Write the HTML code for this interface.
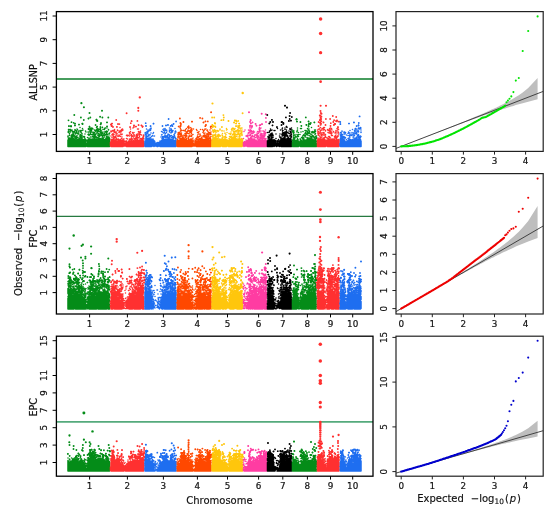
<!DOCTYPE html>
<html lang="en"><head><meta charset="utf-8"><title>Manhattan and QQ plots</title>
<style>html,body{margin:0;padding:0;background:#fff}body{width:550px;height:513px;overflow:hidden}</style></head>
<body>
<svg width="550" height="513" viewBox="0 0 550 513" style="display:block">
<rect width="550" height="513" fill="#fff"/>
<g transform="scale(.5)" stroke-width="3.1" stroke-linecap="round" fill="none">
<path d="M136 293v-13M136 274v-2M136 264h0M137 293v-17M137 265h0M137 262h0M137 259h0M138 293v-14M138 264v-1M138 260v-1M138 252h0M139 293v-17M139 271v-1M139 267h0M140 293v-13M140 276h0M140 259h0M141 293v-16M141 264h0M141 261v-2M142 293v-13M142 272h0M142 253v-1M143 293v-19M143 270h0M143 261h0M144 293v-15M144 275v-1M144 261v-1M145 293v-13M145 276h0M145 273v-1M145 269v-1M145 264v-1M146 293v-12M146 274v-2M147 293v-16M147 269h0M147 266h0M147 263h0M148 293v-12M148 272v-2M148 264h0M149 293v-13M149 276h0M149 272h0M149 263h0M150 293v-14M150 276v-4M150 266h0M150 261v-2M150 251h0M150 247h0M151 293v-11M151 277h0M151 268v-2M152 293v-11M152 278h0M152 275v-2M152 261h0M153 293v-12M153 278v-2M153 266v-3M154 293v-14M154 276v-2M154 271h0M154 266h0M154 262h0M154 258h0M155 293v-13M155 267h0M155 259h0M156 293v-14M156 275h0M156 268v-2M157 293v-15M157 268h0M157 262h0M158 293v-14M158 268h0M158 264h0M158 249h0M159 293v-16M159 272h0M160 293v-12M160 277v-2M160 261h0M160 255h0M161 293v-14M161 273h0M161 270v-1M161 263h0M162 293v-12M162 276h0M162 265v-1M162 261h0M163 293v-13M163 277v-3M163 271h0M163 266h0M164 293v-12M164 271v-1M164 267h0M164 261h0M165 293v-15M165 274h0M165 257h0M165 248v-1M166 293v-11M166 274h0M166 260h0M167 292v-11M167 273h0M168 293v-14M169 293v-13M169 275v-2M170 293v-13M170 277h0M170 268h0M171 293v-14M171 262h0M172 293v-6M172 264h0M173 290v-1M173 282h0M174 292v-2M174 286h0M174 280h0M175 293v-11M175 275h0M176 293v-13M176 269h0M176 264h0M177 293v-15M177 268h0M177 259v-2M177 237h0M178 293v-14M178 276h0M178 271v-1M178 264h0M179 293v-13M179 269h0M179 256h0M179 253h0M180 292v-14M180 269h0M180 262v-3M180 256h0M181 293v-12M181 274h0M181 267v-2M182 293v-15M182 269h0M182 264v-3M182 258v-2M183 293v-13M183 264h0M183 261v-2M184 293v-13M184 274h0M184 269h0M184 256h0M185 293v-15M185 273h0M185 257h0M186 293v-14M186 272h0M186 269h0M186 266v-2M186 258h0M187 293v-13M187 276h0M187 273h0M188 293v-13M188 269v-3M189 293v-19M189 271v-3M189 265h0M189 260h0M190 293v-14M190 276h0M190 271h0M190 264h0M190 261h0M191 293v-14M191 272h0M191 269v-1M191 262v-1M191 250h0M192 293v-14M192 274v-1M192 268h0M193 293v-13M193 276h0M193 262v-3M193 255h0M193 239h0M194 293v-14M194 276v-1M194 266v-1M194 262v-2M194 253h0M194 241h0M195 293v-14M195 275h0M195 270h0M195 266h0M195 263h0M195 260v-3M195 242h0M196 293v-13M196 262h0M196 258h0M197 293v-17M197 272v-2M197 267h0M197 263v-2M198 293v-13M198 274h0M198 270h0M198 258h0M199 293v-16M199 273v-1M199 268h0M199 259h0M200 293v-14M200 272v-1M200 264v-1M201 293v-16M201 268h0M201 265h0M201 261v-4M201 254h0M201 249h0M202 293v-15M202 262v-1M202 246h0M203 293v-15M203 271v-2M203 266v-1M203 262h0M204 293v-13M204 276h0M204 266h0M205 293v-13M205 276h0M205 273v-2M205 267v-1M205 255h0M206 293v-15M206 272h0M206 268h0M206 264h0M206 259h0M207 293v-13M207 276h0M207 271h0M208 293v-14M208 275h0M208 268h0M209 292v-11M209 272v-1M209 268v-2M209 259v-2M210 293v-14M210 269h0M210 263h0M210 256h0M211 293v-15M211 270h0M211 256h0M212 293v-14M212 276h0M212 269h0M212 265v-1M213 293v-14M213 274v-1M213 267h0M213 263v-1M214 293v-16M214 272h0M214 269h0M214 266h0M214 263h0M214 256h0M214 253h0M214 245h0M215 293v-13M215 275v-1M215 269h0M215 263h0M216 293v-11M216 276v-2M217 293v-16M217 274h0M217 260v-1M218 293v-13M218 276v-2M218 270h0M218 267h0M219 293v-17M219 267v-1" stroke="#048c18"/>
<path d="M221 292v-7M222 293v-11M222 279h0M222 272h0M222 264v-2M222 249h0M223 293v-14M223 263h0M223 252v-1M224 292v-12M224 275h0M224 269h0M224 247h0M225 293v-14M225 262v-1M226 293v-15M226 272v-1M226 268v-1M226 254h0M227 293v-10M227 280v-3M227 274v-1M227 261h0M228 293v-13M228 276h0M228 269h0M228 264v-1M229 293v-13M229 276v-2M229 265h0M229 261v-2M230 293v-13M230 276h0M230 265v-1M231 293v-12M231 273v-1M231 265v-1M232 293v-14M232 275v-1M232 268h0M233 293v-10M233 277h0M233 264h0M234 293v-10M234 279v-1M234 271h0M234 268v-1M234 254h0M235 293v-11M235 261v-1M236 293v-11M236 273h0M236 248h0M237 293v-8M237 282v-4M238 293v-12M238 272v-2M238 265h0M238 262h0M239 293v-13M240 293v-12M240 272h0M240 264v-2M240 255h0M241 293v-14M241 273h0M241 268h0M241 263h0M242 293v-13M242 269h0M242 264h0M242 261h0M243 293v-10M243 277h0M243 262h0M243 259h0M244 293v-12M244 274h0M244 269v-1M245 293v-12M245 261h0M245 258h0M246 293v-15M246 260h0M247 292v-8M248 292v-4M248 283v-1M248 278h0M249 292v-2M249 284v-2M250 292v-5M250 283h0M251 292v-6M252 292v-6M252 282h0M253 293v-11M253 277h0M253 271h0M254 293v-4M254 286v-1M254 270h0M255 293v-8M255 278h0M255 272h0M256 293v-8M256 271h0M257 292v-10M257 271h0M258 293v-8M259 293v-11M259 279v-1M259 272h0M259 268h0M259 265h0M260 293v-11M260 268v-2M260 254h0M261 293v-10M261 279h0M261 263h0M261 258h0M262 293v-11M262 277h0M262 271h0M263 293v-13M263 274h0M263 269h0M263 242h0M264 293v-10M264 278v-1M264 273v-2M265 293v-10M265 272h0M265 265h0M266 293v-10M266 280h0M266 267h0M266 256h0M267 293v-9M267 281h0M267 274h0M268 293v-10M268 277h0M268 271v-2M268 265h0M268 254h0M268 251h0M269 293v-9M269 278h0M269 272h0M270 293v-16M271 293v-10M271 280h0M272 293v-9M272 281h0M272 277v-2M272 272h0M272 253h0M273 293v-12M273 277v-2M273 271v-2M274 293v-11M274 279h0M274 276v-2M274 271h0M275 293v-10M275 279h0M275 276v-2M275 271h0M275 268h0M275 258h0M276 293v-12M277 293v-12M277 264v-1M277 258h0M277 250h0M278 293v-12M278 276v-1M278 270v-3M278 264h0M279 293v-13M279 273h0M279 270v-1M279 264h0M280 293v-12M280 266v-2M281 293v-11M281 278v-1M281 269h0M281 265h0M281 262h0M282 293v-12M282 277h0M283 293v-13M283 270h0M283 251h0M284 293v-11M284 279v-2M285 293v-13M285 277v-1M285 254v-1M286 293v-14M286 274h0M287 293v-11M287 277h0M287 274v-4M288 292v-6" stroke="#ff3030"/>
<path d="M290 293v-11M290 278h0M290 270h0M290 266h0M291 293v-10M291 278h0M291 274h0M291 269h0M291 265h0M292 293v-12M292 278h0M292 270v-2M292 252h0M293 293v-14M293 276v-3M293 270h0M293 266h0M293 258h0M294 293v-11M294 273v-1M294 266h0M294 263h0M295 293v-12M295 278v-1M295 273h0M295 266h0M295 263h0M296 293v-15M296 268h0M296 264h0M296 260h0M297 293v-12M297 277h0M297 271h0M297 262h0M298 293v-10M298 280v-2M298 274h0M298 270h0M298 262h0M299 293v-16M299 270h0M299 260h0M300 293v-16M300 270v-1M300 258h0M301 293v-14M301 275h0M301 261h0M301 252h0M302 292v-13M302 266h0M302 258v-2M303 293v-9M303 281h0M303 278h0M303 273h0M304 292v-12M305 292v-8M305 281v-2M305 271h0M306 292v-10M306 278h0M306 272h0M306 267h0M307 292v-7M307 282v-2M307 265h0M307 247h0M308 293v-11M309 292v-5M309 282h0M309 272h0M310 291v-1M310 287h0M310 284h0M311 292h0M311 288v-1M312 292v-3M313 292v-2M313 287v-1M314 293v-1M314 289v-2M315 292v-1M315 285h0M316 293v-5M317 292v-3M317 286v-1M318 292v-6M319 292v-7M320 293v-11M321 292v-7M322 293v-11M322 274h0M323 293v-7M323 283v-2M323 270h0M323 263h0M324 293v-13M324 277h0M324 269h0M325 293v-10M325 280v-2M325 275v-2M325 264h0M325 252h0M326 293v-14M326 275v-2M326 259h0M327 293v-14M327 276h0M327 266h0M327 261h0M327 258h0M328 293v-14M328 273h0M329 293v-14M329 265h0M329 262h0M330 293v-13M330 275v-4M330 268h0M330 260v-3M331 293v-13M331 275h0M331 267h0M331 261h0M332 293v-15M332 274v-2M332 261h0M332 251h0M333 293v-14M333 274v-2M333 265h0M333 260h0M334 293v-15M334 275h0M334 272h0M334 262h0M335 293v-14M335 273v-2M336 293v-15M336 275h0M336 270v-2M336 250h0M337 293v-12M337 276h0M337 269h0M338 293v-12M338 277v-3M338 269h0M339 293v-14M339 272v-2M339 264v-4M339 256h0M340 293v-15M340 274h0M340 271h0M341 293v-13M341 272h0M341 260h0M341 252h0M342 293v-15M342 266v-1M342 261h0M342 257h0M343 293v-14M343 275h0M343 271h0M343 264h0M343 259h0M344 293v-14M344 261h0M344 250h0M345 293v-12M345 278h0M345 274v-1M345 264v-1M345 252h0M346 293v-14M346 276h0M346 273h0M346 261h0M347 293v-11M347 277v-4M347 248h0M348 293v-12M348 275h0M348 272h0M348 269h0M349 292v-11M349 271h0M349 268h0M350 293v-12M350 274h0M350 267h0M350 264h0M350 257h0M351 293v-12M351 277v-1M351 263v-1M352 293v-12M352 278v-1M352 264h0" stroke="#1e6ef0"/>
<path d="M354 292v-9M354 280h0M355 293v-14M356 293v-13M356 276v-3M356 270v-1M356 266h0M357 293v-11M357 272h0M357 265h0M357 253h0M358 293v-11M358 273h0M358 269v-2M359 293v-12M359 276h0M359 269h0M359 265h0M360 293v-15M360 274h0M360 270h0M360 264h0M360 255h0M361 293v-12M361 277h0M361 273h0M361 270v-3M361 260h0M361 257h0M361 253v-2M361 246h0M362 293v-15M362 269h0M362 262h0M362 248h0M363 293v-12M363 278h0M363 270v-1M363 266h0M363 260h0M364 293v-12M364 278v-2M364 273v-2M364 261h0M365 293v-13M365 276h0M366 293v-18M367 293v-14M367 272h0M367 261h0M367 244h0M368 293v-11M368 278v-2M368 270h0M368 261h0M369 293v-15M369 271h0M370 293v-13M370 272v-1M370 267h0M370 262h0M371 293v-13M371 275h0M371 272h0M371 267h0M371 262h0M371 259h0M372 293v-12M372 278h0M372 274v-1M372 270v-2M373 293v-16M373 271h0M373 266v-2M373 257h0M374 293v-11M374 272h0M374 266v-1M375 293v-11M375 263h0M376 293v-12M376 276h0M376 267h0M376 262v-2M376 255v-1M377 293v-19M377 262h0M377 254h0M378 293v-14M378 272h0M378 267h0M378 262h0M379 293v-12M380 293v-13M380 273h0M380 270h0M380 265v-1M380 261h0M380 255h0M381 293v-12M381 278h0M381 265h0M381 260h0M382 293v-13M382 263v-2M382 256h0M383 293v-15M383 273v-2M383 267h0M383 264v-6M384 293v-8M384 282v-4M384 270h0M384 261h0M384 258h0M384 243h0M385 292v-7M386 292v-5M386 284v-2M386 276h0M386 269h0M387 292v-5M387 258h0M388 292h0M388 288h0M388 280h0M389 292v-1M389 288h0M389 284h0M390 292v-5M390 284h0M391 292v-11M392 292v-7M392 279v-2M393 293v-9M393 279h0M393 259h0M394 293v-11M394 277v-2M394 261h0M395 293v-10M395 279h0M395 274v-2M395 265h0M396 293v-11M396 275h0M396 269h0M396 265h0M397 293v-14M397 274h0M397 266h0M398 293v-11M398 277h0M398 263h0M399 293v-11M399 278h0M399 273h0M400 293v-10M400 279v-2M400 270v-2M401 293v-13M401 259h0M402 293v-16M402 272h0M403 293v-12M403 276v-1M404 292v-14M405 293v-11M405 278h0M405 259h0M406 293v-14M406 274v-2M406 265h0M407 293v-12M407 271h0M407 263v-2M407 245h0M408 293v-14M408 272h0M408 267h0M409 293v-14M409 274h0M409 270h0M409 260h0M410 293v-14M410 273h0M410 270h0M410 266h0M410 258h0M411 293v-11M411 279h0M411 275h0M411 252h0M411 243h0M412 293v-17M412 271h0M412 258h0M412 250h0M413 293v-14M413 275v-2M414 293v-12M414 275h0M414 270v-3M414 261h0M415 293v-17M415 268h0M415 260h0M416 293v-16M416 273v-1M416 268h0M416 263h0M417 293v-16M417 272h0M417 269h0M417 266v-1M418 293v-11M418 278h0M418 275h0M418 272h0M419 293v-10M419 278v-1M419 266v-1M420 293v-12M420 278v-2M420 269v-3M420 260h0M421 293v-11M421 279v-2M421 274h0M421 268h0M421 254h0M422 293v-13M422 273h0M422 269v-1M422 264h0M422 257h0M422 253h0" stroke="#ff4800"/>
<path d="M424 293v-10M424 280v-1M425 293v-15M425 274v-1M425 270h0M425 260h0M425 255h0M425 251v-1M426 293v-15M426 263v-2M426 253h0M427 293v-17M427 272v-2M427 265v-3M427 252h0M428 293v-13M428 275h0M428 260h0M429 293v-17M429 270h0M429 263v-1M429 259h0M430 293v-15M430 271v-2M430 253h0M430 247v-1M431 293v-15M431 274v-6M431 264h0M431 261h0M431 254h0M432 293v-13M432 276h0M432 270h0M432 261h0M433 293v-12M433 278v-2M433 264h0M434 293v-15M434 273h0M435 293v-13M435 277h0M435 271h0M435 261h0M436 293v-13M436 276h0M436 269h0M436 263h0M437 293v-12M437 274v-2M437 269h0M437 262h0M438 293v-11M438 278h0M438 269h0M439 293v-13M439 272v-1M440 292v-7M440 282v-4M440 271h0M440 260v-2M441 293v-10M441 272h0M442 292v-12M443 292v-9M443 279h0M444 292v-11M444 277v-1M444 270h0M444 262v-1M444 254h0M445 293v-13M445 277h0M445 274h0M445 271h0M445 267h0M446 293v-12M446 278h0M447 293v-12M447 274h0M447 240h0M448 293v-14M448 274h0M448 262h0M449 293v-14M450 293v-12M450 278v-1M450 274v-1M450 267v-1M451 293v-14M451 272h0M452 293v-12M452 275h0M452 269h0M453 293v-13M453 275h0M453 260h0M453 257h0M454 292v-9M454 279h0M454 265h0M454 259h0M455 291v-1M455 287h0M455 283v-2M456 292v-1M456 288h0M456 284v-2M457 293v-9M457 242h0M458 292v-12M458 277h0M458 267h0M459 293v-13M459 277h0M459 273h0M460 293v-10M460 279h0M460 268h0M461 293v-11M461 275v-2M461 269h0M462 293v-14M462 267h0M462 264h0M463 293v-12M463 277v-4M463 259h0M464 293v-15M464 272h0M464 261h0M464 258v-1M465 293v-15M465 269h0M465 257h0M466 293v-18M466 268h0M466 258v-2M467 293v-17M467 269v-1M467 264v-2M467 258v-1M468 293v-14M468 274v-2M468 267h0M468 245h0M469 293v-14M469 275h0M469 269h0M469 266h0M469 263h0M469 259h0M470 293v-16M470 271h0M470 263h0M470 257h0M470 241h0M471 293v-17M471 273h0M471 270v-2M472 293v-13M472 264h0M472 261h0M472 252h0M472 247h0M472 241h0M473 293v-15M473 273h0M473 243h0M474 293v-15M474 270v-1M474 262h0M475 293v-13M475 266h0M475 262v-2M476 293v-15M476 274h0M476 269h0M476 262v-3M476 255h0M476 252h0M477 293v-15M477 267h0M477 264v-2M477 256h0M478 293v-14M478 254h0M478 247h0M479 293v-14M479 276h0M479 273v-4M479 262v-1M479 256h0M479 251h0M480 293v-14M480 276h0M480 269h0M480 266h0M480 261h0M481 293v-13M481 272h0M481 267h0M481 262h0M481 258h0M482 293v-14M482 256h0M483 293v-16M483 268h0M483 265h0M483 262h0M484 293v-15M484 271v-2M484 266h0M484 263h0M484 260h0M484 256h0M485 292v-14" stroke="#ffc60c"/>
<path d="M487 292v-7M487 277h0M488 293v-6M488 284h0M488 263h0M489 291v-2M489 286v-3M490 292v-5M490 260h0M491 292v-5M492 292v-9M492 280h0M492 272h0M493 292v-3M494 292v-5M494 284v-2M494 273v-2M495 293v-12M496 293v-12M496 274h0M496 271h0M496 268h0M497 293v-16M497 266v-1M497 260h0M498 293v-9M498 261h0M499 293v-14M499 271h0M500 293v-13M500 277h0M500 268h0M500 265v-2M500 258h0M500 254h0M500 251h0M500 244h0M501 293v-13M501 275h0M501 271v-2M501 262v-2M501 240h0M502 293v-12M502 278v-2M502 263h0M502 247h0M503 293v-14M503 276h0M503 273h0M503 267h0M503 264v-3M503 256h0M504 293v-13M504 254v-2M505 293v-15M505 272v-1M505 267h0M505 245h0M506 293v-11M506 274h0M506 265v-2M507 293v-15M507 266h0M507 262h0M508 293v-11M508 273h0M509 293v-15M509 273h0M509 270h0M509 264h0M510 293v-11M510 275h0M511 293v-10M511 248h0M512 293v-13M512 275h0M512 271v-2M513 293v-11M513 251h0M514 293v-11M514 273h0M514 270h0M514 266h0M515 293v-11M515 278v-2M515 271h0M515 268h0M515 263h0M516 293v-11M516 278h0M516 275h0M516 272h0M517 293v-12M517 278h0M517 274v-2M517 267h0M517 264h0M518 293v-12M518 274h0M518 264v-1M518 258h0M519 293v-15M519 263v-5M519 255h0M519 251h0M520 293v-12M520 276h0M520 270h0M520 264v-3M520 258v-1M521 293v-12M521 277h0M521 274h0M521 271h0M521 268h0M521 250h0M522 293v-12M522 278v-1M522 272v-2M522 267h0M522 256h0M523 293v-12M523 274h0M523 269v-2M524 293v-12M524 276v-2M524 271h0M524 268h0M524 262h0M524 248h0M525 293v-19M525 268h0M526 293v-12M526 276h0M526 273v-2M527 293v-12M527 276h0M527 271h0M527 262h0M528 292v-12M528 277h0M528 274h0M528 268v-2M528 263h0M529 293v-12M529 277h0M529 273v-6M529 263h0M530 293v-13M530 277h0M530 271h0M530 264h0M531 293v-15M531 268v-1M531 260h0M532 293v-10M532 277h0M532 265h0M533 293v-12" stroke="#ff3ca2"/>
<path d="M535 293v-11M535 265h0M536 293v-13M536 276h0M536 273h0M537 293v-13M538 293v-11M538 277v-3M538 270h0M538 265h0M539 293v-10M539 278h0M539 275h0M539 272h0M539 264v-2M539 247h0M540 293v-13M540 271h0M541 293v-14M541 270v-2M541 261h0M541 258h0M541 244h0M542 293v-9M542 277v-1M542 273v-2M542 261h0M543 293v-12M543 278v-4M543 270h0M543 267h0M544 293v-15M544 271h0M544 266h0M544 260h0M544 240h0M545 293v-12M545 275h0M545 268h0M545 251h0M546 292v-11M546 275h0M546 272v-2M546 244h0M547 292v-12M548 293v-11M548 279h0M548 261h0M549 292v-5M549 284h0M549 280h0M550 292v-5M550 284v-2M550 261h0M551 281h0M552 291v-6M552 282h0M552 277h0M552 268h0M553 293v-6M554 292v-5M554 282h0M554 254h0M555 292v-3M555 284v-2M555 257h0M556 292v-6M556 282v-1M557 292v-6M557 282h0M557 279h0M558 292v-3M558 286h0M558 283h0M559 293v-11M559 272h0M560 292v-6M560 283v-2M560 275h0M560 268h0M561 292v-12M561 260h0M562 293v-19M563 293v-15M563 250h0M563 244h0M564 292v-13M564 270v-2M564 258h0M565 293v-16M565 272h0M565 267h0M565 264h0M565 261h0M565 256h0M566 293v-17M566 271v-2M566 265h0M566 261h0M567 293v-17M567 267h0M567 248v-2M568 293v-14M568 271h0M568 268v-3M569 293v-13M569 277h0M569 274v-2M569 269v-4M570 293v-14M570 273h0M570 264h0M570 259h0M570 256h0M571 293v-14M571 276h0M571 272v-4M571 264h0M572 293v-13M572 272h0M572 269v-5M573 293v-13M573 272h0M573 263h0M573 260h0M573 253h0M574 293v-16M574 272v-2M574 266v-2M574 255h0M575 293v-16M575 273v-2M575 265h0M576 293v-15M576 274h0M577 293v-18M577 266h0M578 293v-14M578 267h0M578 262h0M578 242h0M579 293v-14M579 272h0M580 293v-16M580 267h0M580 259v-2M581 293v-14M581 270h0M581 265v-2M582 293v-15M582 275v-4M582 263h0M582 259h0M582 241h0M583 293v-11M583 274v-1M583 269h0M583 266h0M583 260h0M583 256h0" stroke="#000000"/>
<path d="M585 293v-9M585 281h0M585 263h0M585 260h0M586 293v-14M586 265v-4M587 293v-12M587 278v-3M587 272v-2M587 267h0M587 263h0M588 293v-13M588 276h0M588 271h0M588 265h0M588 262h0M589 293v-12M589 278v-1M590 293v-12M590 276v-2M590 269h0M591 293v-12M591 273v-1M592 293v-12M593 293v-12M593 274h0M593 239v-1M594 293v-13M594 274h0M594 269h0M594 264v-2M594 243h0M595 293v-13M595 277h0M595 272h0M595 260h0M595 256h0M596 292v-13M596 271h0M597 293v-10M597 273h0M597 269h0M597 265h0M598 292v-8M599 292v-2M599 287h0M600 292v-6M600 282h0M600 278h0M600 269h0M601 293v-11M601 279v-1M601 257h0M601 244h0M602 293v-12M602 264h0M603 293v-12M603 275h0M603 257h0M603 252h0M604 293v-11M605 293v-11M605 278v-4M606 293v-10M606 277v-2M606 272v-1M606 263h0M607 293v-14M607 270h0M608 293v-14M608 276h0M608 270v-1M609 293v-10M609 271h0M610 293v-12M610 273h0M610 267h0M610 261h0M611 293v-13M611 274h0M611 271h0M611 267v-2M612 293v-12M612 269h0M612 262v-1M613 293v-13M613 269h0M613 262h0M613 250h0M614 293v-15M614 275h0M614 267v-1M615 293v-16M615 270h0M615 264v-1M615 257h0M616 293v-13M616 276h0M616 267v-3M616 260h0M617 293v-14M617 253h0M617 250h0M617 243h0M618 293v-13M618 277v-1M618 271h0M618 267v-1M618 261h0M618 258h0M618 247h0M619 293v-15M619 264v-2M620 293v-13M620 277v-1M620 272h0M620 267h0M620 248h0M621 293v-14M621 273h0M622 293v-12M622 278v-2M622 273h0M622 269h0M623 293v-11M623 279h0M623 276v-2M623 264h0M623 255h0M624 293v-15M624 273h0M624 270h0M624 266h0M625 293v-14M625 271h0M625 264v-1M626 293v-12M626 278h0M626 274h0M626 265h0M627 293v-13M627 272h0M627 264h0M628 293v-13M628 274h0M628 266h0M629 293v-12M629 276h0M629 265v-2M629 260h0M629 245h0M630 293v-12M630 278v-1M630 274h0M630 269h0M630 261h0M631 293v-14M631 267h0M631 263h0M631 260h0M632 293v-12M632 278h0M632 274v-2M633 293v-6M633 283h0M633 277v-2M633 272h0" stroke="#048c18"/>
<path d="M635 293v-13M635 262h0M636 293v-17M636 270h0M636 267v-2M636 259h0M637 293v-15M637 268v-2M637 263h0M637 252h0M637 244h0M638 293v-13M638 271h0M638 268h0M638 258h0M639 293v-15M639 266h0M640 293v-17M640 273h0M640 264h0M640 260h0M640 256h0M640 240h0M641 293v-15M641 266h0M641 262v-1M641 255h0M642 293v-14M642 275h0M642 270v-1M642 266h0M643 293v-15M643 271h0M643 266h0M643 260h0M644 293v-11M644 274h0M644 271v-2M644 260h0M644 257h0M645 293v-13M646 293v-16M646 268h0M646 265h0M646 257h0M647 293v-17M647 260h0M647 257v-2M647 245h0M648 293v-12M648 271h0M648 268h0M648 265h0M649 293v-11M649 278h0M649 275h0M649 268h0M649 259h0M649 255h0M650 293v-13M651 293v-7M651 283h0M651 273v-1M651 269h0M651 262v-1M651 250h0M652 291v-2M652 285h0M652 280h0M652 275h0M653 292v-8M653 281h0M654 292v-9M654 276h0M655 293v-13M655 276h0M655 259h0M656 293v-12M656 278h0M656 265h0M656 261h0M657 293v-12M657 277h0M657 273h0M657 260h0M658 293v-14M658 266h0M658 261h0M659 293v-14M659 275v-2M659 266h0M659 262v-2M659 257h0M660 293v-13M660 276h0M660 264v-5M661 293v-13M661 276h0M661 267h0M661 262h0M661 256h0M661 252h0M662 293v-14M662 264h0M663 293v-13M663 271v-1M663 267h0M663 264h0M663 258v-1M664 293v-12M664 278h0M664 266h0M664 260h0M665 293v-14M665 271h0M666 293v-12M666 278h0M667 293v-12M667 264v-1M667 244h0M668 293v-10M668 280v-2M668 250h0M669 293v-15M669 274v-1M669 248h0M670 293v-12M670 275h0M670 266h0M670 248h0M671 293v-11M671 272v-1M671 266v-1M672 293v-13M672 277v-4M672 270h0M672 263v-2M672 242h0M673 293v-12M673 278v-3M674 293v-11M674 275h0M674 266h0M674 257h0M674 241h0M675 293v-13M675 273h0M675 260h0M676 293v-14M676 273v-2M676 263h0M676 256v-2M677 293v-12M677 268h0M677 265h0M677 259h0M678 293v-14M678 243h0" stroke="#ff3030"/>
<path d="M680 292v-5M680 268h0M681 293v-17M681 272v-1M681 265h0M681 248h0M682 293v-11M682 275v-3M682 269h0M683 293v-15M683 274h0M683 269h0M683 266h0M684 293v-12M684 277h0M684 273v-3M684 263v-1M685 293v-14M685 274h0M685 269h0M686 293v-18M687 293v-14M687 273h0M688 293v-12M688 274v-1M688 268h0M688 265v-1M689 293v-13M689 276h0M689 268h0M689 264h0M690 293v-11M690 277v-2M690 268h0M691 293v-9M691 275h0M691 266v-1M692 292v-8M693 293v-6M693 279h0M693 270h0M694 293v-7M694 283v-1M695 293v-8M696 293v-12M696 277h0M696 271h0M696 267h0M697 293v-12M697 264h0M698 293v-14M698 276h0M698 266h0M698 247h0M699 293v-11M699 278h0M699 272v-1M699 266h0M700 293v-13M700 274h0M700 271v-2M700 266h0M700 261h0M701 293v-14M701 270h0M702 293v-12M703 293v-13M703 271h0M704 293v-13M704 269v-1M704 265h0M705 293v-14M705 270h0M705 259h0M706 293v-9M706 281h0M706 274h0M707 293v-12M707 276h0M707 266h0M708 293v-10M708 279h0M708 272v-5M708 245h0M709 293v-13M709 271h0M709 264h0M709 261h0M710 292v-9M710 280v-4M710 264v-2M710 258h0M711 293v-13M711 277h0M711 267h0M711 257h0M712 293v-17M712 268h0M712 260h0M712 257h0M713 293v-14M713 274h0M713 268v-4M713 260h0M713 252h0M714 293v-13M714 277h0M714 268h0M714 264h0M715 293v-15M715 274h0M715 271h0M716 292v-13M716 263v-2M716 258h0M717 293v-15M717 275h0M717 272v-3M717 264v-2M717 256h0M717 251h0M718 292v-10M718 278v-1M718 273v-1M718 256h0M719 293v-14M719 276v-3M719 258h0M720 293v-13M720 277h0M721 293v-14M721 275h0M721 272h0M721 257v-2M722 293v-11M722 273h0M722 265v-1M722 260h0M722 256h0" stroke="#1e6ef0"/>
</g>
<line x1="56.4" x2="373.0" y1="79.0" y2="79.0" stroke="#0a7d28" stroke-width="1.7"/>
<circle cx="79.0" cy="124.6" r="0.86" fill="#048c18"/>
<circle cx="89.5" cy="126.5" r="0.84" fill="#048c18"/>
<circle cx="74.9" cy="125.4" r="0.85" fill="#048c18"/>
<circle cx="95.6" cy="125.0" r="0.85" fill="#048c18"/>
<circle cx="70.9" cy="126.1" r="0.84" fill="#048c18"/>
<circle cx="75.0" cy="123.7" r="0.87" fill="#048c18"/>
<circle cx="96.9" cy="120.5" r="0.90" fill="#048c18"/>
<circle cx="71.2" cy="126.4" r="0.84" fill="#048c18"/>
<circle cx="82.6" cy="124.1" r="0.86" fill="#048c18"/>
<circle cx="97.3" cy="120.9" r="0.90" fill="#048c18"/>
<circle cx="100.7" cy="124.3" r="0.86" fill="#048c18"/>
<circle cx="82.3" cy="123.6" r="0.87" fill="#048c18"/>
<circle cx="88.5" cy="118.5" r="0.92" fill="#048c18"/>
<circle cx="68.9" cy="126.2" r="0.84" fill="#048c18"/>
<circle cx="107.0" cy="122.3" r="0.88" fill="#048c18"/>
<circle cx="107.1" cy="126.3" r="0.84" fill="#048c18"/>
<circle cx="102.3" cy="127.3" r="0.83" fill="#048c18"/>
<circle cx="96.4" cy="119.7" r="0.91" fill="#048c18"/>
<circle cx="111.6" cy="126.1" r="0.84" fill="#ff3030"/>
<circle cx="112.0" cy="123.6" r="0.87" fill="#ff3030"/>
<circle cx="134.0" cy="125.3" r="0.85" fill="#ff3030"/>
<circle cx="133.8" cy="127.0" r="0.83" fill="#ff3030"/>
<circle cx="130.1" cy="127.2" r="0.83" fill="#ff3030"/>
<circle cx="135.9" cy="126.6" r="0.84" fill="#ff3030"/>
<circle cx="141.4" cy="125.3" r="0.85" fill="#ff3030"/>
<circle cx="116.8" cy="126.9" r="0.83" fill="#ff3030"/>
<circle cx="111.7" cy="125.5" r="0.85" fill="#ff3030"/>
<circle cx="131.6" cy="121.2" r="0.90" fill="#ff3030"/>
<circle cx="111.0" cy="124.4" r="0.86" fill="#ff3030"/>
<circle cx="112.9" cy="126.9" r="0.83" fill="#ff3030"/>
<circle cx="118.0" cy="124.1" r="0.86" fill="#ff3030"/>
<circle cx="142.7" cy="126.3" r="0.84" fill="#ff3030"/>
<circle cx="142.4" cy="126.8" r="0.83" fill="#ff3030"/>
<circle cx="146.0" cy="125.9" r="0.84" fill="#1e6ef0"/>
<circle cx="150.6" cy="126.2" r="0.84" fill="#1e6ef0"/>
<circle cx="167.9" cy="124.9" r="0.86" fill="#1e6ef0"/>
<circle cx="162.5" cy="126.0" r="0.84" fill="#1e6ef0"/>
<circle cx="166.0" cy="125.4" r="0.85" fill="#1e6ef0"/>
<circle cx="172.4" cy="126.2" r="0.84" fill="#1e6ef0"/>
<circle cx="173.6" cy="123.8" r="0.87" fill="#1e6ef0"/>
<circle cx="170.7" cy="125.8" r="0.84" fill="#1e6ef0"/>
<circle cx="153.5" cy="123.7" r="0.87" fill="#1e6ef0"/>
<circle cx="171.8" cy="125.2" r="0.85" fill="#1e6ef0"/>
<circle cx="203.5" cy="122.4" r="0.88" fill="#ff4800"/>
<circle cx="205.3" cy="126.2" r="0.84" fill="#ff4800"/>
<circle cx="211.1" cy="126.3" r="0.84" fill="#ff4800"/>
<circle cx="178.7" cy="126.5" r="0.84" fill="#ff4800"/>
<circle cx="192.0" cy="121.7" r="0.89" fill="#ff4800"/>
<circle cx="205.9" cy="124.9" r="0.86" fill="#ff4800"/>
<circle cx="205.4" cy="121.3" r="0.89" fill="#ff4800"/>
<circle cx="180.9" cy="124.0" r="0.86" fill="#ff4800"/>
<circle cx="210.7" cy="127.0" r="0.83" fill="#ff4800"/>
<circle cx="183.4" cy="122.0" r="0.89" fill="#ff4800"/>
<circle cx="180.4" cy="123.1" r="0.87" fill="#ff4800"/>
<circle cx="214.8" cy="123.2" r="0.87" fill="#ffc60c"/>
<circle cx="215.2" cy="123.6" r="0.87" fill="#ffc60c"/>
<circle cx="212.3" cy="124.8" r="0.86" fill="#ffc60c"/>
<circle cx="238.9" cy="127.0" r="0.83" fill="#ffc60c"/>
<circle cx="212.7" cy="127.3" r="0.83" fill="#ffc60c"/>
<circle cx="221.8" cy="127.1" r="0.83" fill="#ffc60c"/>
<circle cx="223.4" cy="119.9" r="0.91" fill="#ffc60c"/>
<circle cx="215.1" cy="126.3" r="0.84" fill="#ffc60c"/>
<circle cx="236.2" cy="120.6" r="0.90" fill="#ffc60c"/>
<circle cx="212.5" cy="125.4" r="0.85" fill="#ffc60c"/>
<circle cx="236.7" cy="121.6" r="0.89" fill="#ffc60c"/>
<circle cx="212.9" cy="126.5" r="0.84" fill="#ffc60c"/>
<circle cx="238.2" cy="126.0" r="0.84" fill="#ffc60c"/>
<circle cx="234.8" cy="120.5" r="0.90" fill="#ffc60c"/>
<circle cx="228.5" cy="120.9" r="0.90" fill="#ffc60c"/>
<circle cx="215.5" cy="127.1" r="0.83" fill="#ffc60c"/>
<circle cx="239.2" cy="123.5" r="0.87" fill="#ffc60c"/>
<circle cx="234.2" cy="122.5" r="0.88" fill="#ffc60c"/>
<circle cx="213.7" cy="126.1" r="0.84" fill="#ffc60c"/>
<circle cx="236.2" cy="123.5" r="0.87" fill="#ffc60c"/>
<circle cx="239.6" cy="125.7" r="0.85" fill="#ffc60c"/>
<circle cx="236.1" cy="126.2" r="0.84" fill="#ffc60c"/>
<circle cx="262.0" cy="124.2" r="0.86" fill="#ff3ca2"/>
<circle cx="250.0" cy="126.9" r="0.83" fill="#ff3ca2"/>
<circle cx="256.5" cy="125.7" r="0.85" fill="#ff3ca2"/>
<circle cx="252.0" cy="125.9" r="0.84" fill="#ff3ca2"/>
<circle cx="259.6" cy="125.3" r="0.85" fill="#ff3ca2"/>
<circle cx="255.6" cy="123.8" r="0.87" fill="#ff3ca2"/>
<circle cx="250.8" cy="123.4" r="0.87" fill="#ff3ca2"/>
<circle cx="260.3" cy="125.1" r="0.85" fill="#ff3ca2"/>
<circle cx="252.5" cy="122.3" r="0.88" fill="#ff3ca2"/>
<circle cx="251.9" cy="126.8" r="0.83" fill="#ff3ca2"/>
<circle cx="250.2" cy="121.8" r="0.89" fill="#ff3ca2"/>
<circle cx="250.7" cy="120.2" r="0.91" fill="#ff3ca2"/>
<circle cx="250.2" cy="125.6" r="0.85" fill="#ff3ca2"/>
<circle cx="273.0" cy="121.9" r="0.89" fill="#000000"/>
<circle cx="281.5" cy="125.0" r="0.85" fill="#000000"/>
<circle cx="272.5" cy="125.3" r="0.85" fill="#000000"/>
<circle cx="283.3" cy="123.0" r="0.88" fill="#000000"/>
<circle cx="283.3" cy="124.0" r="0.86" fill="#000000"/>
<circle cx="281.6" cy="122.2" r="0.88" fill="#000000"/>
<circle cx="270.3" cy="121.9" r="0.89" fill="#000000"/>
<circle cx="271.9" cy="119.8" r="0.91" fill="#000000"/>
<circle cx="288.8" cy="120.9" r="0.90" fill="#000000"/>
<circle cx="269.3" cy="123.4" r="0.87" fill="#000000"/>
<circle cx="290.9" cy="120.7" r="0.90" fill="#000000"/>
<circle cx="276.9" cy="127.2" r="0.83" fill="#000000"/>
<circle cx="286.5" cy="126.7" r="0.84" fill="#000000"/>
<circle cx="308.6" cy="121.3" r="0.89" fill="#048c18"/>
<circle cx="301.3" cy="125.8" r="0.84" fill="#048c18"/>
<circle cx="308.5" cy="125.0" r="0.85" fill="#048c18"/>
<circle cx="296.5" cy="119.6" r="0.91" fill="#048c18"/>
<circle cx="306.3" cy="124.8" r="0.86" fill="#048c18"/>
<circle cx="310.1" cy="124.2" r="0.86" fill="#048c18"/>
<circle cx="300.4" cy="122.1" r="0.89" fill="#048c18"/>
<circle cx="296.6" cy="119.2" r="0.92" fill="#048c18"/>
<circle cx="314.3" cy="122.3" r="0.88" fill="#048c18"/>
<circle cx="320.2" cy="120.0" r="0.91" fill="#ff3030"/>
<circle cx="337.9" cy="127.1" r="0.83" fill="#ff3030"/>
<circle cx="318.7" cy="122.1" r="0.89" fill="#ff3030"/>
<circle cx="334.7" cy="124.0" r="0.86" fill="#ff3030"/>
<circle cx="318.5" cy="126.2" r="0.84" fill="#ff3030"/>
<circle cx="330.5" cy="125.8" r="0.84" fill="#ff3030"/>
<circle cx="333.8" cy="124.9" r="0.85" fill="#ff3030"/>
<circle cx="333.3" cy="121.9" r="0.89" fill="#ff3030"/>
<circle cx="325.5" cy="124.9" r="0.85" fill="#ff3030"/>
<circle cx="338.9" cy="121.7" r="0.89" fill="#ff3030"/>
<circle cx="337.0" cy="120.4" r="0.90" fill="#ff3030"/>
<circle cx="323.5" cy="122.4" r="0.88" fill="#ff3030"/>
<circle cx="335.2" cy="123.9" r="0.87" fill="#ff3030"/>
<circle cx="336.1" cy="121.1" r="0.90" fill="#ff3030"/>
<circle cx="358.5" cy="125.7" r="0.85" fill="#1e6ef0"/>
<circle cx="340.3" cy="124.2" r="0.86" fill="#1e6ef0"/>
<circle cx="356.7" cy="126.1" r="0.84" fill="#1e6ef0"/>
<circle cx="353.9" cy="122.4" r="0.88" fill="#1e6ef0"/>
<circle cx="349.0" cy="123.5" r="0.87" fill="#1e6ef0"/>
<circle cx="101.0" cy="123.2" r="0.87" fill="#048c18"/>
<circle cx="100.3" cy="127.2" r="0.83" fill="#048c18"/>
<circle cx="309.0" cy="123.4" r="0.87" fill="#048c18"/>
<circle cx="308.6" cy="126.7" r="0.83" fill="#048c18"/>
<circle cx="188.2" cy="127.1" r="0.83" fill="#ff4800"/>
<circle cx="188.3" cy="127.2" r="0.83" fill="#ff4800"/>
<circle cx="297.0" cy="121.6" r="0.89" fill="#048c18"/>
<circle cx="138.6" cy="125.1" r="0.85" fill="#ff3030"/>
<circle cx="97.2" cy="126.7" r="0.84" fill="#048c18"/>
<circle cx="180.6" cy="125.5" r="0.85" fill="#ff4800"/>
<circle cx="180.4" cy="126.3" r="0.84" fill="#ff4800"/>
<circle cx="320.6" cy="18.9" r="1.75" fill="#ff3030"/>
<circle cx="320.6" cy="33.5" r="1.75" fill="#ff3030"/>
<circle cx="320.6" cy="52.7" r="1.65" fill="#ff3030"/>
<circle cx="320.6" cy="81.7" r="1.33" fill="#ff3030"/>
<circle cx="320.6" cy="105.7" r="1.07" fill="#ff3030"/>
<circle cx="320.5" cy="111.0" r="1.01" fill="#ff3030"/>
<circle cx="320.8" cy="113.1" r="0.98" fill="#ff3030"/>
<circle cx="320.4" cy="115.5" r="0.96" fill="#ff3030"/>
<circle cx="320.5" cy="117.3" r="0.94" fill="#ff3030"/>
<circle cx="320.5" cy="119.0" r="0.92" fill="#ff3030"/>
<circle cx="320.8" cy="120.8" r="0.90" fill="#ff3030"/>
<circle cx="320.4" cy="122.6" r="0.88" fill="#ff3030"/>
<circle cx="320.4" cy="123.8" r="0.87" fill="#ff3030"/>
<circle cx="320.6" cy="125.0" r="0.85" fill="#ff3030"/>
<circle cx="326.0" cy="105.7" r="1.07" fill="#ff3030"/>
<circle cx="325.9" cy="119.0" r="0.92" fill="#ff3030"/>
<circle cx="321.5" cy="113.7" r="0.98" fill="#ff3030"/>
<circle cx="321.4" cy="116.7" r="0.95" fill="#ff3030"/>
<circle cx="321.2" cy="119.0" r="0.92" fill="#ff3030"/>
<circle cx="321.4" cy="121.4" r="0.89" fill="#ff3030"/>
<circle cx="321.2" cy="123.8" r="0.87" fill="#ff3030"/>
<circle cx="319.8" cy="115.5" r="0.96" fill="#ff3030"/>
<circle cx="319.8" cy="120.2" r="0.91" fill="#ff3030"/>
<circle cx="320.0" cy="122.6" r="0.88" fill="#ff3030"/>
<circle cx="81.4" cy="103.2" r="1.09" fill="#048c18"/>
<circle cx="83.9" cy="107.3" r="1.05" fill="#048c18"/>
<circle cx="83.8" cy="120.0" r="0.91" fill="#048c18"/>
<circle cx="102.0" cy="110.8" r="1.01" fill="#048c18"/>
<circle cx="89.5" cy="113.1" r="0.98" fill="#048c18"/>
<circle cx="74.3" cy="115.0" r="0.96" fill="#048c18"/>
<circle cx="80.9" cy="117.5" r="0.94" fill="#048c18"/>
<circle cx="90.3" cy="117.5" r="0.94" fill="#048c18"/>
<circle cx="100.1" cy="116.7" r="0.95" fill="#048c18"/>
<circle cx="102.4" cy="117.5" r="0.94" fill="#048c18"/>
<circle cx="68.5" cy="120.3" r="0.90" fill="#048c18"/>
<circle cx="71.5" cy="122.2" r="0.88" fill="#048c18"/>
<circle cx="73.6" cy="122.8" r="0.88" fill="#048c18"/>
<circle cx="108.3" cy="117.5" r="0.94" fill="#048c18"/>
<circle cx="139.8" cy="97.4" r="1.16" fill="#ff3030"/>
<circle cx="138.3" cy="107.9" r="1.04" fill="#ff3030"/>
<circle cx="138.3" cy="110.8" r="1.01" fill="#ff3030"/>
<circle cx="126.6" cy="113.2" r="0.98" fill="#ff3030"/>
<circle cx="116.2" cy="120.0" r="0.91" fill="#ff3030"/>
<circle cx="137.4" cy="120.9" r="0.90" fill="#ff3030"/>
<circle cx="119.4" cy="124.1" r="0.86" fill="#ff3030"/>
<circle cx="130.8" cy="123.2" r="0.87" fill="#ff3030"/>
<circle cx="145.7" cy="123.2" r="0.87" fill="#1e6ef0"/>
<circle cx="168.6" cy="119.0" r="0.92" fill="#1e6ef0"/>
<circle cx="176.1" cy="121.4" r="0.89" fill="#1e6ef0"/>
<circle cx="179.9" cy="118.5" r="0.93" fill="#ff4800"/>
<circle cx="200.1" cy="117.9" r="0.93" fill="#ff4800"/>
<circle cx="202.4" cy="118.5" r="0.93" fill="#ff4800"/>
<circle cx="211.1" cy="112.3" r="0.99" fill="#ff4800"/>
<circle cx="207.8" cy="121.4" r="0.89" fill="#ff4800"/>
<circle cx="188.7" cy="126.2" r="0.84" fill="#ff4800"/>
<circle cx="188.8" cy="128.5" r="0.81" fill="#ff4800"/>
<circle cx="212.5" cy="103.5" r="1.09" fill="#ffc60c"/>
<circle cx="242.7" cy="93.0" r="1.21" fill="#ffc60c"/>
<circle cx="242.6" cy="113.2" r="0.98" fill="#ffc60c"/>
<circle cx="212.1" cy="117.5" r="0.94" fill="#ffc60c"/>
<circle cx="214.2" cy="117.5" r="0.94" fill="#ffc60c"/>
<circle cx="223.4" cy="115.1" r="0.96" fill="#ffc60c"/>
<circle cx="223.8" cy="117.5" r="0.94" fill="#ffc60c"/>
<circle cx="221.3" cy="120.2" r="0.91" fill="#ffc60c"/>
<circle cx="238.2" cy="120.9" r="0.90" fill="#ffc60c"/>
<circle cx="249.0" cy="112.3" r="0.99" fill="#ff3ca2"/>
<circle cx="261.7" cy="113.8" r="0.98" fill="#ff3ca2"/>
<circle cx="265.8" cy="114.3" r="0.97" fill="#ff3ca2"/>
<circle cx="265.9" cy="117.9" r="0.93" fill="#ff3ca2"/>
<circle cx="266.0" cy="122.0" r="0.89" fill="#ff3ca2"/>
<circle cx="285.0" cy="105.7" r="1.07" fill="#000000"/>
<circle cx="287.0" cy="107.6" r="1.05" fill="#000000"/>
<circle cx="290.1" cy="113.0" r="0.99" fill="#000000"/>
<circle cx="289.6" cy="116.0" r="0.95" fill="#000000"/>
<circle cx="289.7" cy="119.0" r="0.92" fill="#000000"/>
<circle cx="291.8" cy="117.0" r="0.94" fill="#000000"/>
<circle cx="285.9" cy="117.4" r="0.94" fill="#000000"/>
<circle cx="282.1" cy="122.0" r="0.89" fill="#000000"/>
<circle cx="267.3" cy="115.0" r="0.96" fill="#000000"/>
<circle cx="305.8" cy="117.4" r="0.94" fill="#048c18"/>
<circle cx="310.8" cy="123.0" r="0.88" fill="#048c18"/>
<circle cx="332.8" cy="116.0" r="0.95" fill="#ff3030"/>
<circle cx="336.2" cy="117.0" r="0.94" fill="#ff3030"/>
<circle cx="330.1" cy="119.0" r="0.92" fill="#ff3030"/>
<circle cx="334.1" cy="120.2" r="0.91" fill="#ff3030"/>
<circle cx="336.9" cy="121.4" r="0.89" fill="#ff3030"/>
<circle cx="330.8" cy="123.2" r="0.87" fill="#ff3030"/>
<circle cx="359.6" cy="116.4" r="0.95" fill="#1e6ef0"/>
<circle cx="358.8" cy="123.0" r="0.88" fill="#1e6ef0"/>
<circle cx="358.5" cy="125.0" r="0.85" fill="#1e6ef0"/>
<circle cx="340.3" cy="122.0" r="0.89" fill="#1e6ef0"/>
<rect x="56.4" y="11.6" width="316.6" height="139.8" fill="none" stroke="#000" stroke-width="1.3"/>
<path d="M52.6 134.5H56.4M52.6 110.8H56.4M52.6 87.1H56.4M52.6 63.4H56.4M52.6 39.7H56.4M52.6 16.0H56.4M89.6 151.4v3.4M127.4 151.4v3.4M163.4 151.4v3.4M197.4 151.4v3.4M227.5 151.4v3.4M258.6 151.4v3.4M282.8 151.4v3.4M307.4 151.4v3.4M330.5 151.4v3.4M352.7 151.4v3.4" stroke="#000" stroke-width="1" fill="none"/>
<text transform="translate(47.4 134.5) rotate(-90)" text-anchor="middle" style="font-family:'DejaVu Sans','Liberation Sans',sans-serif;font-size:8.8px;fill:#111;stroke:#111;stroke-width:.2px">1</text>
<text transform="translate(47.4 110.8) rotate(-90)" text-anchor="middle" style="font-family:'DejaVu Sans','Liberation Sans',sans-serif;font-size:8.8px;fill:#111;stroke:#111;stroke-width:.2px">3</text>
<text transform="translate(47.4 87.1) rotate(-90)" text-anchor="middle" style="font-family:'DejaVu Sans','Liberation Sans',sans-serif;font-size:8.8px;fill:#111;stroke:#111;stroke-width:.2px">5</text>
<text transform="translate(47.4 63.4) rotate(-90)" text-anchor="middle" style="font-family:'DejaVu Sans','Liberation Sans',sans-serif;font-size:8.8px;fill:#111;stroke:#111;stroke-width:.2px">7</text>
<text transform="translate(47.4 39.7) rotate(-90)" text-anchor="middle" style="font-family:'DejaVu Sans','Liberation Sans',sans-serif;font-size:8.8px;fill:#111;stroke:#111;stroke-width:.2px">9</text>
<text transform="translate(47.4 16.0) rotate(-90)" text-anchor="middle" style="font-family:'DejaVu Sans','Liberation Sans',sans-serif;font-size:8.8px;fill:#111;stroke:#111;stroke-width:.2px">11</text>
<text x="89.6" y="164.0" text-anchor="middle" style="font-family:'DejaVu Sans','Liberation Sans',sans-serif;font-size:8.8px;fill:#111;stroke:#111;stroke-width:.2px">1</text>
<text x="127.4" y="164.0" text-anchor="middle" style="font-family:'DejaVu Sans','Liberation Sans',sans-serif;font-size:8.8px;fill:#111;stroke:#111;stroke-width:.2px">2</text>
<text x="163.4" y="164.0" text-anchor="middle" style="font-family:'DejaVu Sans','Liberation Sans',sans-serif;font-size:8.8px;fill:#111;stroke:#111;stroke-width:.2px">3</text>
<text x="197.4" y="164.0" text-anchor="middle" style="font-family:'DejaVu Sans','Liberation Sans',sans-serif;font-size:8.8px;fill:#111;stroke:#111;stroke-width:.2px">4</text>
<text x="227.5" y="164.0" text-anchor="middle" style="font-family:'DejaVu Sans','Liberation Sans',sans-serif;font-size:8.8px;fill:#111;stroke:#111;stroke-width:.2px">5</text>
<text x="258.6" y="164.0" text-anchor="middle" style="font-family:'DejaVu Sans','Liberation Sans',sans-serif;font-size:8.8px;fill:#111;stroke:#111;stroke-width:.2px">6</text>
<text x="282.8" y="164.0" text-anchor="middle" style="font-family:'DejaVu Sans','Liberation Sans',sans-serif;font-size:8.8px;fill:#111;stroke:#111;stroke-width:.2px">7</text>
<text x="307.4" y="164.0" text-anchor="middle" style="font-family:'DejaVu Sans','Liberation Sans',sans-serif;font-size:8.8px;fill:#111;stroke:#111;stroke-width:.2px">8</text>
<text x="330.5" y="164.0" text-anchor="middle" style="font-family:'DejaVu Sans','Liberation Sans',sans-serif;font-size:8.8px;fill:#111;stroke:#111;stroke-width:.2px">9</text>
<text x="352.7" y="164.0" text-anchor="middle" style="font-family:'DejaVu Sans','Liberation Sans',sans-serif;font-size:8.8px;fill:#111;stroke:#111;stroke-width:.2px">10</text>
<text transform="translate(36.7 82.35) rotate(-90)" text-anchor="middle" style="font-family:'DejaVu Sans','Liberation Sans',sans-serif;font-size:9.6px;fill:#111;stroke:#111;stroke-width:.2px">ALLSNP</text>
<polygon points="537.6,78.0 528.2,88.1 522.7,92.5 518.8,95.2 515.8,97.1 513.4,98.6 511.3,99.8 509.5,100.8 507.9,101.7 506.5,102.4 505.2,103.1 504.0,103.7 502.9,104.2 501.9,104.7 501.0,105.2 500.1,105.6 498.5,106.4 497.8,106.8 496.5,107.4 495.2,108.0 494.1,108.5 493.1,109.0 491.6,109.6 490.8,110.0 489.6,110.6 488.4,111.1 487.1,111.7 485.9,112.2 484.7,112.7 483.7,113.2 482.5,113.7 481.4,114.2 480.2,114.7 479.1,115.2 478.1,115.6 476.8,116.2 475.6,116.6 474.6,117.1 473.4,117.6 472.3,118.1 471.1,118.5 470.0,119.0 468.8,119.5 467.7,120.0 466.5,120.5 465.4,120.9 464.2,121.4 463.1,121.9 462.0,122.3 460.8,122.8 459.7,123.3 458.5,123.7 457.3,124.2 456.2,124.7 455.1,125.1 453.9,125.6 452.8,126.0 451.6,126.5 450.5,127.0 449.3,127.4 448.2,127.9 447.0,128.3 445.9,128.8 444.8,129.2 443.6,129.7 442.5,130.2 441.3,130.6 440.2,131.1 439.0,131.5 437.9,132.0 436.7,132.4 435.6,132.9 434.4,133.3 433.3,133.8 432.1,134.2 431.0,134.7 429.9,135.1 428.7,135.6 427.6,136.0 426.4,136.5 425.3,137.0 424.1,137.4 423.0,137.9 421.8,138.3 420.7,138.8 419.5,139.2 418.4,139.7 417.2,140.1 416.1,140.5 415.0,141.0 413.8,141.4 412.7,141.9 411.5,142.3 410.4,142.8 409.2,143.2 408.1,143.7 406.9,144.1 405.8,144.6 404.6,145.0 403.5,145.5 402.3,145.9 401.2,146.4 401.2,146.4 402.3,146.0 403.5,145.5 404.6,145.1 405.8,144.7 406.9,144.2 408.1,143.8 409.2,143.3 410.4,142.9 411.5,142.5 412.7,142.0 413.8,141.6 415.0,141.1 416.1,140.7 417.2,140.3 418.4,139.8 419.5,139.4 420.7,138.9 421.8,138.5 423.0,138.1 424.1,137.6 425.3,137.2 426.4,136.8 427.6,136.3 428.7,135.9 429.9,135.4 431.0,135.0 432.1,134.6 433.3,134.1 434.4,133.7 435.6,133.3 436.7,132.8 437.9,132.4 439.0,132.0 440.2,131.5 441.3,131.1 442.5,130.7 443.6,130.2 444.8,129.8 445.9,129.4 447.0,128.9 448.2,128.5 449.3,128.1 450.5,127.6 451.6,127.2 452.8,126.8 453.9,126.4 455.1,125.9 456.2,125.5 457.3,125.1 458.5,124.6 459.7,124.2 460.8,123.8 462.0,123.4 463.1,122.9 464.2,122.5 465.4,122.1 466.5,121.7 467.7,121.3 468.8,120.9 470.0,120.4 471.1,120.0 472.3,119.6 473.4,119.2 474.6,118.8 475.6,118.4 476.8,118.0 478.1,117.5 479.1,117.2 480.2,116.8 481.4,116.3 482.5,116.0 483.7,115.5 484.7,115.2 485.9,114.8 487.1,114.4 488.4,113.9 489.6,113.5 490.8,113.1 491.6,112.8 493.1,112.3 494.1,112.0 495.2,111.6 496.5,111.2 497.8,110.7 498.5,110.5 500.1,110.0 501.0,109.7 501.9,109.4 502.9,109.1 504.0,108.7 505.2,108.4 506.5,108.0 507.9,107.5 509.5,107.0 511.3,106.5 513.4,105.9 515.8,105.1 518.8,104.3 522.7,103.2 528.2,101.7 537.6,99.3" fill="#bebebe"/>
<line x1="396.0" y1="148.4" x2="543.2" y2="91.4" stroke="#333" stroke-width="0.9"/>
<polyline points="401.2,146.4 401.9,146.4 402.5,146.3 403.2,146.3 403.8,146.3 404.5,146.2 405.1,146.2 405.8,146.2 406.4,146.2 407.1,146.1 407.7,146.1 408.4,146.1 409.0,146.0 409.7,145.9 410.4,145.9 411.0,145.8 411.7,145.7 412.3,145.6 413.0,145.5 413.6,145.5 414.3,145.4 414.9,145.3 415.6,145.2 416.2,145.1 416.9,145.0 417.6,144.9 418.2,144.8 418.9,144.7 419.5,144.6 420.2,144.4 420.8,144.3 421.5,144.2 422.1,144.1 422.8,144.0 423.4,143.8 424.1,143.7 424.7,143.6 425.4,143.4 426.1,143.2 426.7,143.1 427.4,142.9 428.0,142.8 428.7,142.6 429.3,142.4 430.0,142.3 430.6,142.1 431.3,142.0 431.9,141.8 432.6,141.6 433.2,141.4 433.9,141.2 434.6,141.0 435.2,140.8 435.9,140.5 436.5,140.3 437.2,140.1 437.8,139.9 438.5,139.7 439.1,139.5 439.8,139.3 440.4,139.0 441.1,138.7 441.7,138.5 442.4,138.2 443.1,137.9 443.7,137.6 444.4,137.4 445.0,137.1 445.7,136.8 446.3,136.6 447.0,136.3 447.6,136.0 448.3,135.7 448.9,135.4 449.6,135.1 450.3,134.8 450.9,134.5 451.6,134.2 452.2,133.9 452.9,133.6 453.5,133.3 454.2,133.0 454.8,132.7 455.5,132.4 456.1,132.0 456.8,131.7 457.4,131.4 458.1,131.1 458.8,130.8 459.4,130.4 460.1,130.1 460.7,129.8 461.4,129.5 462.0,129.1 462.7,128.8 463.3,128.5 464.0,128.1 464.6,127.8 465.3,127.4 465.9,127.1 466.6,126.7 467.3,126.4 467.9,126.0 468.6,125.6 469.2,125.3 469.9,124.9 470.5,124.6 471.2,124.2 471.8,123.9 472.5,123.5 473.1,123.1 473.8,122.8 474.4,122.4 475.1,122.0 475.8,121.7 476.4,121.3 477.1,120.9 477.7,120.6 478.4,120.2 479.0,119.8 479.7,119.4 480.3,119.0 481.0,118.5 481.6,118.1 482.3,117.8 483.0,117.6 483.6,117.5 484.3,117.3 484.9,117.2 485.6,117.0 486.2,116.8 486.9,116.4 487.5,116.0 488.2,115.6 488.8,115.3 489.5,114.9 490.1,114.5 490.8,114.2 491.5,113.8 492.1,113.4 492.8,113.0 493.4,112.7 494.1,112.3 494.7,111.9 495.4,111.5 496.0,111.2 496.7,110.8 497.3,110.4 498.0,110.0 498.6,109.6 499.3,109.3 500.0,108.9 500.6,108.5 501.3,108.1 501.9,107.7 502.6,107.4 503.2,107.0 503.9,106.6 504.5,106.1 505.2,105.7" fill="none" stroke="#00e400" stroke-width="2.1" stroke-linecap="round" stroke-linejoin="round"/>
<circle cx="537.6" cy="16.4" r="1.05" fill="#00e400"/>
<circle cx="528.2" cy="31.0" r="1.05" fill="#00e400"/>
<circle cx="522.7" cy="51.0" r="1.05" fill="#00e400"/>
<circle cx="518.8" cy="78.0" r="1.05" fill="#00e400"/>
<circle cx="515.8" cy="80.6" r="1.05" fill="#00e400"/>
<circle cx="513.4" cy="92.1" r="1.05" fill="#00e400"/>
<circle cx="511.3" cy="96.4" r="1.05" fill="#00e400"/>
<circle cx="509.5" cy="98.8" r="1.05" fill="#00e400"/>
<circle cx="507.9" cy="100.6" r="1.05" fill="#00e400"/>
<circle cx="506.5" cy="102.3" r="1.05" fill="#00e400"/>
<rect x="396.0" y="11.6" width="147.2" height="139.8" fill="none" stroke="#222" stroke-width="1.2"/>
<path d="M392.4 146.4H396.0M392.4 122.3H396.0M392.4 98.2H396.0M392.4 74.1H396.0M392.4 50.0H396.0M392.4 25.9H396.0M401.2 151.4v3.2M432.3 151.4v3.2M463.4 151.4v3.2M494.5 151.4v3.2M525.6 151.4v3.2" stroke="#222" stroke-width="1" fill="none"/>
<text transform="translate(387 146.4) rotate(-90)" text-anchor="middle" style="font-family:'DejaVu Sans','Liberation Sans',sans-serif;font-size:8.8px;fill:#111;stroke:#111;stroke-width:.2px">0</text>
<text transform="translate(387 122.3) rotate(-90)" text-anchor="middle" style="font-family:'DejaVu Sans','Liberation Sans',sans-serif;font-size:8.8px;fill:#111;stroke:#111;stroke-width:.2px">2</text>
<text transform="translate(387 98.2) rotate(-90)" text-anchor="middle" style="font-family:'DejaVu Sans','Liberation Sans',sans-serif;font-size:8.8px;fill:#111;stroke:#111;stroke-width:.2px">4</text>
<text transform="translate(387 74.1) rotate(-90)" text-anchor="middle" style="font-family:'DejaVu Sans','Liberation Sans',sans-serif;font-size:8.8px;fill:#111;stroke:#111;stroke-width:.2px">6</text>
<text transform="translate(387 50.0) rotate(-90)" text-anchor="middle" style="font-family:'DejaVu Sans','Liberation Sans',sans-serif;font-size:8.8px;fill:#111;stroke:#111;stroke-width:.2px">8</text>
<text transform="translate(387 25.9) rotate(-90)" text-anchor="middle" style="font-family:'DejaVu Sans','Liberation Sans',sans-serif;font-size:8.8px;fill:#111;stroke:#111;stroke-width:.2px">10</text>
<text x="401.2" y="164.0" text-anchor="middle" style="font-family:'DejaVu Sans','Liberation Sans',sans-serif;font-size:8.8px;fill:#111;stroke:#111;stroke-width:.2px">0</text>
<text x="432.3" y="164.0" text-anchor="middle" style="font-family:'DejaVu Sans','Liberation Sans',sans-serif;font-size:8.8px;fill:#111;stroke:#111;stroke-width:.2px">1</text>
<text x="463.4" y="164.0" text-anchor="middle" style="font-family:'DejaVu Sans','Liberation Sans',sans-serif;font-size:8.8px;fill:#111;stroke:#111;stroke-width:.2px">2</text>
<text x="494.5" y="164.0" text-anchor="middle" style="font-family:'DejaVu Sans','Liberation Sans',sans-serif;font-size:8.8px;fill:#111;stroke:#111;stroke-width:.2px">3</text>
<text x="525.6" y="164.0" text-anchor="middle" style="font-family:'DejaVu Sans','Liberation Sans',sans-serif;font-size:8.8px;fill:#111;stroke:#111;stroke-width:.2px">4</text>
<g transform="scale(.5)" stroke-width="3.1" stroke-linecap="round" fill="none">
<path d="M136 618v-22M136 593h0M136 587v-10M136 570h0M136 567h0M137 618v-24M137 591v-5M137 583h0M137 576h0M137 573h0M137 570v-2M137 563h0M137 556h0M137 552h0M138 617v-7M138 607v-21M138 583v-5M138 573h0M138 570h0M138 567h0M138 563h0M139 618v-21M139 594h0M139 590v-2M139 585v-3M139 572v-2M139 565h0M139 560h0M139 546h0M140 618v-23M140 591v-10M140 575v-2M140 566v-1M140 562v-5M140 554h0M140 545h0M140 535h0M141 617v-27M141 587h0M141 583v-12M141 568v-3M141 556h0M142 618v-25M142 588v-1M142 584v-4M142 572h0M142 566h0M142 561v-1M143 618v-23M143 591v-1M143 587h0M143 581h0M143 577h0M143 572h0M143 565h0M143 561h0M144 618v-23M144 592h0M144 588v-3M144 582h0M144 578h0M144 569h0M144 565v-2M145 617v-13M145 601v-1M145 596v-3M145 590h0M145 587h0M145 582v-2M145 574h0M145 569h0M146 618v-27M146 587h0M146 584h0M146 581v-3M146 574v-1M146 565v-1M146 548h0M147 618v-18M147 597h0M147 594h0M147 591v-1M147 587h0M147 584h0M147 578v-1M147 573h0M147 567h0M147 564h0M147 545h0M148 618v-12M148 602v-5M148 594v-1M148 590v-4M148 583v-2M148 578h0M148 575h0M148 572h0M148 568v-1M148 559v-2M149 617v-17M149 597v-2M149 592v-3M149 582v-5M149 567h0M150 617v-20M150 594v-6M150 584v-2M150 578h0M150 565h0M150 561h0M150 551h0M151 618v-24M151 591v-7M151 581v-3M151 573v-1M151 565h0M151 560h0M151 557h0M152 618v-23M152 592v-3M152 586v-4M152 573v-1M152 565h0M152 554h0M153 618v-27M153 587v-4M153 579h0M153 574v-1M153 565v-1M154 618v-30M154 584v-1M154 578v-1M154 570v-7M154 559h0M154 556h0M155 617v-20M155 594v-10M155 578h0M155 575h0M155 568h0M155 565v-5M156 618v-10M156 605v-11M156 591v-4M156 582h0M156 576v-3M156 567h0M156 547h0M157 617v-18M157 593h0M157 590v-2M157 585v-5M157 577v-6M157 568v-2M157 561v-3M158 618v-21M158 593v-2M158 583h0M158 576v-2M158 570h0M158 559h0M159 618v-30M159 581v-3M159 573v-2M159 565h0M159 539h0M160 618v-8M160 607v-5M160 599v-6M160 590v-7M160 577v-4M160 551h0M161 618v-18M161 597v-5M161 585h0M161 582h0M161 577v-4M161 555h0M162 618v-13M162 602v-8M162 588v-6M162 578h0M162 575v-2M162 569h0M163 618v-18M163 597v-2M163 592v-3M163 584h0M163 580h0M163 577h0M163 572v-2M163 566h0M164 617v-16M164 598v-1M164 594h0M164 588v-1M164 582v-7M164 566h0M164 559v-1M165 618v-25M165 585h0M165 581h0M165 578h0M166 618v-9M166 606h0M166 603v-9M166 590h0M166 582v-1M166 577h0M166 573h0M166 563h0M167 617v-8M167 606v-4M167 599v-3M167 589v-1M167 582h0M167 576h0M167 569h0M167 562h0M167 544h0M168 618v-19M168 594h0M168 591v-1M168 582h0M168 579h0M168 576h0M168 562h0M169 618v-23M169 591v-1M169 586h0M170 617v-18M170 596h0M170 593v-3M170 586h0M170 583v-1M170 578h0M170 553h0M170 544h0M171 618v-15M171 595v-1M171 589v-1M171 580h0M171 568h0M171 552h0M172 616v-7M172 604v-5M172 592h0M172 589v-3M172 577h0M173 614h0M173 604v-1M174 618h0M174 614h0M174 598h0M175 616v-8M175 605v-2M175 597v-2M175 587h0M175 584h0M175 565h0M175 554h0M176 617v-20M176 593h0M176 589v-1M176 585h0M176 578h0M176 575h0M177 617v-14M177 600v-1M177 596v-4M177 578v-2M178 618v-16M178 598v-4M178 585v-2M178 572h0M179 618v-12M179 603v-2M179 598v-6M179 589v-2M179 584v-2M179 576h0M179 573h0M179 561h0M180 618v-18M180 594v-2M180 587h0M180 583h0M180 580v-3M180 561h0M180 554h0M181 618v-8M181 607v-9M181 595v-1M181 589h0M181 586h0M181 583v-2M181 578h0M181 574v-1M181 568h0M181 565v-2M182 618v-26M182 589v-1M182 585h0M182 581v-11M182 554h0M183 617v-25M183 588v-1M183 577v-2M183 572h0M183 569h0M183 566v-3M183 548h0M183 536h0M184 618v-9M184 604v-13M184 585h0M184 580v-3M184 565h0M185 617v-29M185 585h0M185 581v-1M185 573h0M185 570h0M185 564h0M185 550h0M186 618v-17M186 598h0M186 595v-6M186 586h0M186 583v-2M186 575h0M186 572v-5M186 561h0M186 558h0M187 618v-26M187 588h0M187 583v-6M187 572v-2M187 564v-2M188 618v-29M188 586h0M188 582v-4M188 568h0M188 563h0M188 556h0M188 553h0M189 618v-24M189 583h0M189 580v-2M189 572h0M189 562h0M190 618v-18M190 597v-5M190 589v-6M190 580v-3M190 573h0M190 566h0M191 617v-24M191 586h0M191 583v-4M191 572h0M191 562h0M192 618v-23M192 589v-5M192 578h0M192 575h0M192 571v-3M192 564h0M193 618v-32M193 582h0M193 579v-2M193 573h0M194 617v-20M194 594v-2M194 588v-2M194 579h0M194 575v-2M194 560h0M195 617v-22M195 589v-3M195 580v-3M195 573h0M195 563h0M196 618v-28M196 586v-3M196 573v-2M196 566v-1M197 618v-37M197 576v-1M197 567h0M197 562h0M197 549v-2M198 617v-15M198 599v-2M198 594v-10M198 581h0M198 577h0M198 569h0M198 563v-1M198 543h0M199 618v-27M199 588h0M199 580v-2M199 575h0M199 571h0M199 563h0M199 559h0M200 618v-17M200 598v-5M200 588v-5M200 575v-2M200 568h0M201 618v-19M201 596v-4M201 589h0M201 586v-1M201 573h0M201 561h0M201 556h0M202 618v-33M202 577v-3M202 570h0M203 618v-22M203 591h0M203 586v-2M203 576v-1M203 571v-1M203 565h0M203 543h0M204 618v-17M204 598v-8M204 585h0M204 570v-1M204 565h0M204 562v-2M205 618v-12M205 603v-16M205 578h0M205 574v-1M205 570h0M206 617v-22M206 592v-8M206 581h0M206 574h0M206 569v-2M206 562h0M206 552h0M206 548v-1M206 543h0M207 618v-18M207 597h0M207 593v-2M207 587v-6M207 573v-4M207 555h0M208 618v-21M208 594v-15M208 570h0M208 567v-1M208 557h0M209 618v-14M209 599v-21M209 574v-1M209 570v-6M209 559h0M210 618v-19M210 596v-13M210 580h0M210 574v-1M210 569h0M210 563v-4M210 553h0M211 618v-30M211 582h0M211 570v-2M212 618v-27M212 587v-2M212 574h0M212 569h0M213 618v-13M213 601v-4M213 590v-2M213 585v-2M213 576v-1M213 572h0M213 569h0M214 617v-32M214 582h0M214 559h0M215 617v-18M215 596v-5M215 587v-2M215 582h0M215 578h0M215 573v-4M215 564h0M216 618v-26M216 588h0M216 585h0M216 581v-1M216 576h0M216 573v-1M216 568h0M216 556h0M216 544h0M217 617v-26M217 588h0M217 584h0M217 578v-4M217 564v-1M217 559h0M218 618v-21M218 594v-2M218 588v-1M218 578h0M218 575h0M218 572v-1M219 618v-9M219 603v-3M219 595v-7M219 580v-2M219 574h0M219 561h0M219 554h0" stroke="#048c18"/>
<path d="M221 614v-3M221 607h0M221 604v-1M221 583h0M222 618v-17M222 598v-4M222 586v-4M222 578h0M222 573h0M222 565h0M223 618v-18M223 597v-5M223 589v-1M223 582v-1M223 577h0M223 563h0M224 618v-11M224 604v-5M224 595h0M224 591v-7M224 581h0M224 574v-1M224 570v-1M225 618v-25M225 586v-2M225 580v-1M225 576v-3M225 549h0M226 618v-23M226 592v-5M226 581h0M226 576v-2M226 560h0M227 617v-19M227 595v-2M227 588v-4M227 580v-3M227 572h0M227 568v-1M228 617v-32M228 582v-3M228 576v-2M228 570h0M228 564h0M229 618v-32M229 581v-2M229 576h0M229 563h0M230 617v-18M230 596v-6M230 587v-1M230 583v-2M230 577h0M230 573h0M230 566h0M230 563h0M231 618v-7M231 608v-18M231 587v-4M231 575v-4M231 542h0M232 617v-19M232 594v-7M232 578v-5M232 565h0M233 618v-27M233 588v-3M233 567h0M233 564h0M234 618v-16M234 599v-8M234 588h0M234 584v-1M234 578h0M234 571h0M234 567h0M234 564h0M234 561h0M235 618v-23M235 590v-6M235 581v-2M236 618v-9M236 606v-5M236 591v-1M236 587v-5M236 579h0M236 574h0M237 618v-10M237 605v-9M237 592h0M237 587v-3M237 581h0M237 542h0M238 617v-14M238 597v-9M238 580h0M238 563h0M238 542h0M239 618v-18M239 596v-2M239 591v-9M239 578h0M240 618v-16M240 597v-1M240 583v-2M240 577h0M240 571h0M241 618v-15M241 597v-9M241 582h0M241 578h0M241 569h0M242 617v-7M242 606v-1M242 602v-2M242 596v-1M242 588h0M242 583h0M242 578h0M242 572h0M242 564h0M242 553v-1M243 618v-1M243 614v-3M243 607h0M243 604v-12M243 589h0M243 582h0M243 579h0M243 576v-2M243 570h0M243 539h0M244 618v-5M244 610v-4M244 602h0M244 599v-4M244 590v-2M244 579h0M244 567h0M244 545h0M245 617h0M245 613h0M245 607v-4M245 598h0M245 594h0M245 589h0M245 577v-2M245 557h0M246 617v-10M246 602v-1M246 597h0M246 592h0M246 588h0M246 574h0M246 570h0M247 617v-9M247 605h0M247 600h0M247 597h0M248 612v-6M249 616h0M249 605h0M249 601h0M250 617h0M250 605h0M250 581h0M251 612h0M251 608h0M251 604h0M251 597h0M251 586h0M252 617h0M252 613v-3M252 605h0M252 602h0M252 596h0M252 578h0M252 574v-1M253 614v-6M254 617v-3M254 610v-2M254 605v-5M254 572h0M254 558h0M255 617v-1M255 611v-3M255 605v-3M255 594h0M255 563h0M256 616v-8M256 605v-8M256 594h0M256 567h0M257 617v-12M257 601v-3M257 594h0M257 581h0M258 618v-13M258 602h0M258 598h0M258 589v-1M258 581h0M258 568v-2M259 618v-8M259 606h0M259 603v-3M259 597v-2M259 592h0M259 587v-1M259 577h0M259 567h0M259 563h0M259 553h0M259 538h0M260 617v-7M260 606h0M260 603h0M260 600v-3M260 591v-1M260 587h0M260 578h0M260 574h0M260 566h0M260 561h0M261 618v-18M261 597v-7M261 579h0M262 617v-5M262 609v-1M262 605v-3M262 599v-3M262 591v-4M262 573h0M262 566v-2M262 555h0M263 618v-24M263 590h0M263 587h0M263 574h0M263 570h0M263 561h0M264 618v-16M264 599v-6M264 590h0M264 582h0M264 566h0M264 553h0M265 618v-28M265 587v-5M265 578v-2M265 569h0M266 617v-19M266 595h0M266 590v-4M266 583h0M266 579h0M266 569h0M267 617v-24M267 588h0M267 580h0M267 569h0M268 618v-19M268 596v-2M268 591v-3M268 585h0M268 580h0M268 574v-3M269 618v-22M269 592h0M269 588v-7M269 562h0M270 618v-19M270 596v-3M270 587h0M270 584h0M270 581h0M270 577v-2M270 568h0M270 560h0M271 618v-13M271 602v-8M271 591h0M271 588v-1M271 583h0M271 574h0M271 569h0M271 564h0M272 618v-19M272 594v-1M272 589v-1M272 584h0M272 580v-2M272 575v-3M272 567h0M272 561v-1M273 618v-21M273 594v-5M273 585h0M273 579h0M273 576v-3M273 566h0M273 549h0M274 617v-14M274 600v-13M274 584h0M274 561h0M274 558h0M275 618v-16M275 599v-5M275 591h0M275 586v-10M275 572h0M275 569v-1M275 559h0M276 617v-12M276 602v-13M276 585v-4M276 572v-2M276 567h0M276 563h0M277 618v-25M277 590v-4M277 580v-2M277 575h0M277 572v-1M277 565h0M277 554h0M277 551v-1M277 544h0M278 618v-18M278 597v-5M278 589h0M278 585v-5M278 576h0M278 568v-2M278 563h0M278 546h0M279 618v-14M279 601v-14M279 584h0M279 581v-2M279 571v-1M279 567h0M279 562v-2M280 618v-32M280 576v-1M280 570v-3M280 558h0M280 551h0M280 548h0M281 618v-21M281 592v-7M281 582h0M281 579v-1M281 574v-3M281 568v-2M281 559h0M281 555h0M281 546h0M282 617v-22M282 592h0M282 588h0M282 585v-1M282 580h0M282 547h0M283 617v-18M283 593v-1M283 584v-2M283 579v-8M284 617v-31M284 579h0M284 575v-2M284 570h0M284 563v-2M284 546h0M284 539h0M285 618v-24M285 591v-4M285 584h0M285 581v-3M285 572v-2M285 567h0M286 618v-15M286 599v-2M286 593h0M286 590v-3M286 584v-4M286 576h0M286 572h0M287 617v-21M287 593h0M287 586v-5M287 578v-3M287 571v-1M287 555h0M288 618h0M288 613h0M288 608h0M288 604h0M288 596h0M288 575h0M288 566v-1M288 561h0M288 546h0M288 540h0M289 559h0M289 555h0M289 548h0" stroke="#ff3030"/>
<path d="M290 618v-34M290 579v-2M290 574h0M290 568h0M291 618v-23M291 592v-6M291 583v-7M291 573h0M291 570h0M291 567h0M291 560v-1M291 551h0M292 618v-26M292 589v-4M292 582v-1M292 577v-2M292 564h0M292 554h0M293 617v-21M293 593h0M293 589v-1M293 583v-2M293 578v-3M293 569v-1M293 558h0M293 550h0M293 541h0M294 618v-37M294 577h0M294 571v-2M294 566v-2M294 546h0M295 618v-19M295 596v-1M295 592v-1M295 588h0M295 582h0M295 578h0M295 574v-1M295 568v-1M295 562h0M295 559h0M295 555h0M296 618v-35M296 572v-1M296 560v-1M297 617v-21M297 593h0M297 590v-3M297 584v-2M297 579v-2M297 571v-2M297 566h0M298 618v-34M298 581v-3M298 575v-2M298 570v-1M298 563v-2M298 558v-2M298 552h0M299 618v-22M299 593v-1M299 589v-4M299 582h0M299 578h0M299 569v-4M299 562v-1M299 557h0M300 618v-7M300 608v-2M300 603v-5M300 595v-12M300 577v-3M300 568h0M300 556v-2M300 550h0M301 617v-18M301 596h0M301 593h0M301 588v-4M301 581v-1M301 574h0M301 567h0M301 560h0M301 550h0M302 617v-25M302 589v-2M302 582v-2M303 618v-2M303 613v-11M303 594v-2M303 589h0M303 585h0M303 575v-4M303 563v-1M303 553h0M304 617v-5M304 609h0M304 605v-1M304 600v-1M304 596v-2M304 586h0M304 574h0M304 555h0M305 617v-3M305 611v-4M305 604v-2M305 594v-2M305 584h0M306 618v-10M306 603h0M306 598h0M306 592h0M306 588h0M306 581h0M307 614h0M307 611v-2M307 605v-3M307 599h0M308 615v-3M308 608v-3M308 589h0M308 581h0M309 615v-1M309 608h0M309 585h0M310 616h0M310 601h0M310 593h0M310 571h0M311 611h0M311 600h0M312 611h0M313 602h0M314 615h0M314 580h0M315 615v-2M315 610h0M315 605h0M315 580h0M316 613v-1M316 608v-1M316 603h0M316 596h0M316 588h0M317 616h0M317 613h0M317 604h0M317 600v-2M318 615h0M318 607h0M318 604h0M318 595h0M319 618v-3M319 610v-1M319 603h0M319 595h0M319 559h0M320 615v-1M320 602h0M320 583h0M320 561h0M321 615h0M321 612v-4M321 605v-1M321 596v-1M321 578h0M321 571h0M321 567h0M321 556h0M321 550h0M322 616v-11M322 600v-1M322 588h0M322 573v-2M323 617v-12M323 602v-3M323 595h0M323 580h0M324 618v-2M324 611v-2M324 606v-2M324 600v-7M324 583h0M325 617v-8M325 606v-2M325 601h0M325 598v-3M325 592v-4M325 580v-1M325 574h0M325 561h0M326 618v-26M326 589h0M326 586v-2M326 581h0M326 566h0M327 617v-21M327 593v-1M327 584h0M327 576h0M327 565h0M328 617v-23M328 591v-5M328 575v-2M328 570h0M328 542h0M329 618v-16M329 598v-5M329 590v-3M329 581v-2M329 574v-1M330 618v-28M330 584v-3M330 574h0M330 559v-1M331 617v-15M331 599v-14M331 580h0M331 576h0M331 573h0M332 618v-15M332 600v-8M332 588h0M332 580v-1M332 570h0M332 563v-2M332 551h0M332 540h0M333 618v-28M333 583h0M333 580h0M333 576v-1M333 572v-5M333 537h0M334 618v-14M334 600v-9M334 588h0M334 585h0M334 576h0M334 568h0M334 560h0M335 618v-19M335 595h0M335 590v-7M335 579v-5M335 570h0M335 566h0M336 618v-16M336 599v-4M336 591h0M336 587v-3M336 580h0M336 571v-5M336 563h0M336 560v-2M336 540h0M337 617v-27M337 587v-4M337 577h0M337 574v-1M337 565h0M338 618v-27M338 588v-2M338 583h0M338 573h0M338 567h0M338 557h0M339 617v-27M339 585h0M339 582h0M339 574h0M339 569h0M339 566h0M339 549h0M339 544h0M340 618v-20M340 594v-6M340 578h0M340 573v-2M340 568v-2M340 553h0M340 546h0M341 618v-22M341 592v-5M341 584h0M341 581h0M341 578v-8M341 567v-2M341 547h0M341 544h0M342 618v-23M342 592h0M342 588h0M342 585v-3M342 578v-5M342 560h0M342 552h0M343 617v-27M343 586h0M343 583h0M343 579v-5M343 567v-2M343 560h0M343 549h0M344 618v-26M344 589v-6M344 576v-1M344 570h0M344 566h0M344 562h0M345 617v-14M345 600v-4M345 593h0M345 589v-13M345 572h0M345 566h0M345 562h0M345 554h0M346 618v-29M346 584h0M346 579h0M346 574h0M346 570v-4M346 562h0M346 554h0M347 618v-32M347 581v-5M347 570h0M348 618v-23M348 592v-4M348 579v-2M348 570h0M349 618v-11M349 604v-16M349 584h0M349 581v-4M349 569v-1M349 565h0M349 557h0M349 539h0M350 617v-35M350 577v-6M350 566h0M351 618v-27M351 587h0M351 584v-3M351 577v-2M351 569h0M351 566h0M351 560h0M351 554h0M352 618v-24M352 591v-7M352 581h0M352 569h0" stroke="#1e6ef0"/>
<path d="M354 617v-1M354 613h0M354 606v-1M354 599v-1M355 618v-19M355 596v-8M355 584v-5M355 576h0M355 568h0M355 565h0M355 558h0M355 550h0M356 618v-25M356 590v-7M356 577v-4M356 569v-1M357 618v-12M357 603v-12M357 588v-6M357 579v-2M357 573v-1M358 618v-20M358 594v-2M358 588v-2M358 582h0M358 576h0M358 573h0M358 568h0M359 618v-16M359 599v-1M359 593v-6M359 583h0M359 572h0M359 560h0M360 618v-23M360 592v-2M360 587h0M360 580v-1M360 576h0M360 570h0M361 618v-25M361 590v-4M361 580h0M361 576v-2M361 544h0M362 617v-23M362 586h0M362 583v-3M362 573h0M362 569v-2M362 552h0M363 618v-16M363 599v-7M363 588v-6M363 574v-2M363 563h0M363 557v-2M364 618v-22M364 593v-1M364 584v-1M364 577h0M364 574h0M365 618v-18M365 597v-2M365 592h0M365 587v-3M365 572v-2M365 565h0M365 559h0M365 554h0M366 617v-24M366 589v-3M366 582h0M366 577h0M366 573h0M366 560h0M367 618v-19M367 596v-2M367 590v-4M367 577v-4M367 567h0M367 561h0M367 547h0M368 618v-18M368 597h0M368 594v-5M368 585v-1M368 570v-2M368 564h0M369 617v-26M369 588v-2M369 580h0M369 567v-1M369 561h0M369 558v-2M370 617v-10M370 604v-2M370 596v-6M370 583v-1M370 578v-7M370 568h0M370 556h0M370 549h0M371 618v-15M371 600v-12M371 581v-6M371 571v-2M371 565h0M371 561h0M371 544h0M372 618v-23M372 591v-5M372 581h0M372 547h0M373 618v-18M373 597h0M373 592v-5M373 578v-10M374 617v-20M374 594v-2M374 589h0M374 583v-2M374 577v-1M374 572h0M374 564h0M375 618v-6M375 609v-13M375 593v-2M375 588h0M375 584v-2M375 572h0M375 562h0M376 618v-12M376 603v-8M376 592v-2M376 586v-2M376 576v-2M376 568h0M376 552h0M376 544h0M377 617v-18M377 596v-2M377 589h0M377 584v-4M377 569h0M378 618v-27M378 588v-1M378 583v-1M378 576h0M378 573h0M378 567h0M379 617v-2M379 612v-2M379 607v-10M379 593v-1M379 587v-1M379 571h0M379 567h0M380 618v-15M380 600v-1M380 595v-2M380 590v-3M380 584h0M380 581v-1M380 572h0M381 617v-10M381 602v-1M381 598h0M381 594h0M381 588h0M381 579h0M382 618v-13M382 602v-4M382 593v-1M382 588v-2M382 575v-1M383 617v-11M383 601h0M383 596v-2M383 590h0M383 581h0M384 618v-10M384 605h0M384 599v-2M384 594h0M384 591h0M384 584v-1M385 616v-4M385 609v-1M385 604h0M385 592v-2M385 585v-1M385 579h0M385 576h0M385 572h0M385 557h0M385 538h0M386 615v-4M386 608h0M386 605v-1M386 600h0M386 595v-4M387 618h0M388 610h0M388 593h0M388 580h0M389 617v-3M389 611h0M389 606h0M389 601h0M389 589h0M390 617h0M390 610v-2M390 593h0M390 544h0M391 618h0M391 615v-1M391 609v-2M391 603h0M391 600v-2M391 593h0M391 587h0M391 578h0M391 564h0M391 560h0M392 615v-1M392 604v-5M392 594h0M392 584v-1M392 574h0M392 568h0M392 563h0M393 618v-13M393 599v-2M393 587h0M393 584h0M393 572h0M393 567h0M393 562h0M394 618v-12M394 603v-1M394 598v-1M394 593v-3M394 585v-5M394 570h0M394 566h0M394 544h0M395 617v-9M395 603v-7M395 591v-1M395 586v-6M395 574v-1M395 566v-1M395 560h0M395 552h0M395 540h0M396 617v-5M396 609h0M396 606v-4M396 597h0M396 594h0M396 591v-1M396 586v-1M396 579h0M396 575h0M396 568h0M397 618v-10M397 605h0M397 602v-16M397 581v-4M397 565h0M397 537h0M398 618v-17M398 598v-2M398 593v-2M398 588v-4M398 579v-1M398 575v-2M398 569h0M398 554h0M399 618v-13M399 602v-8M399 589h0M399 583h0M399 580v-2M400 618v-18M400 595h0M400 592v-4M400 584v-1M400 578h0M400 574v-1M400 570h0M400 562h0M400 550h0M401 618v-21M401 594v-1M401 587v-3M401 581v-1M401 577v-2M401 571v-2M401 565h0M401 562v-1M401 548h0M401 540h0M402 617v-25M402 588h0M402 584h0M402 581v-1M402 561v-2M402 556h0M403 618v-18M403 597v-10M403 570v-1M404 618v-25M404 590v-2M404 574h0M404 570h0M405 618v-21M405 593v-6M405 579v-4M405 572h0M405 558h0M405 553h0M406 617v-7M406 607v-6M406 595h0M406 591v-1M406 586h0M406 581h0M406 574h0M406 551h0M407 617v-27M407 587v-1M407 579h0M407 575v-1M407 569h0M407 566h0M407 559h0M408 618v-29M408 584h0M408 580v-1M408 576v-4M408 566v-2M409 618v-30M409 585h0M409 579h0M409 574v-3M409 565h0M409 559h0M410 618v-25M410 590h0M410 587h0M410 573h0M410 569h0M410 565h0M410 558h0M411 617v-29M411 582v-1M411 574v-3M411 568h0M411 565v-2M411 560h0M412 616v-22M412 589h0M412 585h0M412 578v-2M412 573v-2M412 563h0M412 557h0M413 618v-25M413 588h0M413 583h0M413 577v-4M414 617v-3M414 611v-18M414 587v-1M414 582v-1M414 574h0M414 571h0M414 556h0M415 618v-22M415 593h0M415 589v-1M415 577h0M415 574h0M415 570h0M415 548h0M416 618v-27M416 585h0M416 579h0M416 576v-1M416 569h0M416 560h0M417 618v-21M417 594v-7M417 581h0M417 578h0M417 573h0M417 560h0M418 618v-30M419 618v-22M419 593v-2M419 588v-6M419 579h0M419 573h0M419 570h0M419 562h0M420 617v-19M420 594v-2M420 588v-1M420 582v-3M420 572h0M420 569h0M420 559h0M420 539h0M421 617v-26M421 588v-6M421 571v-1M421 556h0M422 618v-23M422 591v-1M422 585v-5M422 574v-1M422 569v-2M422 563h0M422 545h0" stroke="#ff4800"/>
<path d="M424 618v-4M424 611v-5M424 602v-5M424 592h0M424 578h0M424 572h0M424 565h0M424 555h0M424 537h0M425 617v-25M425 587h0M425 581v-5M425 568h0M425 565h0M425 560h0M425 556v-2M425 541h0M425 537h0M426 617v-30M426 584v-6M426 570h0M426 562v-2M427 617v-23M427 591v-7M427 581v-2M427 575v-4M427 561h0M428 618v-25M428 588v-7M428 568v-1M428 564h0M428 556v-1M428 551h0M429 618v-13M429 602v-17M429 581h0M429 575h0M429 570h0M429 566v-3M429 549v-2M429 544h0M429 536h0M430 618v-18M430 597v-11M430 578v-1M430 573v-1M430 569h0M430 563v-2M430 558h0M430 554h0M430 541h0M431 618v-28M431 585h0M431 582h0M431 578h0M431 569v-3M431 561v-2M431 556h0M432 617v-13M432 600v-1M432 596v-7M432 584v-5M432 575v-2M432 567v-3M433 618v-13M433 602v-15M433 584h0M433 581v-10M433 564h0M433 560h0M434 617v-25M434 589h0M434 586h0M434 575h0M434 572v-2M434 567h0M434 564v-5M434 549h0M435 618v-33M435 582v-3M435 573v-4M436 618v-29M436 584h0M436 576v-2M436 560h0M437 618v-23M437 592v-11M437 577h0M438 617v-18M438 596v-5M438 586v-9M438 567h0M438 562h0M438 546h0M439 618v-25M439 590v-2M439 582h0M439 578v-4M439 558h0M440 617v-9M440 605v-15M440 583h0M440 557h0M440 548h0M441 618v-2M441 612v-9M441 599h0M441 594v-8M441 578h0M441 575v-2M442 617v-3M442 610h0M442 607v-2M442 600v-2M442 592v-2M442 574h0M443 617v-5M443 607v-6M443 596h0M443 587h0M443 584h0M443 566h0M444 617h0M444 614v-11M444 599v-2M444 589h0M444 581v-2M444 568h0M444 541h0M445 618v-17M445 598v-3M445 590h0M445 587h0M445 583v-5M445 572v-1M445 561h0M446 618v-8M446 605v-2M446 600v-5M446 590h0M446 587v-6M446 578h0M446 569v-1M446 563h0M447 617v-12M447 602v-5M447 594v-3M447 587v-3M447 578h0M447 568h0M447 561v-2M447 550h0M448 618v-31M448 580h0M448 575h0M448 569v-2M449 616v-10M449 603v-4M449 596h0M449 590h0M449 563v-1M450 617v-15M450 599v-1M450 595h0M450 585v-1M450 580h0M450 576h0M450 572h0M450 566h0M450 555h0M451 618v-12M451 601h0M451 598v-6M451 589v-2M451 583h0M451 571h0M451 562v-2M452 618v-10M452 604v-12M452 576h0M452 571h0M452 565h0M453 616v-7M453 605h0M453 601h0M453 592h0M453 587v-2M453 582v-1M453 569h0M453 562h0M453 549h0M454 617v-5M454 609v-6M454 599h0M454 593h0M454 557h0M455 610h0M455 604h0M455 595h0M456 614v-2M457 615h0M457 608v-2M457 600h0M457 591h0M457 579h0M458 617v-2M458 612v-6M458 602v-1M458 598h0M458 594h0M458 590h0M458 579v-1M458 556h0M459 617v-13M459 600v-5M459 589h0M459 575h0M459 570v-1M459 565h0M459 561h0M460 618v-13M460 602v-3M460 595v-2M460 590v-3M460 580v-1M460 564h0M460 559h0M460 556v-1M460 552h0M460 541h0M461 616v-2M461 611v-5M461 603v-19M461 581v-3M461 567h0M461 563h0M461 552v-1M461 543h0M462 618v-22M462 591h0M462 588h0M462 585h0M462 582v-1M462 577h0M462 572v-1M462 566h0M462 553h0M463 617v-12M463 602v-6M463 593v-1M463 589h0M463 584v-4M463 576h0M463 573h0M463 570h0M463 565h0M463 562h0M463 540h0M463 536h0M464 618v-20M464 595v-2M464 588h0M464 585h0M464 574v-3M464 556v-2M464 550h0M464 538h0M465 617v-29M465 581h0M465 573h0M465 543h0M466 618v-19M466 596v-1M466 592v-2M466 587h0M466 583h0M466 579v-1M466 575h0M466 566h0M466 562h0M466 558v-4M467 618v-16M467 599v-9M467 587v-5M467 578h0M467 571h0M467 557h0M467 549h0M468 618v-8M468 607v-5M468 598v-6M468 589h0M468 585h0M468 582h0M468 578v-1M468 573h0M468 570h0M468 564v-2M468 547h0M468 536h0M469 617v-30M469 583v-2M469 577v-2M469 572h0M469 559h0M469 551h0M470 617v-21M470 593v-1M470 589v-2M470 583v-2M470 577v-2M470 572v-3M470 566h0M470 560h0M470 551v-1M470 542h0M471 617v-34M471 575v-4M471 566h0M472 617v-20M472 594h0M472 589h0M472 581h0M472 577v-1M472 572v-2M472 561h0M473 617v-24M473 590h0M473 585v-4M473 578v-1M473 573h0M473 566h0M473 550v-2M474 618v-21M474 594h0M474 590v-5M474 580h0M474 574v-3M474 564h0M474 550h0M475 617v-29M475 585v-11M475 554v-3M476 618v-19M476 596v-2M476 591v-6M476 582v-3M476 576v-4M477 618v-28M477 585v-1M477 578h0M477 574v-1M477 569h0M478 618v-31M478 579h0M478 576h0M479 618v-16M479 599v-15M479 578h0M479 575h0M479 556h0M480 618v-16M480 599v-9M480 587h0M480 583h0M480 573h0M480 570h0M480 550h0M481 618v-34M481 577v-2M481 571h0M481 568h0M482 618v-23M482 590v-9M482 573v-2M482 568h0M482 561v-1M483 618v-28M483 584h0M483 571h0M483 553h0M483 546h0M483 543h0M484 618v-3M484 612v-21M484 587h0M484 584v-3M484 575v-3M484 568h0M484 545h0M484 542h0M484 536h0M485 617v-12M485 602v-4M485 595h0M485 576v-2M485 566v-1" stroke="#ffc60c"/>
<path d="M487 617h0M487 607v-5M487 599h0M487 589h0M487 578v-1M487 573h0M487 568h0M488 616v-5M488 593h0M488 587h0M488 576h0M489 617h0M489 610v-1M489 606v-1M489 600h0M489 594h0M489 590h0M489 587h0M489 571h0M490 609h0M490 601h0M490 594h0M490 584h0M490 581h0M491 612h0M491 609v-4M491 597h0M491 575h0M492 616v-5M492 578h0M492 554h0M493 617v-6M493 606h0M493 599h0M493 593h0M493 588v-2M494 617h0M494 614h0M494 611h0M494 608v-3M494 601h0M494 597v-1M494 577h0M494 568h0M494 544h0M495 617v-4M495 610v-4M495 598v-4M495 584h0M495 566h0M496 617v-11M496 601v-5M496 593v-3M496 586h0M496 567h0M497 618v-14M497 601v-2M497 591v-3M497 585h0M497 559h0M497 552h0M498 617v-15M498 599v-3M498 592v-3M498 585h0M498 575h0M498 572h0M498 569h0M498 558h0M498 550h0M498 543h0M498 540h0M499 617v-11M499 602v-2M499 597v-10M499 581v-2M499 573v-1M499 568h0M499 559v-1M500 618v-27M500 584v-3M500 576v-2M501 618v-26M501 587h0M501 584v-1M501 578v-2M501 570v-2M501 562h0M501 559v-3M502 617v-19M502 594v-4M502 586h0M502 583h0M502 580h0M502 577h0M502 572h0M502 563h0M502 560v-1M502 541v-1M503 617v-24M503 590h0M503 585v-4M503 577h0M503 573h0M503 564v-2M503 552h0M503 547v-2M504 618v-21M504 594v-7M504 583h0M504 552h0M505 618v-15M505 600v-14M505 582v-1M505 574v-1M505 566h0M506 617v-17M506 597v-2M506 591v-2M506 583v-2M506 576v-2M506 562h0M506 550h0M507 617v-25M507 585h0M507 582v-5M507 574v-1M507 569h0M507 559v-2M508 618h0M508 615v-17M508 593h0M508 588h0M508 585v-3M508 579v-1M508 574v-5M508 556h0M509 618v-22M509 590h0M509 587v-4M509 578v-4M509 559h0M509 554h0M510 617v-10M510 603v-7M510 593v-5M510 581v-2M510 571v-1M510 562h0M510 556h0M510 546h0M511 618v-18M511 597v-2M511 592v-13M511 576h0M511 562v-2M512 617v-32M512 582h0M512 561h0M513 618v-26M513 589v-6M513 580h0M513 577v-2M513 555h0M514 618v-10M514 605v-17M514 583h0M514 578h0M514 573v-1M514 565h0M515 617v-12M515 602v-5M515 592v-4M515 582h0M515 577h0M516 618v-24M516 589v-1M516 581h0M516 578h0M516 558h0M517 618v-25M517 589v-6M517 580v-3M517 568h0M517 562h0M518 618v-26M518 586v-1M518 580h0M518 577v-2M518 565h0M519 618v-21M519 594v-2M519 588h0M519 583v-1M519 579h0M519 572h0M519 564h0M519 547h0M520 618v-24M520 591h0M520 585v-2M520 576h0M520 573h0M520 569h0M520 565h0M521 618v-8M521 607v-9M521 595v-1M521 591v-1M521 586h0M521 581h0M521 578h0M521 569h0M521 566v-2M521 560h0M522 618v-18M522 596v-2M522 591v-4M522 580h0M522 574h0M522 555h0M523 618v-26M523 589v-2M523 584v-8M523 573v-2M523 563h0M523 560h0M524 618v-11M524 603v-9M524 590v-8M524 579h0M524 575v-1M524 570h0M524 565v-1M524 557h0M524 547h0M524 540h0M525 618v-23M525 592v-7M525 582v-2M525 574h0M525 564v-1M525 560h0M526 618v-17M526 598v-9M526 584h0M526 581v-1M526 574v-1M526 566v-1M526 555h0M527 617v-22M527 590v-3M527 584v-9M527 570h0M527 565v-5M527 549h0M528 617v-18M528 595v-3M528 588v-2M528 580v-2M528 572h0M528 566h0M528 560h0M528 555h0M529 618v-21M529 593v-6M529 579v-2M529 565h0M529 559v-1M529 551h0M529 535h0M530 618v-34M530 576v-2M530 569h0M530 566h0M530 561h0M530 540h0M530 535h0M531 617v-28M531 582v-1M531 577h0M531 568v-4M531 558h0M531 555h0M531 550v-1M531 537h0M532 618v-24M532 586v-1M532 582v-10M532 565v-3M532 557h0M532 541h0M533 618v-16M533 596v-11M533 579h0M533 571v-2M533 556v-2" stroke="#ff3ca2"/>
<path d="M535 618v-6M535 609v-3M535 602h0M535 596h0M535 592h0M535 589h0M535 586h0M535 580h0M535 576h0M535 569h0M535 564v-2M535 544h0M536 618v-20M536 594v-18M536 572h0M536 569v-1M537 618v-25M537 588v-1M537 581v-4M537 573v-1M537 569h0M537 549h0M538 618v-18M538 595v-6M538 586v-8M538 566h0M538 560h0M539 617v-25M539 589v-2M539 583h0M539 580h0M539 575v-1M539 571h0M539 567v-1M539 562h0M539 557h0M539 553h0M540 618v-33M540 581v-1M540 577v-2M540 572v-5M540 557h0M541 618v-20M541 594v-1M541 590v-9M541 569v-1M541 563h0M541 560h0M542 618v-16M542 599v-11M542 585h0M542 578h0M542 574h0M542 567h0M542 561h0M543 618v-24M543 591h0M543 587v-1M543 581h0M543 576v-1M543 570v-1M543 562h0M543 558v-2M544 618v-17M544 598v-3M544 588v-7M544 577h0M544 568h0M544 558h0M545 617v-12M545 602v-4M545 595h0M545 592v-1M545 588h0M545 582h0M545 579h0M545 567v-3M546 618v-8M546 606v-8M546 594v-1M546 590h0M546 586h0M546 581h0M546 576v-1M546 554h0M547 618v-1M547 611v-14M547 594h0M547 587h0M547 584v-3M547 570h0M548 617v-6M548 605v-1M548 593h0M548 588h0M548 571v-1M548 560h0M549 617v-5M549 608h0M549 600v-1M549 560h0M550 617v-1M550 610h0M550 606h0M550 599h0M551 599h0M552 618h0M552 612v-2M552 607h0M552 602h0M552 596h0M553 616h0M554 615v-2M554 545h0M554 538h0M555 616v-5M555 608h0M555 603h0M555 576h0M555 564h0M555 561v-1M555 555h0M555 551h0M556 611v-1M556 606h0M556 603v-2M556 577h0M556 553h0M557 614v-1M557 608v-4M557 601h0M557 596h0M557 588h0M557 568h0M558 616h0M558 611v-2M558 605h0M558 593h0M558 581h0M559 617v-1M559 608v-1M559 583h0M560 615v-3M560 609v-6M560 597v-1M560 587h0M560 581h0M560 578h0M561 616v-3M561 610v-5M561 602h0M561 598v-2M561 591h0M561 588h0M561 584h0M561 580h0M561 575h0M561 553h0M562 617v-9M562 605h0M562 602v-1M562 596h0M562 592h0M562 571v-2M562 562v-2M563 617v-19M563 595h0M563 592v-4M563 585v-2M563 580v-2M563 575v-1M563 566h0M563 560h0M564 618v-21M564 593v-5M564 579v-1M564 566h0M564 554h0M564 549h0M565 617v-17M565 596v-3M565 588v-5M565 568h0M565 563v-2M566 618v-19M566 595v-14M566 578h0M566 574h0M566 570h0M566 564v-2M566 550h0M567 617v-24M567 590h0M567 586v-2M567 579h0M567 574h0M567 571h0M568 618v-14M568 600v-1M568 596v-6M568 587v-3M568 578v-3M568 565v-1M568 559v-2M568 553h0M569 618v-35M569 575h0M569 557h0M569 554h0M570 618v-23M570 592v-6M570 582v-3M570 574h0M570 570h0M570 564v-3M571 617v-28M571 586v-3M571 579h0M571 576v-1M571 570h0M571 562h0M571 538h0M572 618v-16M572 599v-3M572 593v-8M572 582h0M572 579v-1M572 574h0M572 567v-1M572 557h0M573 618v-29M573 583v-5M573 575v-5M574 617v-28M574 585h0M574 581v-5M574 571h0M574 566h0M574 556h0M574 551h0M575 618v-19M575 590v-4M575 583v-2M575 576h0M575 568h0M575 565h0M576 618v-19M576 596v-4M576 588v-1M576 581v-2M576 575h0M577 618v-22M577 593v-3M577 587h0M577 584h0M577 581h0M577 567h0M578 618v-28M578 587v-9M578 575v-1M579 617v-25M579 589v-3M579 582v-2M579 577v-3M579 571h0M579 564h0M579 550h0M579 544h0M580 618v-15M580 600v-9M580 588h0M580 582h0M580 572h0M580 567h0M580 559h0M581 618v-20M581 595h0M581 592h0M581 589v-1M581 585h0M581 580h0M581 576v-2M581 571h0M581 565h0M581 562v-1M582 618v-18M582 596v-10M582 577h0M582 570v-2M582 546h0M583 618v-20M583 595v-1M583 580h0" stroke="#000000"/>
<path d="M585 618v-18M585 596h0M585 581h0M585 564h0M586 618v-21M586 590v-1M586 585v-4M587 618v-18M587 597v-4M587 590v-9M587 578v-2M587 568h0M587 554h0M588 618v-18M588 595v-4M588 586h0M588 583v-1M588 579h0M588 576h0M588 568h0M588 549h0M589 617v-33M589 568v-1M590 618v-37M590 576h0M591 618v-28M591 587v-8M591 572v-2M591 567h0M591 564h0M591 557h0M592 618v-25M592 590v-1M592 585h0M592 581h0M592 570h0M593 618v-22M593 593h0M593 589v-4M593 581v-4M593 573h0M593 569h0M593 558h0M594 617v-19M594 593v-6M594 584v-3M594 578h0M594 573h0M594 564h0M594 539h0M595 617v-14M595 600h0M595 596v-5M595 587h0M595 575v-2M595 554h0M596 617v-3M596 611v-15M596 580v-2M596 572v-2M597 616h0M597 613h0M597 610v-11M597 596v-1M597 588h0M597 579h0M597 575h0M597 572h0M597 569h0M597 566h0M598 618v-2M598 612h0M598 609h0M598 605h0M598 599h0M598 570h0M598 565h0M599 612h0M599 609v-3M599 602h0M599 596h0M600 617h0M600 614h0M600 611h0M600 601h0M601 617v-13M601 601h0M601 594v-1M601 590h0M601 587v-1M601 571h0M602 617v-10M602 604v-8M602 585h0M603 618v-17M603 598h0M603 594h0M603 588h0M603 584v-2M604 618v-20M604 595h0M604 588v-2M604 579h0M604 569v-1M605 618v-19M605 596v-2M605 591v-4M605 583h0M605 579h0M605 576h0M605 572h0M605 551h0M606 618v-9M606 606v-4M606 598v-1M606 594h0M606 591h0M606 588h0M606 585h0M606 582h0M606 579v-4M607 618v-15M607 600v-5M607 591v-3M607 578h0M607 550h0M607 541h0M608 618v-22M608 593h0M608 584h0M608 579h0M608 574h0M608 571h0M608 566h0M608 560v-2M608 554h0M609 618v-16M609 599v-2M609 594v-2M609 589h0M609 584h0M609 581h0M609 564h0M609 550v-1M609 543h0M610 617v-12M610 602v-5M610 594v-5M610 579h0M610 574v-1M610 560h0M611 618v-19M611 596h0M611 591v-2M611 580v-1M611 574h0M612 618v-14M612 601v-10M612 582h0M612 576h0M612 573h0M612 570h0M612 565h0M613 617v-10M613 603h0M613 600v-4M613 592v-1M613 585h0M613 576v-4M613 569v-3M613 542h0M614 618v-17M614 597v-7M614 587h0M614 581h0M614 575v-3M615 618v-11M615 604v-21M615 574h0M615 569h0M615 553h0M616 618v-18M616 597v-3M616 588h0M616 585h0M616 580h0M616 575v-2M616 566h0M616 560h0M616 555v-2M616 548h0M617 617v-22M617 591h0M617 588h0M617 584v-1M617 578h0M617 574v-1M617 570h0M617 564h0M617 559h0M618 618v-19M618 594v-3M618 587h0M618 581h0M618 578h0M618 575h0M618 571h0M618 560h0M618 550h0M619 617v-14M619 600v-4M619 593v-17M619 571v-1M619 556h0M620 617v-22M620 592v-8M620 581h0M620 576h0M620 572h0M620 550h0M621 618v-3M621 612v-6M621 603v-3M621 597v-5M621 587h0M621 576v-3M621 570h0M621 564h0M621 561h0M622 617v-20M622 594v-1M622 590v-1M622 586v-2M622 581v-2M622 570h0M622 566v-4M622 557v-2M622 542h0M623 618v-5M623 610v-9M623 598v-8M623 583v-4M623 559h0M623 554v-1M623 549h0M624 618v-33M624 582h0M624 579v-2M624 574v-2M624 562h0M624 553h0M625 618v-18M625 597v-5M625 589v-3M625 582h0M625 578h0M625 575v-1M625 571v-3M625 561v-3M625 554h0M625 536h0M626 618v-13M626 602v-3M626 596v-5M626 588v-2M626 582h0M626 575h0M626 570v-1M626 563h0M626 557h0M626 546h0M627 618v-16M627 598v-6M627 588v-14M627 565h0M628 617v-32M628 580v-2M628 573h0M628 566v-1M629 618v-27M629 587h0M629 584v-6M629 538h0M630 618v-12M630 603v-18M630 574v-1M630 570h0M630 566v-2M630 560h0M630 554h0M630 543h0M631 617v-31M631 582v-1M631 577v-3M631 569v-3M631 558h0M631 554h0M631 551h0M631 544h0M632 618v-26M632 587h0M632 582v-5M632 572v-2M632 561v-4M632 545h0M633 613h0M633 609h0M633 597h0" stroke="#048c18"/>
<path d="M633 575h0M633 570h0M633 565h0M633 557h0M634 576h0M634 573h0M635 617v-16M635 597h0M635 594v-13M635 576v-9M635 555h0M635 545h0M636 617v-19M636 593v-4M636 586h0M636 583h0M636 578h0M636 572v-1M636 566v-1M636 562v-3M636 552v-1M636 545h0M637 618v-34M637 581h0M637 578v-2M637 573v-1M637 569v-1M637 563v-1M637 558h0M637 549h0M637 540h0M638 618v-27M638 587h0M638 584h0M638 566v-8M638 550v-5M638 536h0M639 618v-22M639 593v-10M639 577h0M639 574h0M639 571h0M639 568h0M639 562h0M639 544h0M640 618v-36M640 574h0M640 571v-1M640 564h0M640 560h0M640 557v-2M640 550v-1M641 618v-25M641 587v-2M641 575v-2M641 563h0M641 557h0M641 553h0M641 550h0M641 537h0M642 617v-15M642 598v-5M642 590v-7M642 573v-3M642 566v-1M642 560h0M642 555h0M642 549h0M642 540h0M643 618v-21M643 591v-3M643 584v-2M643 576v-2M643 571h0M643 562v-1M643 548h0M643 545v-1M643 536h0M644 618v-32M644 580h0M644 575v-1M644 571h0M644 566h0M644 557h0M644 553v-2M645 617v-18M645 596v-4M645 587v-2M645 576v-6M645 565v-5M645 548h0M645 543h0M645 540h0M646 618v-18M646 597v-8M646 586v-1M646 582v-3M646 576v-5M646 565h0M646 559v-1M646 542h0M647 618v-4M647 611v-5M647 603v-22M647 576h0M647 573v-7M647 563v-4M647 541h0M648 617v-1M648 613v-4M648 606v-1M648 602v-8M648 591h0M648 585v-2M648 578h0M648 575h0M648 564h0M648 537h0M649 617v-6M649 608v-1M649 602v-1M649 598v-1M649 591h0M649 583h0M649 576h0M649 572h0M649 557h0M649 550h0M650 618v-5M650 610v-11M650 594h0M650 584v-2M650 576h0M650 564h0M651 614h0M651 609v-2M651 603h0M651 600h0M651 593h0M652 610h0M652 601h0M652 594h0M652 586h0M653 615h0M653 612v-2M653 605h0M653 599h0M653 593h0M653 582h0M653 579h0M653 565h0M653 560h0M654 618v-3M654 612v-2M654 602h0M654 598v-1M654 582h0M654 577h0M654 574h0M654 567h0M655 617v-8M655 604v-3M655 597h0M655 594h0M655 589v-2M655 584v-3M655 578h0M655 574h0M655 570h0M655 567h0M655 542h0M656 618v-21M656 593v-2M656 585h0M656 575h0M656 572h0M656 551h0M656 538h0M657 617v-21M657 592v-6M657 582h0M657 578h0M657 574h0M657 568v-1M657 564v-2M657 553v-3M657 546h0M658 618v-37M658 578h0M658 572h0M658 569v-3M658 558h0M658 553h0M658 548h0M658 542h0M659 618v-14M659 601v-8M659 590v-2M659 585v-2M659 577v-3M659 569v-2M659 564v-4M659 557h0M659 554h0M660 617v-19M660 595v-10M660 581h0M660 578h0M660 575v-2M660 565h0M660 562h0M660 559h0M660 551h0M661 617v-26M661 588v-8M661 576v-5M661 568v-1M661 564h0M661 556h0M661 546h0M662 617v-15M662 599v-5M662 591v-7M662 581v-2M662 576v-3M662 565h0M662 561h0M662 543h0M663 618v-23M663 592v-6M663 583v-4M663 573v-3M663 564v-1M663 559h0M663 554h0M663 551h0M663 538h0M664 618v-9M664 606v-8M664 595h0M664 592v-5M664 583h0M664 579h0M664 572v-6M664 559h0M664 556v-1M664 541h0M664 536h0M665 618v-13M665 601v-18M665 580v-2M665 574v-2M665 566v-1M665 552h0M665 539h0M666 618v-9M666 606v-5M666 598v-6M666 589v-7M666 576h0M666 562h0M666 559h0M666 556h0M666 544h0M667 618v-15M667 600v-3M667 592v-6M667 578v-3M667 569h0M667 564h0M667 553h0M667 537v-1M668 618v-15M668 600v-10M668 587v-2M668 578h0M668 569h0M669 617v-15M669 599v-6M669 590v-8M669 579v-2M669 573v-2M669 565h0M669 561h0M669 553h0M669 549h0M670 617v-22M670 592v-1M670 588h0M670 583v-4M670 572v-3M670 561h0M670 558v-1M670 541h0M671 618v-18M671 597v-9M671 584h0M671 581v-3M671 572h0M671 567h0M671 556h0M671 553h0M671 547h0M672 618v-30M672 575v-8M672 557h0M672 552v-2M672 544h0M673 617v-13M673 601v-6M673 592v-8M673 581v-9M673 566h0M673 562v-3M674 618v-24M674 589v-1M674 585v-3M674 577v-3M674 571h0M674 567h0M674 561h0M675 618v-22M675 593v-11M675 576h0M675 573v-6M675 562h0M675 559h0M675 556h0M676 618v-17M676 598v-19M676 575h0M676 572h0M676 568h0M676 565h0M676 543h0M677 618v-27M677 588h0M677 585v-2M677 580h0M677 575h0M677 557v-1M677 552h0M677 546h0M677 537h0M678 618v-23M678 592v-8M678 578v-4M678 570h0M678 565h0M678 561v-4M678 537h0" stroke="#ff3030"/>
<path d="M680 618h0M680 615h0M680 608v-2M680 596h0M680 587h0M680 561h0M681 618v-17M681 598v-1M681 594v-4M681 586h0M681 583h0M681 580h0M681 574h0M681 564h0M682 617v-27M682 587v-2M682 580v-9M682 568h0M682 556v-1M683 618v-15M683 599v-7M683 589h0M683 585h0M683 582h0M683 578h0M683 575v-3M684 618v-30M684 583v-1M684 572v-1M684 565h0M685 618v-18M685 597v-9M685 585h0M685 580v-1M685 569h0M685 562h0M685 543h0M686 618v-15M686 599v-16M686 579h0M686 573v-8M686 548h0M687 617v-10M687 603v-2M687 596v-9M687 584v-1M687 580h0M687 576v-3M687 570h0M687 567v-1M687 560h0M687 549h0M688 618v-27M688 587v-3M688 575h0M688 572v-7M688 553h0M688 547h0M688 540h0M689 617v-11M689 603v-2M689 598h0M689 595v-4M689 588h0M689 585h0M689 580v-1M689 572v-1M689 564h0M689 559v-1M689 553h0M690 618v-15M690 600h0M690 596h0M690 592h0M690 589h0M690 585h0M690 579v-3M691 618v-3M691 612v-5M691 604h0M691 598v-1M691 592v-2M691 585v-2M691 580h0M692 617v-2M692 606v-2M692 598h0M692 593h0M693 617h0M693 612v-2M693 605v-1M693 600h0M693 597h0M693 593h0M694 617v-9M694 602h0M694 598h0M694 590h0M695 617v-3M695 610v-5M695 601h0M695 595v-3M695 582h0M695 577h0M695 564v-1M696 618v-13M696 602h0M696 598v-2M696 593v-2M696 588h0M696 585v-6M696 566h0M696 561h0M696 548h0M697 617v-13M697 600v-2M697 595v-15M697 576h0M697 572v-1M697 563h0M697 560h0M697 549h0M698 618v-21M698 594v-2M698 589v-2M698 582v-3M698 576h0M698 572v-3M698 565h0M698 560h0M699 618v-8M699 607v-6M699 598v-2M699 591v-6M699 576v-5M699 567v-2M699 559h0M699 556h0M699 549v-1M700 618v-31M700 580v-2M700 573v-2M701 617v-22M701 588v-2M701 570h0M701 559h0M701 554h0M701 551h0M702 618v-20M702 595v-2M702 587v-2M702 582h0M702 577h0M702 574v-2M703 617v-19M703 593v-4M703 585v-2M703 580v-2M703 569v-1M704 618v-22M704 593v-6M704 583h0M704 564h0M704 552h0M705 618v-13M705 601v-10M705 587v-3M705 578v-1M705 572h0M705 564h0M706 617v-21M706 593h0M706 586v-1M706 580h0M707 617v-11M707 602v-3M707 596h0M707 591v-2M707 582h0M707 575h0M707 567h0M707 561h0M708 618v-18M708 597v-9M708 585v-4M708 576h0M708 570h0M709 618v-20M709 591v-2M709 584v-3M709 576h0M709 570h0M709 565h0M710 618v-25M710 589v-8M710 578v-2M710 553h0M711 618v-21M711 594h0M711 591v-3M711 580h0M711 575h0M712 618v-32M712 582v-2M712 575h0M712 569h0M713 618v-21M713 592h0M713 589h0M713 585h0M713 579v-2M713 572h0M714 618v-29M714 585h0M714 582v-1M714 576v-1M714 563h0M715 618v-20M715 595h0M715 585h0M715 581h0M715 577v-4M715 569h0M716 618v-27M716 587v-2M716 581v-1M716 574h0M716 570h0M717 617v-30M717 583v-2M717 576h0M717 565h0M718 618v-23M718 592v-5M718 584v-7M718 573h0M718 570h0M718 562h0M718 557h0M719 618v-25M719 590v-3M719 584v-3M719 577v-3M719 569v-3M719 562h0M719 559v-2M720 618v-22M720 592v-3M720 585v-3M720 579h0M720 572v-1M720 565h0M720 561v-1M721 618v-25M721 590h0M721 587v-3M721 580v-2M721 575v-1M721 561h0M721 552h0M722 617v-14M722 599v-6M722 588h0M722 584v-3M722 577h0M722 574h0M722 563h0M722 559h0" stroke="#1e6ef0"/>
</g>
<line x1="56.4" x2="373.0" y1="216.3" y2="216.3" stroke="#267a40" stroke-width="1.15"/>
<circle cx="87.4" cy="282.5" r="0.83" fill="#048c18"/>
<circle cx="97.2" cy="280.2" r="0.85" fill="#048c18"/>
<circle cx="102.1" cy="282.3" r="0.83" fill="#048c18"/>
<circle cx="91.3" cy="281.6" r="0.84" fill="#048c18"/>
<circle cx="75.2" cy="282.3" r="0.83" fill="#048c18"/>
<circle cx="101.5" cy="271.4" r="0.92" fill="#048c18"/>
<circle cx="98.9" cy="271.7" r="0.92" fill="#048c18"/>
<circle cx="85.4" cy="275.9" r="0.88" fill="#048c18"/>
<circle cx="93.2" cy="278.9" r="0.86" fill="#048c18"/>
<circle cx="93.4" cy="281.9" r="0.84" fill="#048c18"/>
<circle cx="78.6" cy="279.1" r="0.86" fill="#048c18"/>
<circle cx="104.9" cy="280.2" r="0.85" fill="#048c18"/>
<circle cx="100.7" cy="278.1" r="0.87" fill="#048c18"/>
<circle cx="105.0" cy="279.5" r="0.85" fill="#048c18"/>
<circle cx="89.4" cy="280.3" r="0.85" fill="#048c18"/>
<circle cx="108.2" cy="278.0" r="0.87" fill="#048c18"/>
<circle cx="104.9" cy="281.4" r="0.84" fill="#048c18"/>
<circle cx="82.2" cy="279.4" r="0.85" fill="#048c18"/>
<circle cx="70.5" cy="278.1" r="0.87" fill="#048c18"/>
<circle cx="108.0" cy="271.8" r="0.92" fill="#048c18"/>
<circle cx="99.1" cy="280.8" r="0.84" fill="#048c18"/>
<circle cx="76.0" cy="276.9" r="0.88" fill="#048c18"/>
<circle cx="101.7" cy="282.7" r="0.83" fill="#048c18"/>
<circle cx="98.3" cy="281.1" r="0.84" fill="#048c18"/>
<circle cx="71.1" cy="282.8" r="0.83" fill="#048c18"/>
<circle cx="69.9" cy="280.8" r="0.84" fill="#048c18"/>
<circle cx="102.1" cy="280.8" r="0.84" fill="#048c18"/>
<circle cx="77.0" cy="282.5" r="0.83" fill="#048c18"/>
<circle cx="71.1" cy="280.6" r="0.85" fill="#048c18"/>
<circle cx="90.6" cy="282.0" r="0.83" fill="#048c18"/>
<circle cx="104.7" cy="281.8" r="0.84" fill="#048c18"/>
<circle cx="79.4" cy="269.7" r="0.93" fill="#048c18"/>
<circle cx="76.6" cy="281.8" r="0.84" fill="#048c18"/>
<circle cx="93.6" cy="281.0" r="0.84" fill="#048c18"/>
<circle cx="99.4" cy="279.5" r="0.85" fill="#048c18"/>
<circle cx="107.6" cy="281.8" r="0.84" fill="#048c18"/>
<circle cx="91.6" cy="268.2" r="0.94" fill="#048c18"/>
<circle cx="72.8" cy="282.5" r="0.83" fill="#048c18"/>
<circle cx="69.9" cy="277.2" r="0.87" fill="#048c18"/>
<circle cx="91.2" cy="277.0" r="0.87" fill="#048c18"/>
<circle cx="71.3" cy="282.7" r="0.83" fill="#048c18"/>
<circle cx="91.9" cy="282.4" r="0.83" fill="#048c18"/>
<circle cx="83.4" cy="271.9" r="0.92" fill="#048c18"/>
<circle cx="109.7" cy="277.1" r="0.87" fill="#048c18"/>
<circle cx="109.6" cy="280.7" r="0.85" fill="#048c18"/>
<circle cx="69.6" cy="280.1" r="0.85" fill="#048c18"/>
<circle cx="75.5" cy="278.6" r="0.86" fill="#048c18"/>
<circle cx="93.0" cy="280.4" r="0.85" fill="#048c18"/>
<circle cx="87.4" cy="276.9" r="0.88" fill="#048c18"/>
<circle cx="92.5" cy="275.1" r="0.89" fill="#048c18"/>
<circle cx="69.6" cy="280.2" r="0.85" fill="#048c18"/>
<circle cx="76.3" cy="282.7" r="0.83" fill="#048c18"/>
<circle cx="71.0" cy="280.1" r="0.85" fill="#048c18"/>
<circle cx="108.5" cy="282.2" r="0.83" fill="#048c18"/>
<circle cx="70.0" cy="282.7" r="0.83" fill="#048c18"/>
<circle cx="76.1" cy="282.7" r="0.83" fill="#048c18"/>
<circle cx="105.0" cy="280.4" r="0.85" fill="#048c18"/>
<circle cx="75.4" cy="279.9" r="0.85" fill="#048c18"/>
<circle cx="76.8" cy="281.3" r="0.84" fill="#048c18"/>
<circle cx="94.3" cy="280.9" r="0.84" fill="#048c18"/>
<circle cx="68.3" cy="278.1" r="0.87" fill="#048c18"/>
<circle cx="104.5" cy="279.4" r="0.86" fill="#048c18"/>
<circle cx="107.2" cy="279.5" r="0.85" fill="#048c18"/>
<circle cx="77.7" cy="281.8" r="0.84" fill="#048c18"/>
<circle cx="70.2" cy="278.4" r="0.86" fill="#048c18"/>
<circle cx="90.1" cy="280.4" r="0.85" fill="#048c18"/>
<circle cx="68.3" cy="276.1" r="0.88" fill="#048c18"/>
<circle cx="70.1" cy="272.5" r="0.91" fill="#048c18"/>
<circle cx="104.8" cy="280.1" r="0.85" fill="#048c18"/>
<circle cx="96.2" cy="281.8" r="0.84" fill="#048c18"/>
<circle cx="104.1" cy="278.6" r="0.86" fill="#048c18"/>
<circle cx="97.7" cy="281.6" r="0.84" fill="#048c18"/>
<circle cx="93.9" cy="276.5" r="0.88" fill="#048c18"/>
<circle cx="98.6" cy="274.7" r="0.89" fill="#048c18"/>
<circle cx="101.8" cy="280.2" r="0.85" fill="#048c18"/>
<circle cx="75.2" cy="280.5" r="0.85" fill="#048c18"/>
<circle cx="108.6" cy="281.4" r="0.84" fill="#048c18"/>
<circle cx="92.4" cy="281.8" r="0.84" fill="#048c18"/>
<circle cx="91.3" cy="282.4" r="0.83" fill="#048c18"/>
<circle cx="94.1" cy="281.6" r="0.84" fill="#048c18"/>
<circle cx="80.5" cy="277.6" r="0.87" fill="#048c18"/>
<circle cx="75.6" cy="282.6" r="0.83" fill="#048c18"/>
<circle cx="91.6" cy="281.8" r="0.84" fill="#048c18"/>
<circle cx="77.7" cy="279.8" r="0.85" fill="#048c18"/>
<circle cx="72.2" cy="281.5" r="0.84" fill="#048c18"/>
<circle cx="98.6" cy="273.3" r="0.90" fill="#048c18"/>
<circle cx="105.0" cy="276.5" r="0.88" fill="#048c18"/>
<circle cx="93.3" cy="280.8" r="0.84" fill="#048c18"/>
<circle cx="84.8" cy="272.0" r="0.91" fill="#048c18"/>
<circle cx="70.1" cy="278.9" r="0.86" fill="#048c18"/>
<circle cx="84.8" cy="276.7" r="0.88" fill="#048c18"/>
<circle cx="103.2" cy="275.9" r="0.88" fill="#048c18"/>
<circle cx="83.5" cy="280.9" r="0.84" fill="#048c18"/>
<circle cx="78.3" cy="279.7" r="0.85" fill="#048c18"/>
<circle cx="90.2" cy="277.2" r="0.87" fill="#048c18"/>
<circle cx="72.0" cy="282.6" r="0.83" fill="#048c18"/>
<circle cx="69.9" cy="267.5" r="0.95" fill="#048c18"/>
<circle cx="73.1" cy="282.1" r="0.83" fill="#048c18"/>
<circle cx="95.7" cy="281.2" r="0.84" fill="#048c18"/>
<circle cx="108.7" cy="279.7" r="0.85" fill="#048c18"/>
<circle cx="71.6" cy="280.5" r="0.85" fill="#048c18"/>
<circle cx="70.6" cy="282.3" r="0.83" fill="#048c18"/>
<circle cx="90.7" cy="281.3" r="0.84" fill="#048c18"/>
<circle cx="90.4" cy="282.6" r="0.83" fill="#048c18"/>
<circle cx="74.8" cy="275.3" r="0.89" fill="#048c18"/>
<circle cx="99.1" cy="281.4" r="0.84" fill="#048c18"/>
<circle cx="73.1" cy="273.8" r="0.90" fill="#048c18"/>
<circle cx="83.8" cy="281.2" r="0.84" fill="#048c18"/>
<circle cx="68.4" cy="281.4" r="0.84" fill="#048c18"/>
<circle cx="91.3" cy="274.0" r="0.90" fill="#048c18"/>
<circle cx="93.9" cy="278.1" r="0.87" fill="#048c18"/>
<circle cx="97.8" cy="282.4" r="0.83" fill="#048c18"/>
<circle cx="79.5" cy="282.6" r="0.83" fill="#048c18"/>
<circle cx="69.7" cy="282.6" r="0.83" fill="#048c18"/>
<circle cx="73.4" cy="282.2" r="0.83" fill="#048c18"/>
<circle cx="99.6" cy="281.7" r="0.84" fill="#048c18"/>
<circle cx="100.4" cy="280.4" r="0.85" fill="#048c18"/>
<circle cx="91.5" cy="282.0" r="0.83" fill="#048c18"/>
<circle cx="82.9" cy="281.3" r="0.84" fill="#048c18"/>
<circle cx="114.6" cy="281.6" r="0.84" fill="#ff3030"/>
<circle cx="138.6" cy="271.9" r="0.92" fill="#ff3030"/>
<circle cx="135.8" cy="280.4" r="0.85" fill="#ff3030"/>
<circle cx="137.7" cy="279.4" r="0.86" fill="#ff3030"/>
<circle cx="117.2" cy="281.9" r="0.84" fill="#ff3030"/>
<circle cx="138.2" cy="281.4" r="0.84" fill="#ff3030"/>
<circle cx="143.4" cy="277.3" r="0.87" fill="#ff3030"/>
<circle cx="139.7" cy="280.5" r="0.85" fill="#ff3030"/>
<circle cx="131.5" cy="280.4" r="0.85" fill="#ff3030"/>
<circle cx="120.8" cy="276.7" r="0.88" fill="#ff3030"/>
<circle cx="140.7" cy="277.7" r="0.87" fill="#ff3030"/>
<circle cx="138.8" cy="273.0" r="0.91" fill="#ff3030"/>
<circle cx="139.5" cy="281.0" r="0.84" fill="#ff3030"/>
<circle cx="142.2" cy="280.4" r="0.85" fill="#ff3030"/>
<circle cx="137.0" cy="278.8" r="0.86" fill="#ff3030"/>
<circle cx="131.1" cy="277.6" r="0.87" fill="#ff3030"/>
<circle cx="126.8" cy="278.9" r="0.86" fill="#ff3030"/>
<circle cx="112.6" cy="274.5" r="0.89" fill="#ff3030"/>
<circle cx="139.2" cy="281.6" r="0.84" fill="#ff3030"/>
<circle cx="136.1" cy="280.0" r="0.85" fill="#ff3030"/>
<circle cx="115.8" cy="282.5" r="0.83" fill="#ff3030"/>
<circle cx="119.2" cy="281.3" r="0.84" fill="#ff3030"/>
<circle cx="111.1" cy="282.3" r="0.83" fill="#ff3030"/>
<circle cx="115.3" cy="270.9" r="0.92" fill="#ff3030"/>
<circle cx="131.2" cy="282.0" r="0.83" fill="#ff3030"/>
<circle cx="121.0" cy="281.9" r="0.83" fill="#ff3030"/>
<circle cx="129.4" cy="269.1" r="0.94" fill="#ff3030"/>
<circle cx="119.1" cy="270.9" r="0.92" fill="#ff3030"/>
<circle cx="138.6" cy="282.3" r="0.83" fill="#ff3030"/>
<circle cx="139.5" cy="281.2" r="0.84" fill="#ff3030"/>
<circle cx="116.5" cy="282.2" r="0.83" fill="#ff3030"/>
<circle cx="137.8" cy="281.7" r="0.84" fill="#ff3030"/>
<circle cx="127.3" cy="281.4" r="0.84" fill="#ff3030"/>
<circle cx="141.8" cy="281.5" r="0.84" fill="#ff3030"/>
<circle cx="140.2" cy="275.6" r="0.89" fill="#ff3030"/>
<circle cx="140.6" cy="272.9" r="0.91" fill="#ff3030"/>
<circle cx="138.3" cy="275.2" r="0.89" fill="#ff3030"/>
<circle cx="138.7" cy="275.6" r="0.89" fill="#ff3030"/>
<circle cx="138.8" cy="282.8" r="0.83" fill="#ff3030"/>
<circle cx="139.8" cy="279.1" r="0.86" fill="#ff3030"/>
<circle cx="138.6" cy="282.7" r="0.83" fill="#ff3030"/>
<circle cx="112.8" cy="280.2" r="0.85" fill="#ff3030"/>
<circle cx="136.6" cy="274.5" r="0.89" fill="#ff3030"/>
<circle cx="140.8" cy="273.6" r="0.90" fill="#ff3030"/>
<circle cx="134.9" cy="280.2" r="0.85" fill="#ff3030"/>
<circle cx="142.1" cy="272.8" r="0.91" fill="#ff3030"/>
<circle cx="114.1" cy="281.8" r="0.84" fill="#ff3030"/>
<circle cx="136.8" cy="280.7" r="0.84" fill="#ff3030"/>
<circle cx="142.1" cy="269.6" r="0.93" fill="#ff3030"/>
<circle cx="136.2" cy="280.1" r="0.85" fill="#ff3030"/>
<circle cx="114.9" cy="281.5" r="0.84" fill="#ff3030"/>
<circle cx="140.7" cy="277.5" r="0.87" fill="#ff3030"/>
<circle cx="135.6" cy="282.0" r="0.83" fill="#ff3030"/>
<circle cx="118.4" cy="270.9" r="0.92" fill="#ff3030"/>
<circle cx="111.4" cy="281.3" r="0.84" fill="#ff3030"/>
<circle cx="117.1" cy="280.6" r="0.85" fill="#ff3030"/>
<circle cx="138.6" cy="277.2" r="0.87" fill="#ff3030"/>
<circle cx="139.7" cy="280.1" r="0.85" fill="#ff3030"/>
<circle cx="134.3" cy="281.0" r="0.84" fill="#ff3030"/>
<circle cx="163.5" cy="282.3" r="0.83" fill="#1e6ef0"/>
<circle cx="171.2" cy="280.0" r="0.85" fill="#1e6ef0"/>
<circle cx="170.7" cy="282.5" r="0.83" fill="#1e6ef0"/>
<circle cx="171.6" cy="282.4" r="0.83" fill="#1e6ef0"/>
<circle cx="175.3" cy="277.0" r="0.87" fill="#1e6ef0"/>
<circle cx="150.2" cy="277.9" r="0.87" fill="#1e6ef0"/>
<circle cx="174.3" cy="278.7" r="0.86" fill="#1e6ef0"/>
<circle cx="149.3" cy="278.7" r="0.86" fill="#1e6ef0"/>
<circle cx="146.4" cy="278.9" r="0.86" fill="#1e6ef0"/>
<circle cx="169.2" cy="278.6" r="0.86" fill="#1e6ef0"/>
<circle cx="151.4" cy="281.6" r="0.84" fill="#1e6ef0"/>
<circle cx="166.1" cy="280.3" r="0.85" fill="#1e6ef0"/>
<circle cx="146.6" cy="275.1" r="0.89" fill="#1e6ef0"/>
<circle cx="167.1" cy="280.0" r="0.85" fill="#1e6ef0"/>
<circle cx="171.3" cy="280.2" r="0.85" fill="#1e6ef0"/>
<circle cx="147.3" cy="281.2" r="0.84" fill="#1e6ef0"/>
<circle cx="165.1" cy="278.9" r="0.86" fill="#1e6ef0"/>
<circle cx="169.5" cy="271.9" r="0.91" fill="#1e6ef0"/>
<circle cx="145.3" cy="279.7" r="0.85" fill="#1e6ef0"/>
<circle cx="165.0" cy="279.7" r="0.85" fill="#1e6ef0"/>
<circle cx="169.4" cy="274.4" r="0.90" fill="#1e6ef0"/>
<circle cx="151.4" cy="280.9" r="0.84" fill="#1e6ef0"/>
<circle cx="152.1" cy="277.5" r="0.87" fill="#1e6ef0"/>
<circle cx="174.5" cy="269.3" r="0.94" fill="#1e6ef0"/>
<circle cx="149.3" cy="282.8" r="0.83" fill="#1e6ef0"/>
<circle cx="148.0" cy="280.2" r="0.85" fill="#1e6ef0"/>
<circle cx="172.1" cy="281.0" r="0.84" fill="#1e6ef0"/>
<circle cx="149.4" cy="282.3" r="0.83" fill="#1e6ef0"/>
<circle cx="171.0" cy="275.9" r="0.88" fill="#1e6ef0"/>
<circle cx="148.8" cy="281.4" r="0.84" fill="#1e6ef0"/>
<circle cx="149.1" cy="278.8" r="0.86" fill="#1e6ef0"/>
<circle cx="171.6" cy="274.4" r="0.90" fill="#1e6ef0"/>
<circle cx="166.3" cy="268.6" r="0.94" fill="#1e6ef0"/>
<circle cx="145.7" cy="280.0" r="0.85" fill="#1e6ef0"/>
<circle cx="162.5" cy="280.3" r="0.85" fill="#1e6ef0"/>
<circle cx="149.6" cy="280.5" r="0.85" fill="#1e6ef0"/>
<circle cx="145.7" cy="275.5" r="0.89" fill="#1e6ef0"/>
<circle cx="148.8" cy="280.7" r="0.84" fill="#1e6ef0"/>
<circle cx="148.2" cy="279.5" r="0.85" fill="#1e6ef0"/>
<circle cx="175.1" cy="282.8" r="0.83" fill="#1e6ef0"/>
<circle cx="168.5" cy="282.5" r="0.83" fill="#1e6ef0"/>
<circle cx="147.2" cy="282.2" r="0.83" fill="#1e6ef0"/>
<circle cx="151.5" cy="276.6" r="0.88" fill="#1e6ef0"/>
<circle cx="174.6" cy="282.6" r="0.83" fill="#1e6ef0"/>
<circle cx="168.2" cy="269.8" r="0.93" fill="#1e6ef0"/>
<circle cx="168.2" cy="280.1" r="0.85" fill="#1e6ef0"/>
<circle cx="147.0" cy="272.8" r="0.91" fill="#1e6ef0"/>
<circle cx="150.7" cy="274.8" r="0.89" fill="#1e6ef0"/>
<circle cx="150.3" cy="280.2" r="0.85" fill="#1e6ef0"/>
<circle cx="147.7" cy="277.7" r="0.87" fill="#1e6ef0"/>
<circle cx="147.7" cy="279.5" r="0.85" fill="#1e6ef0"/>
<circle cx="149.5" cy="280.8" r="0.84" fill="#1e6ef0"/>
<circle cx="168.2" cy="279.1" r="0.86" fill="#1e6ef0"/>
<circle cx="166.9" cy="279.9" r="0.85" fill="#1e6ef0"/>
<circle cx="172.3" cy="276.9" r="0.88" fill="#1e6ef0"/>
<circle cx="149.3" cy="282.3" r="0.83" fill="#1e6ef0"/>
<circle cx="165.8" cy="269.8" r="0.93" fill="#1e6ef0"/>
<circle cx="165.8" cy="275.3" r="0.89" fill="#1e6ef0"/>
<circle cx="170.0" cy="273.0" r="0.91" fill="#1e6ef0"/>
<circle cx="145.9" cy="281.8" r="0.84" fill="#1e6ef0"/>
<circle cx="146.3" cy="270.7" r="0.92" fill="#1e6ef0"/>
<circle cx="175.3" cy="279.9" r="0.85" fill="#1e6ef0"/>
<circle cx="167.8" cy="281.6" r="0.84" fill="#1e6ef0"/>
<circle cx="163.8" cy="270.9" r="0.92" fill="#1e6ef0"/>
<circle cx="166.0" cy="281.7" r="0.84" fill="#1e6ef0"/>
<circle cx="148.8" cy="276.0" r="0.88" fill="#1e6ef0"/>
<circle cx="145.8" cy="276.9" r="0.87" fill="#1e6ef0"/>
<circle cx="210.0" cy="269.6" r="0.93" fill="#ff4800"/>
<circle cx="184.5" cy="277.9" r="0.87" fill="#ff4800"/>
<circle cx="187.5" cy="281.1" r="0.84" fill="#ff4800"/>
<circle cx="185.2" cy="274.7" r="0.89" fill="#ff4800"/>
<circle cx="200.5" cy="282.4" r="0.83" fill="#ff4800"/>
<circle cx="208.6" cy="280.1" r="0.85" fill="#ff4800"/>
<circle cx="183.6" cy="280.5" r="0.85" fill="#ff4800"/>
<circle cx="205.1" cy="282.4" r="0.83" fill="#ff4800"/>
<circle cx="210.6" cy="277.9" r="0.87" fill="#ff4800"/>
<circle cx="202.7" cy="279.1" r="0.86" fill="#ff4800"/>
<circle cx="185.0" cy="277.8" r="0.87" fill="#ff4800"/>
<circle cx="183.4" cy="273.7" r="0.90" fill="#ff4800"/>
<circle cx="182.7" cy="279.6" r="0.85" fill="#ff4800"/>
<circle cx="198.3" cy="282.5" r="0.83" fill="#ff4800"/>
<circle cx="177.4" cy="279.0" r="0.86" fill="#ff4800"/>
<circle cx="177.3" cy="275.0" r="0.89" fill="#ff4800"/>
<circle cx="192.5" cy="268.9" r="0.94" fill="#ff4800"/>
<circle cx="183.8" cy="282.1" r="0.83" fill="#ff4800"/>
<circle cx="209.7" cy="281.0" r="0.84" fill="#ff4800"/>
<circle cx="209.8" cy="279.7" r="0.85" fill="#ff4800"/>
<circle cx="187.1" cy="282.1" r="0.83" fill="#ff4800"/>
<circle cx="210.9" cy="272.6" r="0.91" fill="#ff4800"/>
<circle cx="180.8" cy="276.0" r="0.88" fill="#ff4800"/>
<circle cx="181.7" cy="278.5" r="0.86" fill="#ff4800"/>
<circle cx="201.2" cy="277.9" r="0.87" fill="#ff4800"/>
<circle cx="188.0" cy="271.8" r="0.92" fill="#ff4800"/>
<circle cx="204.9" cy="279.1" r="0.86" fill="#ff4800"/>
<circle cx="179.5" cy="280.0" r="0.85" fill="#ff4800"/>
<circle cx="177.5" cy="282.6" r="0.83" fill="#ff4800"/>
<circle cx="206.0" cy="278.7" r="0.86" fill="#ff4800"/>
<circle cx="210.8" cy="281.7" r="0.84" fill="#ff4800"/>
<circle cx="177.4" cy="282.3" r="0.83" fill="#ff4800"/>
<circle cx="183.0" cy="280.0" r="0.85" fill="#ff4800"/>
<circle cx="198.6" cy="268.3" r="0.94" fill="#ff4800"/>
<circle cx="202.3" cy="276.6" r="0.88" fill="#ff4800"/>
<circle cx="200.7" cy="273.8" r="0.90" fill="#ff4800"/>
<circle cx="204.6" cy="282.5" r="0.83" fill="#ff4800"/>
<circle cx="200.2" cy="275.1" r="0.89" fill="#ff4800"/>
<circle cx="205.9" cy="281.6" r="0.84" fill="#ff4800"/>
<circle cx="194.8" cy="271.8" r="0.92" fill="#ff4800"/>
<circle cx="181.7" cy="277.7" r="0.87" fill="#ff4800"/>
<circle cx="182.4" cy="282.6" r="0.83" fill="#ff4800"/>
<circle cx="181.7" cy="281.7" r="0.84" fill="#ff4800"/>
<circle cx="200.7" cy="281.1" r="0.84" fill="#ff4800"/>
<circle cx="201.1" cy="280.5" r="0.85" fill="#ff4800"/>
<circle cx="205.4" cy="281.7" r="0.84" fill="#ff4800"/>
<circle cx="203.2" cy="275.3" r="0.89" fill="#ff4800"/>
<circle cx="192.4" cy="278.4" r="0.86" fill="#ff4800"/>
<circle cx="198.8" cy="277.0" r="0.87" fill="#ff4800"/>
<circle cx="205.3" cy="280.2" r="0.85" fill="#ff4800"/>
<circle cx="187.8" cy="275.9" r="0.88" fill="#ff4800"/>
<circle cx="195.5" cy="280.0" r="0.85" fill="#ff4800"/>
<circle cx="184.6" cy="280.6" r="0.85" fill="#ff4800"/>
<circle cx="207.3" cy="274.0" r="0.90" fill="#ff4800"/>
<circle cx="207.8" cy="280.1" r="0.85" fill="#ff4800"/>
<circle cx="195.7" cy="282.0" r="0.83" fill="#ff4800"/>
<circle cx="186.2" cy="273.7" r="0.90" fill="#ff4800"/>
<circle cx="182.7" cy="277.0" r="0.87" fill="#ff4800"/>
<circle cx="203.7" cy="279.3" r="0.86" fill="#ff4800"/>
<circle cx="196.2" cy="281.4" r="0.84" fill="#ff4800"/>
<circle cx="197.6" cy="282.3" r="0.83" fill="#ff4800"/>
<circle cx="185.7" cy="272.1" r="0.91" fill="#ff4800"/>
<circle cx="185.7" cy="280.4" r="0.85" fill="#ff4800"/>
<circle cx="196.3" cy="280.9" r="0.84" fill="#ff4800"/>
<circle cx="205.7" cy="282.4" r="0.83" fill="#ff4800"/>
<circle cx="180.3" cy="272.0" r="0.91" fill="#ff4800"/>
<circle cx="237.5" cy="275.7" r="0.88" fill="#ffc60c"/>
<circle cx="230.7" cy="276.2" r="0.88" fill="#ffc60c"/>
<circle cx="229.4" cy="280.6" r="0.85" fill="#ffc60c"/>
<circle cx="213.8" cy="277.5" r="0.87" fill="#ffc60c"/>
<circle cx="230.0" cy="278.0" r="0.87" fill="#ffc60c"/>
<circle cx="223.4" cy="274.8" r="0.89" fill="#ffc60c"/>
<circle cx="231.1" cy="276.4" r="0.88" fill="#ffc60c"/>
<circle cx="217.0" cy="282.1" r="0.83" fill="#ffc60c"/>
<circle cx="215.1" cy="270.7" r="0.92" fill="#ffc60c"/>
<circle cx="215.5" cy="280.3" r="0.85" fill="#ffc60c"/>
<circle cx="219.0" cy="281.2" r="0.84" fill="#ffc60c"/>
<circle cx="215.8" cy="282.3" r="0.83" fill="#ffc60c"/>
<circle cx="224.6" cy="281.7" r="0.84" fill="#ffc60c"/>
<circle cx="233.9" cy="268.0" r="0.95" fill="#ffc60c"/>
<circle cx="220.1" cy="274.2" r="0.90" fill="#ffc60c"/>
<circle cx="234.0" cy="282.0" r="0.83" fill="#ffc60c"/>
<circle cx="214.5" cy="273.6" r="0.90" fill="#ffc60c"/>
<circle cx="234.5" cy="279.4" r="0.86" fill="#ffc60c"/>
<circle cx="215.2" cy="280.5" r="0.85" fill="#ffc60c"/>
<circle cx="225.1" cy="282.8" r="0.83" fill="#ffc60c"/>
<circle cx="214.2" cy="275.5" r="0.89" fill="#ffc60c"/>
<circle cx="237.5" cy="276.8" r="0.88" fill="#ffc60c"/>
<circle cx="215.9" cy="281.8" r="0.84" fill="#ffc60c"/>
<circle cx="232.2" cy="268.9" r="0.94" fill="#ffc60c"/>
<circle cx="241.5" cy="276.5" r="0.88" fill="#ffc60c"/>
<circle cx="212.4" cy="276.9" r="0.88" fill="#ffc60c"/>
<circle cx="242.4" cy="282.4" r="0.83" fill="#ffc60c"/>
<circle cx="225.7" cy="280.8" r="0.84" fill="#ffc60c"/>
<circle cx="216.5" cy="280.0" r="0.85" fill="#ffc60c"/>
<circle cx="236.6" cy="274.0" r="0.90" fill="#ffc60c"/>
<circle cx="229.7" cy="282.7" r="0.83" fill="#ffc60c"/>
<circle cx="234.6" cy="275.3" r="0.89" fill="#ffc60c"/>
<circle cx="215.3" cy="280.6" r="0.85" fill="#ffc60c"/>
<circle cx="231.5" cy="268.2" r="0.94" fill="#ffc60c"/>
<circle cx="232.9" cy="276.8" r="0.88" fill="#ffc60c"/>
<circle cx="212.2" cy="277.6" r="0.87" fill="#ffc60c"/>
<circle cx="232.3" cy="271.5" r="0.92" fill="#ffc60c"/>
<circle cx="241.4" cy="272.8" r="0.91" fill="#ffc60c"/>
<circle cx="233.6" cy="274.7" r="0.89" fill="#ffc60c"/>
<circle cx="237.1" cy="275.1" r="0.89" fill="#ffc60c"/>
<circle cx="212.6" cy="270.3" r="0.93" fill="#ffc60c"/>
<circle cx="231.5" cy="281.0" r="0.84" fill="#ffc60c"/>
<circle cx="214.7" cy="274.6" r="0.89" fill="#ffc60c"/>
<circle cx="233.5" cy="278.3" r="0.86" fill="#ffc60c"/>
<circle cx="225.8" cy="282.7" r="0.83" fill="#ffc60c"/>
<circle cx="212.9" cy="281.2" r="0.84" fill="#ffc60c"/>
<circle cx="230.0" cy="277.5" r="0.87" fill="#ffc60c"/>
<circle cx="242.0" cy="267.8" r="0.95" fill="#ffc60c"/>
<circle cx="217.0" cy="281.2" r="0.84" fill="#ffc60c"/>
<circle cx="231.8" cy="276.8" r="0.88" fill="#ffc60c"/>
<circle cx="241.5" cy="271.5" r="0.92" fill="#ffc60c"/>
<circle cx="215.6" cy="282.8" r="0.83" fill="#ffc60c"/>
<circle cx="214.3" cy="268.1" r="0.95" fill="#ffc60c"/>
<circle cx="215.2" cy="281.5" r="0.84" fill="#ffc60c"/>
<circle cx="230.6" cy="281.3" r="0.84" fill="#ffc60c"/>
<circle cx="235.1" cy="274.8" r="0.89" fill="#ffc60c"/>
<circle cx="226.3" cy="274.5" r="0.89" fill="#ffc60c"/>
<circle cx="235.2" cy="275.5" r="0.89" fill="#ffc60c"/>
<circle cx="242.1" cy="272.3" r="0.91" fill="#ffc60c"/>
<circle cx="232.0" cy="277.8" r="0.87" fill="#ffc60c"/>
<circle cx="214.9" cy="277.2" r="0.87" fill="#ffc60c"/>
<circle cx="235.2" cy="271.1" r="0.92" fill="#ffc60c"/>
<circle cx="219.7" cy="279.0" r="0.86" fill="#ffc60c"/>
<circle cx="214.8" cy="278.8" r="0.86" fill="#ffc60c"/>
<circle cx="223.2" cy="281.4" r="0.84" fill="#ffc60c"/>
<circle cx="214.7" cy="282.2" r="0.83" fill="#ffc60c"/>
<circle cx="226.5" cy="280.8" r="0.84" fill="#ffc60c"/>
<circle cx="212.3" cy="280.0" r="0.85" fill="#ffc60c"/>
<circle cx="223.4" cy="280.7" r="0.84" fill="#ffc60c"/>
<circle cx="241.1" cy="280.2" r="0.85" fill="#ffc60c"/>
<circle cx="229.8" cy="282.2" r="0.83" fill="#ffc60c"/>
<circle cx="241.9" cy="271.2" r="0.92" fill="#ffc60c"/>
<circle cx="230.0" cy="279.3" r="0.86" fill="#ffc60c"/>
<circle cx="239.4" cy="277.9" r="0.87" fill="#ffc60c"/>
<circle cx="233.0" cy="277.5" r="0.87" fill="#ffc60c"/>
<circle cx="227.2" cy="278.7" r="0.86" fill="#ffc60c"/>
<circle cx="218.2" cy="280.2" r="0.85" fill="#ffc60c"/>
<circle cx="214.4" cy="281.3" r="0.84" fill="#ffc60c"/>
<circle cx="231.6" cy="282.7" r="0.83" fill="#ffc60c"/>
<circle cx="213.4" cy="280.6" r="0.85" fill="#ffc60c"/>
<circle cx="214.6" cy="282.7" r="0.83" fill="#ffc60c"/>
<circle cx="216.9" cy="280.4" r="0.85" fill="#ffc60c"/>
<circle cx="229.8" cy="275.8" r="0.88" fill="#ffc60c"/>
<circle cx="221.8" cy="270.7" r="0.92" fill="#ffc60c"/>
<circle cx="240.1" cy="275.1" r="0.89" fill="#ffc60c"/>
<circle cx="214.6" cy="272.2" r="0.91" fill="#ffc60c"/>
<circle cx="215.8" cy="282.3" r="0.83" fill="#ffc60c"/>
<circle cx="232.1" cy="275.1" r="0.89" fill="#ffc60c"/>
<circle cx="214.2" cy="278.0" r="0.87" fill="#ffc60c"/>
<circle cx="215.7" cy="278.1" r="0.87" fill="#ffc60c"/>
<circle cx="233.0" cy="281.2" r="0.84" fill="#ffc60c"/>
<circle cx="215.5" cy="279.5" r="0.85" fill="#ffc60c"/>
<circle cx="230.7" cy="271.6" r="0.92" fill="#ffc60c"/>
<circle cx="231.7" cy="270.1" r="0.93" fill="#ffc60c"/>
<circle cx="233.0" cy="281.1" r="0.84" fill="#ffc60c"/>
<circle cx="215.3" cy="279.8" r="0.85" fill="#ffc60c"/>
<circle cx="225.1" cy="277.4" r="0.87" fill="#ffc60c"/>
<circle cx="212.4" cy="282.7" r="0.83" fill="#ffc60c"/>
<circle cx="223.7" cy="279.6" r="0.85" fill="#ffc60c"/>
<circle cx="228.8" cy="278.0" r="0.87" fill="#ffc60c"/>
<circle cx="230.4" cy="275.7" r="0.88" fill="#ffc60c"/>
<circle cx="218.9" cy="273.0" r="0.91" fill="#ffc60c"/>
<circle cx="213.9" cy="282.0" r="0.83" fill="#ffc60c"/>
<circle cx="212.6" cy="277.9" r="0.87" fill="#ffc60c"/>
<circle cx="212.5" cy="268.5" r="0.94" fill="#ffc60c"/>
<circle cx="236.1" cy="280.7" r="0.84" fill="#ffc60c"/>
<circle cx="215.0" cy="279.1" r="0.86" fill="#ffc60c"/>
<circle cx="215.4" cy="278.0" r="0.87" fill="#ffc60c"/>
<circle cx="241.2" cy="280.7" r="0.84" fill="#ffc60c"/>
<circle cx="236.6" cy="275.1" r="0.89" fill="#ffc60c"/>
<circle cx="216.3" cy="282.0" r="0.83" fill="#ffc60c"/>
<circle cx="215.3" cy="282.8" r="0.83" fill="#ffc60c"/>
<circle cx="215.2" cy="280.4" r="0.85" fill="#ffc60c"/>
<circle cx="224.4" cy="281.2" r="0.84" fill="#ffc60c"/>
<circle cx="233.2" cy="279.0" r="0.86" fill="#ffc60c"/>
<circle cx="225.3" cy="279.8" r="0.85" fill="#ffc60c"/>
<circle cx="235.2" cy="280.1" r="0.85" fill="#ffc60c"/>
<circle cx="230.0" cy="270.5" r="0.93" fill="#ffc60c"/>
<circle cx="234.0" cy="280.9" r="0.84" fill="#ffc60c"/>
<circle cx="234.1" cy="273.3" r="0.90" fill="#ffc60c"/>
<circle cx="217.1" cy="274.3" r="0.90" fill="#ffc60c"/>
<circle cx="222.3" cy="280.4" r="0.85" fill="#ffc60c"/>
<circle cx="212.1" cy="282.6" r="0.83" fill="#ffc60c"/>
<circle cx="237.6" cy="276.2" r="0.88" fill="#ffc60c"/>
<circle cx="233.0" cy="278.5" r="0.86" fill="#ffc60c"/>
<circle cx="217.2" cy="279.6" r="0.85" fill="#ffc60c"/>
<circle cx="220.0" cy="278.3" r="0.86" fill="#ffc60c"/>
<circle cx="212.6" cy="282.3" r="0.83" fill="#ffc60c"/>
<circle cx="236.9" cy="281.8" r="0.84" fill="#ffc60c"/>
<circle cx="213.0" cy="280.0" r="0.85" fill="#ffc60c"/>
<circle cx="263.7" cy="281.3" r="0.84" fill="#ff3ca2"/>
<circle cx="249.6" cy="279.1" r="0.86" fill="#ff3ca2"/>
<circle cx="255.1" cy="280.9" r="0.84" fill="#ff3ca2"/>
<circle cx="262.0" cy="282.3" r="0.83" fill="#ff3ca2"/>
<circle cx="251.1" cy="279.6" r="0.85" fill="#ff3ca2"/>
<circle cx="261.5" cy="281.7" r="0.84" fill="#ff3ca2"/>
<circle cx="265.7" cy="281.9" r="0.84" fill="#ff3ca2"/>
<circle cx="264.2" cy="280.0" r="0.85" fill="#ff3ca2"/>
<circle cx="265.9" cy="280.8" r="0.84" fill="#ff3ca2"/>
<circle cx="253.2" cy="274.9" r="0.89" fill="#ff3ca2"/>
<circle cx="262.4" cy="280.0" r="0.85" fill="#ff3ca2"/>
<circle cx="264.5" cy="279.7" r="0.85" fill="#ff3ca2"/>
<circle cx="249.2" cy="275.0" r="0.89" fill="#ff3ca2"/>
<circle cx="266.6" cy="276.9" r="0.87" fill="#ff3ca2"/>
<circle cx="259.6" cy="282.0" r="0.83" fill="#ff3ca2"/>
<circle cx="262.8" cy="282.4" r="0.83" fill="#ff3ca2"/>
<circle cx="246.9" cy="271.8" r="0.92" fill="#ff3ca2"/>
<circle cx="248.7" cy="279.6" r="0.85" fill="#ff3ca2"/>
<circle cx="265.4" cy="281.8" r="0.84" fill="#ff3ca2"/>
<circle cx="262.6" cy="282.0" r="0.83" fill="#ff3ca2"/>
<circle cx="264.4" cy="282.6" r="0.83" fill="#ff3ca2"/>
<circle cx="262.5" cy="281.4" r="0.84" fill="#ff3ca2"/>
<circle cx="262.0" cy="278.5" r="0.86" fill="#ff3ca2"/>
<circle cx="251.3" cy="281.3" r="0.84" fill="#ff3ca2"/>
<circle cx="262.7" cy="281.7" r="0.84" fill="#ff3ca2"/>
<circle cx="250.4" cy="281.2" r="0.84" fill="#ff3ca2"/>
<circle cx="256.3" cy="277.7" r="0.87" fill="#ff3ca2"/>
<circle cx="263.6" cy="282.5" r="0.83" fill="#ff3ca2"/>
<circle cx="251.4" cy="275.8" r="0.88" fill="#ff3ca2"/>
<circle cx="261.2" cy="277.4" r="0.87" fill="#ff3ca2"/>
<circle cx="265.3" cy="277.5" r="0.87" fill="#ff3ca2"/>
<circle cx="251.5" cy="281.1" r="0.84" fill="#ff3ca2"/>
<circle cx="251.1" cy="270.6" r="0.93" fill="#ff3ca2"/>
<circle cx="256.0" cy="280.6" r="0.85" fill="#ff3ca2"/>
<circle cx="250.5" cy="278.9" r="0.86" fill="#ff3ca2"/>
<circle cx="249.4" cy="279.7" r="0.85" fill="#ff3ca2"/>
<circle cx="249.0" cy="278.8" r="0.86" fill="#ff3ca2"/>
<circle cx="265.5" cy="279.1" r="0.86" fill="#ff3ca2"/>
<circle cx="254.5" cy="279.6" r="0.85" fill="#ff3ca2"/>
<circle cx="258.5" cy="280.9" r="0.84" fill="#ff3ca2"/>
<circle cx="250.3" cy="279.4" r="0.86" fill="#ff3ca2"/>
<circle cx="252.0" cy="276.0" r="0.88" fill="#ff3ca2"/>
<circle cx="255.6" cy="280.2" r="0.85" fill="#ff3ca2"/>
<circle cx="254.8" cy="272.8" r="0.91" fill="#ff3ca2"/>
<circle cx="258.9" cy="282.4" r="0.83" fill="#ff3ca2"/>
<circle cx="263.5" cy="274.5" r="0.89" fill="#ff3ca2"/>
<circle cx="265.3" cy="274.3" r="0.90" fill="#ff3ca2"/>
<circle cx="259.4" cy="273.5" r="0.90" fill="#ff3ca2"/>
<circle cx="263.4" cy="282.7" r="0.83" fill="#ff3ca2"/>
<circle cx="255.5" cy="281.1" r="0.84" fill="#ff3ca2"/>
<circle cx="263.5" cy="280.8" r="0.84" fill="#ff3ca2"/>
<circle cx="254.4" cy="277.2" r="0.87" fill="#ff3ca2"/>
<circle cx="265.8" cy="282.0" r="0.83" fill="#ff3ca2"/>
<circle cx="250.9" cy="280.0" r="0.85" fill="#ff3ca2"/>
<circle cx="249.2" cy="270.0" r="0.93" fill="#ff3ca2"/>
<circle cx="260.6" cy="281.8" r="0.84" fill="#ff3ca2"/>
<circle cx="261.9" cy="282.0" r="0.83" fill="#ff3ca2"/>
<circle cx="265.5" cy="275.0" r="0.89" fill="#ff3ca2"/>
<circle cx="265.2" cy="267.4" r="0.95" fill="#ff3ca2"/>
<circle cx="246.0" cy="277.0" r="0.87" fill="#ff3ca2"/>
<circle cx="266.2" cy="281.0" r="0.84" fill="#ff3ca2"/>
<circle cx="263.5" cy="274.4" r="0.90" fill="#ff3ca2"/>
<circle cx="254.0" cy="278.0" r="0.87" fill="#ff3ca2"/>
<circle cx="253.0" cy="280.8" r="0.84" fill="#ff3ca2"/>
<circle cx="263.2" cy="277.3" r="0.87" fill="#ff3ca2"/>
<circle cx="265.5" cy="268.6" r="0.94" fill="#ff3ca2"/>
<circle cx="253.4" cy="278.5" r="0.86" fill="#ff3ca2"/>
<circle cx="265.2" cy="280.4" r="0.85" fill="#ff3ca2"/>
<circle cx="256.1" cy="280.4" r="0.85" fill="#ff3ca2"/>
<circle cx="258.0" cy="279.2" r="0.86" fill="#ff3ca2"/>
<circle cx="257.2" cy="282.6" r="0.83" fill="#ff3ca2"/>
<circle cx="248.4" cy="276.1" r="0.88" fill="#ff3ca2"/>
<circle cx="250.5" cy="277.9" r="0.87" fill="#ff3ca2"/>
<circle cx="250.9" cy="281.3" r="0.84" fill="#ff3ca2"/>
<circle cx="251.4" cy="282.2" r="0.83" fill="#ff3ca2"/>
<circle cx="261.6" cy="280.2" r="0.85" fill="#ff3ca2"/>
<circle cx="264.2" cy="277.5" r="0.87" fill="#ff3ca2"/>
<circle cx="266.0" cy="282.2" r="0.83" fill="#ff3ca2"/>
<circle cx="255.2" cy="277.8" r="0.87" fill="#ff3ca2"/>
<circle cx="266.5" cy="278.0" r="0.87" fill="#ff3ca2"/>
<circle cx="260.0" cy="282.4" r="0.83" fill="#ff3ca2"/>
<circle cx="265.9" cy="270.7" r="0.92" fill="#ff3ca2"/>
<circle cx="262.0" cy="270.1" r="0.93" fill="#ff3ca2"/>
<circle cx="264.7" cy="267.6" r="0.95" fill="#ff3ca2"/>
<circle cx="263.4" cy="280.0" r="0.85" fill="#ff3ca2"/>
<circle cx="264.5" cy="278.9" r="0.86" fill="#ff3ca2"/>
<circle cx="262.0" cy="273.5" r="0.90" fill="#ff3ca2"/>
<circle cx="264.7" cy="275.7" r="0.88" fill="#ff3ca2"/>
<circle cx="253.5" cy="279.3" r="0.86" fill="#ff3ca2"/>
<circle cx="262.2" cy="282.2" r="0.83" fill="#ff3ca2"/>
<circle cx="249.0" cy="271.7" r="0.92" fill="#ff3ca2"/>
<circle cx="251.6" cy="273.1" r="0.91" fill="#ff3ca2"/>
<circle cx="264.9" cy="270.0" r="0.93" fill="#ff3ca2"/>
<circle cx="260.7" cy="279.9" r="0.85" fill="#ff3ca2"/>
<circle cx="274.4" cy="279.8" r="0.85" fill="#000000"/>
<circle cx="285.3" cy="281.1" r="0.84" fill="#000000"/>
<circle cx="271.6" cy="278.9" r="0.86" fill="#000000"/>
<circle cx="284.6" cy="276.8" r="0.88" fill="#000000"/>
<circle cx="281.7" cy="280.0" r="0.85" fill="#000000"/>
<circle cx="267.7" cy="281.1" r="0.84" fill="#000000"/>
<circle cx="273.1" cy="277.0" r="0.87" fill="#000000"/>
<circle cx="268.3" cy="274.6" r="0.89" fill="#000000"/>
<circle cx="285.0" cy="282.0" r="0.83" fill="#000000"/>
<circle cx="280.7" cy="276.7" r="0.88" fill="#000000"/>
<circle cx="277.7" cy="280.6" r="0.85" fill="#000000"/>
<circle cx="270.7" cy="280.1" r="0.85" fill="#000000"/>
<circle cx="283.9" cy="276.7" r="0.88" fill="#000000"/>
<circle cx="283.0" cy="281.2" r="0.84" fill="#000000"/>
<circle cx="285.3" cy="268.8" r="0.94" fill="#000000"/>
<circle cx="267.7" cy="272.0" r="0.91" fill="#000000"/>
<circle cx="271.7" cy="280.9" r="0.84" fill="#000000"/>
<circle cx="280.8" cy="281.0" r="0.84" fill="#000000"/>
<circle cx="281.2" cy="280.0" r="0.85" fill="#000000"/>
<circle cx="289.3" cy="271.9" r="0.91" fill="#000000"/>
<circle cx="270.6" cy="281.7" r="0.84" fill="#000000"/>
<circle cx="282.9" cy="275.0" r="0.89" fill="#000000"/>
<circle cx="283.8" cy="279.6" r="0.85" fill="#000000"/>
<circle cx="282.3" cy="281.4" r="0.84" fill="#000000"/>
<circle cx="289.5" cy="281.9" r="0.84" fill="#000000"/>
<circle cx="290.4" cy="280.5" r="0.85" fill="#000000"/>
<circle cx="284.9" cy="281.1" r="0.84" fill="#000000"/>
<circle cx="287.3" cy="282.3" r="0.83" fill="#000000"/>
<circle cx="271.9" cy="279.1" r="0.86" fill="#000000"/>
<circle cx="284.9" cy="281.9" r="0.84" fill="#000000"/>
<circle cx="283.8" cy="278.4" r="0.86" fill="#000000"/>
<circle cx="290.4" cy="281.2" r="0.84" fill="#000000"/>
<circle cx="283.0" cy="281.0" r="0.84" fill="#000000"/>
<circle cx="290.6" cy="282.3" r="0.83" fill="#000000"/>
<circle cx="269.0" cy="280.2" r="0.85" fill="#000000"/>
<circle cx="272.6" cy="282.1" r="0.83" fill="#000000"/>
<circle cx="282.6" cy="280.5" r="0.85" fill="#000000"/>
<circle cx="267.7" cy="282.2" r="0.83" fill="#000000"/>
<circle cx="281.8" cy="277.2" r="0.87" fill="#000000"/>
<circle cx="284.6" cy="278.5" r="0.86" fill="#000000"/>
<circle cx="285.1" cy="280.5" r="0.85" fill="#000000"/>
<circle cx="274.0" cy="280.0" r="0.85" fill="#000000"/>
<circle cx="283.8" cy="282.4" r="0.83" fill="#000000"/>
<circle cx="283.9" cy="282.0" r="0.83" fill="#000000"/>
<circle cx="270.8" cy="280.4" r="0.85" fill="#000000"/>
<circle cx="281.8" cy="274.7" r="0.89" fill="#000000"/>
<circle cx="289.3" cy="274.8" r="0.89" fill="#000000"/>
<circle cx="283.2" cy="282.0" r="0.83" fill="#000000"/>
<circle cx="308.3" cy="279.5" r="0.85" fill="#048c18"/>
<circle cx="305.1" cy="279.8" r="0.85" fill="#048c18"/>
<circle cx="306.7" cy="271.1" r="0.92" fill="#048c18"/>
<circle cx="314.9" cy="271.4" r="0.92" fill="#048c18"/>
<circle cx="313.6" cy="282.6" r="0.83" fill="#048c18"/>
<circle cx="310.5" cy="280.3" r="0.85" fill="#048c18"/>
<circle cx="313.1" cy="281.4" r="0.84" fill="#048c18"/>
<circle cx="314.9" cy="280.1" r="0.85" fill="#048c18"/>
<circle cx="312.4" cy="267.9" r="0.95" fill="#048c18"/>
<circle cx="311.7" cy="276.8" r="0.88" fill="#048c18"/>
<circle cx="295.4" cy="278.3" r="0.86" fill="#048c18"/>
<circle cx="314.9" cy="282.0" r="0.83" fill="#048c18"/>
<circle cx="308.5" cy="282.2" r="0.83" fill="#048c18"/>
<circle cx="309.3" cy="277.9" r="0.87" fill="#048c18"/>
<circle cx="307.9" cy="280.0" r="0.85" fill="#048c18"/>
<circle cx="311.9" cy="276.4" r="0.88" fill="#048c18"/>
<circle cx="310.0" cy="274.9" r="0.89" fill="#048c18"/>
<circle cx="293.3" cy="277.2" r="0.87" fill="#048c18"/>
<circle cx="297.6" cy="277.1" r="0.87" fill="#048c18"/>
<circle cx="296.9" cy="282.0" r="0.83" fill="#048c18"/>
<circle cx="314.2" cy="282.8" r="0.83" fill="#048c18"/>
<circle cx="312.0" cy="281.2" r="0.84" fill="#048c18"/>
<circle cx="295.7" cy="278.7" r="0.86" fill="#048c18"/>
<circle cx="313.0" cy="272.8" r="0.91" fill="#048c18"/>
<circle cx="308.3" cy="281.8" r="0.84" fill="#048c18"/>
<circle cx="295.6" cy="282.0" r="0.83" fill="#048c18"/>
<circle cx="309.2" cy="275.0" r="0.89" fill="#048c18"/>
<circle cx="296.4" cy="278.9" r="0.86" fill="#048c18"/>
<circle cx="312.4" cy="280.4" r="0.85" fill="#048c18"/>
<circle cx="316.1" cy="279.3" r="0.86" fill="#048c18"/>
<circle cx="297.0" cy="269.6" r="0.93" fill="#048c18"/>
<circle cx="308.8" cy="280.2" r="0.85" fill="#048c18"/>
<circle cx="313.1" cy="278.3" r="0.86" fill="#048c18"/>
<circle cx="310.6" cy="282.0" r="0.83" fill="#048c18"/>
<circle cx="315.6" cy="275.5" r="0.89" fill="#048c18"/>
<circle cx="294.0" cy="274.4" r="0.89" fill="#048c18"/>
<circle cx="308.1" cy="273.9" r="0.90" fill="#048c18"/>
<circle cx="316.2" cy="280.5" r="0.85" fill="#048c18"/>
<circle cx="308.0" cy="276.3" r="0.88" fill="#048c18"/>
<circle cx="315.4" cy="279.2" r="0.86" fill="#048c18"/>
<circle cx="315.5" cy="272.2" r="0.91" fill="#048c18"/>
<circle cx="312.7" cy="279.6" r="0.85" fill="#048c18"/>
<circle cx="292.6" cy="281.9" r="0.84" fill="#048c18"/>
<circle cx="316.2" cy="272.4" r="0.91" fill="#048c18"/>
<circle cx="315.0" cy="276.8" r="0.88" fill="#048c18"/>
<circle cx="307.8" cy="277.5" r="0.87" fill="#048c18"/>
<circle cx="306.1" cy="282.5" r="0.83" fill="#048c18"/>
<circle cx="315.9" cy="279.3" r="0.86" fill="#048c18"/>
<circle cx="292.6" cy="282.1" r="0.83" fill="#048c18"/>
<circle cx="314.5" cy="268.9" r="0.94" fill="#048c18"/>
<circle cx="303.6" cy="275.2" r="0.89" fill="#048c18"/>
<circle cx="315.0" cy="282.6" r="0.83" fill="#048c18"/>
<circle cx="312.7" cy="278.9" r="0.86" fill="#048c18"/>
<circle cx="311.0" cy="277.5" r="0.87" fill="#048c18"/>
<circle cx="315.4" cy="277.1" r="0.87" fill="#048c18"/>
<circle cx="311.1" cy="280.9" r="0.84" fill="#048c18"/>
<circle cx="302.5" cy="275.5" r="0.89" fill="#048c18"/>
<circle cx="311.7" cy="276.4" r="0.88" fill="#048c18"/>
<circle cx="316.2" cy="278.5" r="0.86" fill="#048c18"/>
<circle cx="303.6" cy="270.6" r="0.93" fill="#048c18"/>
<circle cx="314.0" cy="282.7" r="0.83" fill="#048c18"/>
<circle cx="298.9" cy="282.6" r="0.83" fill="#048c18"/>
<circle cx="320.2" cy="280.0" r="0.85" fill="#ff3030"/>
<circle cx="318.4" cy="281.5" r="0.84" fill="#ff3030"/>
<circle cx="328.3" cy="273.1" r="0.91" fill="#ff3030"/>
<circle cx="337.4" cy="277.9" r="0.87" fill="#ff3030"/>
<circle cx="319.2" cy="272.3" r="0.91" fill="#ff3030"/>
<circle cx="320.1" cy="274.4" r="0.89" fill="#ff3030"/>
<circle cx="332.0" cy="267.9" r="0.95" fill="#ff3030"/>
<circle cx="338.7" cy="278.3" r="0.86" fill="#ff3030"/>
<circle cx="319.1" cy="282.3" r="0.83" fill="#ff3030"/>
<circle cx="318.7" cy="274.5" r="0.89" fill="#ff3030"/>
<circle cx="336.6" cy="281.2" r="0.84" fill="#ff3030"/>
<circle cx="331.3" cy="279.4" r="0.86" fill="#ff3030"/>
<circle cx="332.6" cy="276.1" r="0.88" fill="#ff3030"/>
<circle cx="329.9" cy="279.7" r="0.85" fill="#ff3030"/>
<circle cx="318.6" cy="278.9" r="0.86" fill="#ff3030"/>
<circle cx="332.0" cy="277.8" r="0.87" fill="#ff3030"/>
<circle cx="328.3" cy="276.6" r="0.88" fill="#ff3030"/>
<circle cx="318.9" cy="268.1" r="0.95" fill="#ff3030"/>
<circle cx="328.4" cy="280.9" r="0.84" fill="#ff3030"/>
<circle cx="320.7" cy="281.7" r="0.84" fill="#ff3030"/>
<circle cx="317.7" cy="272.5" r="0.91" fill="#ff3030"/>
<circle cx="317.8" cy="279.6" r="0.85" fill="#ff3030"/>
<circle cx="333.1" cy="271.8" r="0.92" fill="#ff3030"/>
<circle cx="337.6" cy="281.2" r="0.84" fill="#ff3030"/>
<circle cx="322.1" cy="278.7" r="0.86" fill="#ff3030"/>
<circle cx="321.7" cy="280.3" r="0.85" fill="#ff3030"/>
<circle cx="320.8" cy="274.6" r="0.89" fill="#ff3030"/>
<circle cx="318.2" cy="275.5" r="0.89" fill="#ff3030"/>
<circle cx="321.3" cy="271.9" r="0.92" fill="#ff3030"/>
<circle cx="330.3" cy="278.0" r="0.87" fill="#ff3030"/>
<circle cx="337.4" cy="279.5" r="0.85" fill="#ff3030"/>
<circle cx="321.9" cy="276.7" r="0.88" fill="#ff3030"/>
<circle cx="317.9" cy="272.7" r="0.91" fill="#ff3030"/>
<circle cx="323.9" cy="268.3" r="0.94" fill="#ff3030"/>
<circle cx="338.8" cy="278.6" r="0.86" fill="#ff3030"/>
<circle cx="332.0" cy="277.3" r="0.87" fill="#ff3030"/>
<circle cx="334.7" cy="274.6" r="0.89" fill="#ff3030"/>
<circle cx="328.3" cy="275.3" r="0.89" fill="#ff3030"/>
<circle cx="336.2" cy="275.0" r="0.89" fill="#ff3030"/>
<circle cx="318.6" cy="281.1" r="0.84" fill="#ff3030"/>
<circle cx="323.4" cy="281.3" r="0.84" fill="#ff3030"/>
<circle cx="331.6" cy="281.3" r="0.84" fill="#ff3030"/>
<circle cx="319.3" cy="272.0" r="0.91" fill="#ff3030"/>
<circle cx="338.9" cy="279.6" r="0.85" fill="#ff3030"/>
<circle cx="333.5" cy="276.7" r="0.88" fill="#ff3030"/>
<circle cx="318.0" cy="280.6" r="0.85" fill="#ff3030"/>
<circle cx="318.0" cy="279.8" r="0.85" fill="#ff3030"/>
<circle cx="331.1" cy="282.5" r="0.83" fill="#ff3030"/>
<circle cx="327.3" cy="271.0" r="0.92" fill="#ff3030"/>
<circle cx="323.1" cy="279.3" r="0.86" fill="#ff3030"/>
<circle cx="335.7" cy="273.5" r="0.90" fill="#ff3030"/>
<circle cx="322.7" cy="280.7" r="0.84" fill="#ff3030"/>
<circle cx="324.8" cy="282.2" r="0.83" fill="#ff3030"/>
<circle cx="322.6" cy="274.1" r="0.90" fill="#ff3030"/>
<circle cx="329.3" cy="277.0" r="0.87" fill="#ff3030"/>
<circle cx="323.2" cy="282.4" r="0.83" fill="#ff3030"/>
<circle cx="318.2" cy="282.7" r="0.83" fill="#ff3030"/>
<circle cx="321.9" cy="276.2" r="0.88" fill="#ff3030"/>
<circle cx="321.6" cy="272.4" r="0.91" fill="#ff3030"/>
<circle cx="330.0" cy="275.5" r="0.89" fill="#ff3030"/>
<circle cx="323.1" cy="278.8" r="0.86" fill="#ff3030"/>
<circle cx="322.4" cy="279.9" r="0.85" fill="#ff3030"/>
<circle cx="326.5" cy="280.1" r="0.85" fill="#ff3030"/>
<circle cx="333.1" cy="277.9" r="0.87" fill="#ff3030"/>
<circle cx="318.2" cy="281.2" r="0.84" fill="#ff3030"/>
<circle cx="328.4" cy="274.8" r="0.89" fill="#ff3030"/>
<circle cx="332.3" cy="282.6" r="0.83" fill="#ff3030"/>
<circle cx="324.5" cy="274.9" r="0.89" fill="#ff3030"/>
<circle cx="333.6" cy="268.0" r="0.95" fill="#ff3030"/>
<circle cx="333.1" cy="279.4" r="0.86" fill="#ff3030"/>
<circle cx="321.0" cy="270.0" r="0.93" fill="#ff3030"/>
<circle cx="332.0" cy="270.6" r="0.93" fill="#ff3030"/>
<circle cx="321.3" cy="281.1" r="0.84" fill="#ff3030"/>
<circle cx="319.8" cy="278.5" r="0.86" fill="#ff3030"/>
<circle cx="336.3" cy="279.3" r="0.86" fill="#ff3030"/>
<circle cx="318.1" cy="276.0" r="0.88" fill="#ff3030"/>
<circle cx="320.5" cy="278.6" r="0.86" fill="#ff3030"/>
<circle cx="331.6" cy="276.9" r="0.88" fill="#ff3030"/>
<circle cx="322.3" cy="271.5" r="0.92" fill="#ff3030"/>
<circle cx="323.7" cy="280.3" r="0.85" fill="#ff3030"/>
<circle cx="331.5" cy="269.1" r="0.94" fill="#ff3030"/>
<circle cx="329.3" cy="280.1" r="0.85" fill="#ff3030"/>
<circle cx="320.3" cy="275.1" r="0.89" fill="#ff3030"/>
<circle cx="320.9" cy="282.8" r="0.83" fill="#ff3030"/>
<circle cx="332.8" cy="281.0" r="0.84" fill="#ff3030"/>
<circle cx="319.2" cy="279.0" r="0.86" fill="#ff3030"/>
<circle cx="329.8" cy="275.5" r="0.89" fill="#ff3030"/>
<circle cx="336.7" cy="280.4" r="0.85" fill="#ff3030"/>
<circle cx="322.5" cy="270.1" r="0.93" fill="#ff3030"/>
<circle cx="319.2" cy="273.6" r="0.90" fill="#ff3030"/>
<circle cx="328.1" cy="268.8" r="0.94" fill="#ff3030"/>
<circle cx="319.8" cy="278.4" r="0.86" fill="#ff3030"/>
<circle cx="338.5" cy="275.8" r="0.88" fill="#ff3030"/>
<circle cx="318.6" cy="270.1" r="0.93" fill="#ff3030"/>
<circle cx="318.8" cy="274.5" r="0.89" fill="#ff3030"/>
<circle cx="322.8" cy="271.0" r="0.92" fill="#ff3030"/>
<circle cx="330.0" cy="281.1" r="0.84" fill="#ff3030"/>
<circle cx="331.0" cy="280.3" r="0.85" fill="#ff3030"/>
<circle cx="322.4" cy="280.4" r="0.85" fill="#ff3030"/>
<circle cx="333.7" cy="282.0" r="0.83" fill="#ff3030"/>
<circle cx="321.6" cy="267.9" r="0.95" fill="#ff3030"/>
<circle cx="335.3" cy="276.3" r="0.88" fill="#ff3030"/>
<circle cx="322.5" cy="282.7" r="0.83" fill="#ff3030"/>
<circle cx="326.5" cy="282.7" r="0.83" fill="#ff3030"/>
<circle cx="336.1" cy="272.1" r="0.91" fill="#ff3030"/>
<circle cx="321.1" cy="280.2" r="0.85" fill="#ff3030"/>
<circle cx="324.4" cy="278.5" r="0.86" fill="#ff3030"/>
<circle cx="339.1" cy="280.4" r="0.85" fill="#ff3030"/>
<circle cx="331.8" cy="279.5" r="0.85" fill="#ff3030"/>
<circle cx="320.9" cy="274.5" r="0.89" fill="#ff3030"/>
<circle cx="318.6" cy="281.1" r="0.84" fill="#ff3030"/>
<circle cx="320.9" cy="282.6" r="0.83" fill="#ff3030"/>
<circle cx="331.4" cy="281.8" r="0.84" fill="#ff3030"/>
<circle cx="321.7" cy="274.2" r="0.90" fill="#ff3030"/>
<circle cx="336.8" cy="280.3" r="0.85" fill="#ff3030"/>
<circle cx="332.3" cy="269.6" r="0.93" fill="#ff3030"/>
<circle cx="334.9" cy="280.4" r="0.85" fill="#ff3030"/>
<circle cx="337.8" cy="271.4" r="0.92" fill="#ff3030"/>
<circle cx="317.8" cy="282.8" r="0.83" fill="#ff3030"/>
<circle cx="329.6" cy="280.8" r="0.84" fill="#ff3030"/>
<circle cx="320.2" cy="281.8" r="0.84" fill="#ff3030"/>
<circle cx="337.8" cy="282.4" r="0.83" fill="#ff3030"/>
<circle cx="327.9" cy="275.3" r="0.89" fill="#ff3030"/>
<circle cx="334.8" cy="280.3" r="0.85" fill="#ff3030"/>
<circle cx="338.4" cy="273.0" r="0.91" fill="#ff3030"/>
<circle cx="338.9" cy="282.4" r="0.83" fill="#ff3030"/>
<circle cx="320.7" cy="276.6" r="0.88" fill="#ff3030"/>
<circle cx="330.1" cy="282.4" r="0.83" fill="#ff3030"/>
<circle cx="323.7" cy="279.5" r="0.85" fill="#ff3030"/>
<circle cx="319.2" cy="280.4" r="0.85" fill="#ff3030"/>
<circle cx="339.2" cy="278.8" r="0.86" fill="#ff3030"/>
<circle cx="331.3" cy="275.3" r="0.89" fill="#ff3030"/>
<circle cx="324.1" cy="282.2" r="0.83" fill="#ff3030"/>
<circle cx="330.4" cy="272.9" r="0.91" fill="#ff3030"/>
<circle cx="320.8" cy="277.4" r="0.87" fill="#ff3030"/>
<circle cx="335.0" cy="279.1" r="0.86" fill="#ff3030"/>
<circle cx="321.8" cy="275.3" r="0.89" fill="#ff3030"/>
<circle cx="335.5" cy="277.8" r="0.87" fill="#ff3030"/>
<circle cx="330.4" cy="281.9" r="0.84" fill="#ff3030"/>
<circle cx="319.3" cy="280.8" r="0.84" fill="#ff3030"/>
<circle cx="331.0" cy="271.3" r="0.92" fill="#ff3030"/>
<circle cx="338.3" cy="268.4" r="0.94" fill="#ff3030"/>
<circle cx="322.7" cy="281.4" r="0.84" fill="#ff3030"/>
<circle cx="328.8" cy="278.8" r="0.86" fill="#ff3030"/>
<circle cx="318.9" cy="275.1" r="0.89" fill="#ff3030"/>
<circle cx="317.7" cy="277.5" r="0.87" fill="#ff3030"/>
<circle cx="320.0" cy="277.3" r="0.87" fill="#ff3030"/>
<circle cx="338.3" cy="278.2" r="0.87" fill="#ff3030"/>
<circle cx="333.3" cy="268.5" r="0.94" fill="#ff3030"/>
<circle cx="339.0" cy="268.5" r="0.94" fill="#ff3030"/>
<circle cx="318.9" cy="281.6" r="0.84" fill="#ff3030"/>
<circle cx="328.3" cy="282.0" r="0.83" fill="#ff3030"/>
<circle cx="336.1" cy="276.1" r="0.88" fill="#ff3030"/>
<circle cx="319.2" cy="274.6" r="0.89" fill="#ff3030"/>
<circle cx="323.7" cy="270.4" r="0.93" fill="#ff3030"/>
<circle cx="319.2" cy="280.2" r="0.85" fill="#ff3030"/>
<circle cx="355.2" cy="276.6" r="0.88" fill="#1e6ef0"/>
<circle cx="361.0" cy="279.7" r="0.85" fill="#1e6ef0"/>
<circle cx="343.1" cy="282.7" r="0.83" fill="#1e6ef0"/>
<circle cx="359.5" cy="281.1" r="0.84" fill="#1e6ef0"/>
<circle cx="360.0" cy="282.3" r="0.83" fill="#1e6ef0"/>
<circle cx="350.3" cy="276.9" r="0.88" fill="#1e6ef0"/>
<circle cx="349.3" cy="279.4" r="0.86" fill="#1e6ef0"/>
<circle cx="342.5" cy="280.9" r="0.84" fill="#1e6ef0"/>
<circle cx="360.9" cy="281.6" r="0.84" fill="#1e6ef0"/>
<circle cx="359.8" cy="280.0" r="0.85" fill="#1e6ef0"/>
<circle cx="344.4" cy="276.7" r="0.88" fill="#1e6ef0"/>
<circle cx="360.0" cy="282.4" r="0.83" fill="#1e6ef0"/>
<circle cx="344.3" cy="282.2" r="0.83" fill="#1e6ef0"/>
<circle cx="353.4" cy="280.4" r="0.85" fill="#1e6ef0"/>
<circle cx="360.8" cy="279.5" r="0.85" fill="#1e6ef0"/>
<circle cx="344.5" cy="278.8" r="0.86" fill="#1e6ef0"/>
<circle cx="359.8" cy="280.7" r="0.84" fill="#1e6ef0"/>
<circle cx="343.3" cy="279.9" r="0.85" fill="#1e6ef0"/>
<circle cx="342.4" cy="271.5" r="0.92" fill="#1e6ef0"/>
<circle cx="347.9" cy="273.8" r="0.90" fill="#1e6ef0"/>
<circle cx="344.2" cy="282.7" r="0.83" fill="#1e6ef0"/>
<circle cx="348.4" cy="281.3" r="0.84" fill="#1e6ef0"/>
<circle cx="348.0" cy="280.7" r="0.85" fill="#1e6ef0"/>
<circle cx="348.7" cy="280.2" r="0.85" fill="#1e6ef0"/>
<circle cx="347.3" cy="282.2" r="0.83" fill="#1e6ef0"/>
<circle cx="350.4" cy="279.7" r="0.85" fill="#1e6ef0"/>
<circle cx="347.3" cy="281.4" r="0.84" fill="#1e6ef0"/>
<circle cx="340.8" cy="278.0" r="0.87" fill="#1e6ef0"/>
<circle cx="348.7" cy="274.7" r="0.89" fill="#1e6ef0"/>
<circle cx="350.4" cy="275.5" r="0.89" fill="#1e6ef0"/>
<circle cx="348.0" cy="273.8" r="0.90" fill="#1e6ef0"/>
<circle cx="360.3" cy="280.5" r="0.85" fill="#1e6ef0"/>
<circle cx="349.5" cy="282.4" r="0.83" fill="#1e6ef0"/>
<circle cx="344.3" cy="279.3" r="0.86" fill="#1e6ef0"/>
<circle cx="360.4" cy="275.9" r="0.88" fill="#1e6ef0"/>
<circle cx="359.5" cy="279.4" r="0.85" fill="#1e6ef0"/>
<circle cx="359.8" cy="280.3" r="0.85" fill="#1e6ef0"/>
<circle cx="340.8" cy="277.7" r="0.87" fill="#1e6ef0"/>
<circle cx="352.2" cy="282.1" r="0.83" fill="#1e6ef0"/>
<circle cx="352.3" cy="282.0" r="0.83" fill="#1e6ef0"/>
<circle cx="356.8" cy="281.3" r="0.84" fill="#1e6ef0"/>
<circle cx="359.2" cy="278.6" r="0.86" fill="#1e6ef0"/>
<circle cx="340.4" cy="281.9" r="0.84" fill="#1e6ef0"/>
<circle cx="359.2" cy="280.8" r="0.84" fill="#1e6ef0"/>
<circle cx="343.6" cy="274.3" r="0.90" fill="#1e6ef0"/>
<circle cx="351.9" cy="276.0" r="0.88" fill="#1e6ef0"/>
<circle cx="354.5" cy="282.6" r="0.83" fill="#1e6ef0"/>
<circle cx="344.5" cy="276.6" r="0.88" fill="#1e6ef0"/>
<circle cx="349.6" cy="277.8" r="0.87" fill="#1e6ef0"/>
<circle cx="359.6" cy="278.5" r="0.86" fill="#1e6ef0"/>
<circle cx="349.1" cy="282.4" r="0.83" fill="#1e6ef0"/>
<circle cx="340.2" cy="280.3" r="0.85" fill="#1e6ef0"/>
<circle cx="349.3" cy="273.9" r="0.90" fill="#1e6ef0"/>
<circle cx="359.9" cy="282.6" r="0.83" fill="#1e6ef0"/>
<circle cx="358.4" cy="282.5" r="0.83" fill="#1e6ef0"/>
<circle cx="349.7" cy="278.1" r="0.87" fill="#1e6ef0"/>
<circle cx="342.2" cy="282.3" r="0.83" fill="#1e6ef0"/>
<circle cx="343.9" cy="276.3" r="0.88" fill="#1e6ef0"/>
<circle cx="350.6" cy="279.7" r="0.85" fill="#1e6ef0"/>
<circle cx="343.1" cy="274.0" r="0.90" fill="#1e6ef0"/>
<circle cx="184.7" cy="279.2" r="0.86" fill="#ff4800"/>
<circle cx="185.4" cy="282.3" r="0.83" fill="#ff4800"/>
<circle cx="329.1" cy="271.2" r="0.92" fill="#ff3030"/>
<circle cx="329.0" cy="274.1" r="0.90" fill="#ff3030"/>
<circle cx="328.9" cy="276.5" r="0.88" fill="#ff3030"/>
<circle cx="329.3" cy="278.5" r="0.86" fill="#ff3030"/>
<circle cx="329.5" cy="281.9" r="0.84" fill="#ff3030"/>
<circle cx="335.2" cy="270.7" r="0.92" fill="#ff3030"/>
<circle cx="334.4" cy="276.4" r="0.88" fill="#ff3030"/>
<circle cx="334.5" cy="276.5" r="0.88" fill="#ff3030"/>
<circle cx="334.9" cy="278.4" r="0.86" fill="#ff3030"/>
<circle cx="334.9" cy="278.5" r="0.86" fill="#ff3030"/>
<circle cx="334.7" cy="280.7" r="0.85" fill="#ff3030"/>
<circle cx="334.3" cy="282.7" r="0.83" fill="#ff3030"/>
<circle cx="121.7" cy="269.5" r="0.93" fill="#ff3030"/>
<circle cx="122.1" cy="272.3" r="0.91" fill="#ff3030"/>
<circle cx="122.2" cy="272.7" r="0.91" fill="#ff3030"/>
<circle cx="120.9" cy="275.8" r="0.88" fill="#ff3030"/>
<circle cx="170.3" cy="272.0" r="0.91" fill="#1e6ef0"/>
<circle cx="170.6" cy="273.6" r="0.90" fill="#1e6ef0"/>
<circle cx="170.2" cy="276.4" r="0.88" fill="#1e6ef0"/>
<circle cx="149.2" cy="277.9" r="0.87" fill="#1e6ef0"/>
<circle cx="269.3" cy="276.6" r="0.88" fill="#000000"/>
<circle cx="269.7" cy="278.4" r="0.86" fill="#000000"/>
<circle cx="269.5" cy="278.6" r="0.86" fill="#000000"/>
<circle cx="269.9" cy="278.6" r="0.86" fill="#000000"/>
<circle cx="269.7" cy="281.2" r="0.84" fill="#000000"/>
<circle cx="143.8" cy="270.0" r="0.93" fill="#ff3030"/>
<circle cx="143.9" cy="273.2" r="0.90" fill="#ff3030"/>
<circle cx="144.3" cy="274.0" r="0.90" fill="#ff3030"/>
<circle cx="144.6" cy="277.3" r="0.87" fill="#ff3030"/>
<circle cx="144.5" cy="279.7" r="0.85" fill="#ff3030"/>
<circle cx="143.9" cy="280.5" r="0.85" fill="#ff3030"/>
<circle cx="144.0" cy="282.4" r="0.83" fill="#ff3030"/>
<circle cx="149.9" cy="274.8" r="0.89" fill="#1e6ef0"/>
<circle cx="150.0" cy="277.0" r="0.87" fill="#1e6ef0"/>
<circle cx="335.9" cy="278.6" r="0.86" fill="#ff3030"/>
<circle cx="78.8" cy="279.5" r="0.85" fill="#048c18"/>
<circle cx="78.5" cy="282.8" r="0.83" fill="#048c18"/>
<circle cx="73.5" cy="272.4" r="0.91" fill="#048c18"/>
<circle cx="73.9" cy="278.5" r="0.86" fill="#048c18"/>
<circle cx="74.1" cy="278.7" r="0.86" fill="#048c18"/>
<circle cx="74.1" cy="279.3" r="0.86" fill="#048c18"/>
<circle cx="74.0" cy="279.6" r="0.85" fill="#048c18"/>
<circle cx="277.2" cy="268.9" r="0.94" fill="#000000"/>
<circle cx="276.9" cy="272.7" r="0.91" fill="#000000"/>
<circle cx="277.4" cy="275.5" r="0.89" fill="#000000"/>
<circle cx="277.9" cy="276.6" r="0.88" fill="#000000"/>
<circle cx="277.4" cy="277.6" r="0.87" fill="#000000"/>
<circle cx="277.7" cy="277.7" r="0.87" fill="#000000"/>
<circle cx="277.4" cy="279.8" r="0.85" fill="#000000"/>
<circle cx="277.3" cy="282.1" r="0.83" fill="#000000"/>
<circle cx="349.7" cy="274.6" r="0.89" fill="#1e6ef0"/>
<circle cx="348.9" cy="280.1" r="0.85" fill="#1e6ef0"/>
<circle cx="82.2" cy="279.0" r="0.86" fill="#048c18"/>
<circle cx="140.0" cy="273.8" r="0.90" fill="#ff3030"/>
<circle cx="139.7" cy="281.2" r="0.84" fill="#ff3030"/>
<circle cx="304.4" cy="271.4" r="0.92" fill="#048c18"/>
<circle cx="304.4" cy="274.4" r="0.90" fill="#048c18"/>
<circle cx="304.3" cy="275.1" r="0.89" fill="#048c18"/>
<circle cx="304.1" cy="277.0" r="0.87" fill="#048c18"/>
<circle cx="303.8" cy="277.2" r="0.87" fill="#048c18"/>
<circle cx="304.2" cy="279.0" r="0.86" fill="#048c18"/>
<circle cx="304.0" cy="280.1" r="0.85" fill="#048c18"/>
<circle cx="304.6" cy="282.0" r="0.83" fill="#048c18"/>
<circle cx="129.6" cy="276.6" r="0.88" fill="#ff3030"/>
<circle cx="130.0" cy="280.7" r="0.84" fill="#ff3030"/>
<circle cx="129.5" cy="281.3" r="0.84" fill="#ff3030"/>
<circle cx="103.0" cy="271.7" r="0.92" fill="#048c18"/>
<circle cx="103.0" cy="273.4" r="0.90" fill="#048c18"/>
<circle cx="103.1" cy="273.9" r="0.90" fill="#048c18"/>
<circle cx="103.3" cy="277.6" r="0.87" fill="#048c18"/>
<circle cx="103.0" cy="281.2" r="0.84" fill="#048c18"/>
<circle cx="307.3" cy="276.3" r="0.88" fill="#048c18"/>
<circle cx="132.0" cy="276.7" r="0.88" fill="#ff3030"/>
<circle cx="76.8" cy="278.2" r="0.87" fill="#048c18"/>
<circle cx="77.0" cy="279.6" r="0.85" fill="#048c18"/>
<circle cx="77.7" cy="280.1" r="0.85" fill="#048c18"/>
<circle cx="77.6" cy="280.9" r="0.84" fill="#048c18"/>
<circle cx="77.6" cy="282.3" r="0.83" fill="#048c18"/>
<circle cx="160.5" cy="274.9" r="0.89" fill="#1e6ef0"/>
<circle cx="160.7" cy="278.1" r="0.87" fill="#1e6ef0"/>
<circle cx="159.6" cy="279.7" r="0.85" fill="#1e6ef0"/>
<circle cx="160.2" cy="280.3" r="0.85" fill="#1e6ef0"/>
<circle cx="287.0" cy="275.3" r="0.89" fill="#000000"/>
<circle cx="286.9" cy="278.2" r="0.87" fill="#000000"/>
<circle cx="286.1" cy="278.3" r="0.86" fill="#000000"/>
<circle cx="212.2" cy="268.7" r="0.94" fill="#ffc60c"/>
<circle cx="78.2" cy="273.5" r="0.90" fill="#048c18"/>
<circle cx="77.7" cy="280.6" r="0.85" fill="#048c18"/>
<circle cx="78.4" cy="280.7" r="0.85" fill="#048c18"/>
<circle cx="344.2" cy="269.8" r="0.93" fill="#1e6ef0"/>
<circle cx="343.8" cy="273.4" r="0.90" fill="#1e6ef0"/>
<circle cx="265.9" cy="278.3" r="0.86" fill="#ff3ca2"/>
<circle cx="266.1" cy="280.9" r="0.84" fill="#ff3ca2"/>
<circle cx="265.9" cy="281.0" r="0.84" fill="#ff3ca2"/>
<circle cx="265.8" cy="281.7" r="0.84" fill="#ff3ca2"/>
<circle cx="266.0" cy="282.3" r="0.83" fill="#ff3ca2"/>
<circle cx="311.1" cy="271.0" r="0.92" fill="#048c18"/>
<circle cx="311.4" cy="274.5" r="0.89" fill="#048c18"/>
<circle cx="312.4" cy="277.0" r="0.87" fill="#048c18"/>
<circle cx="310.8" cy="278.4" r="0.86" fill="#048c18"/>
<circle cx="311.5" cy="279.7" r="0.85" fill="#048c18"/>
<circle cx="310.7" cy="281.8" r="0.84" fill="#048c18"/>
<circle cx="311.0" cy="282.2" r="0.83" fill="#048c18"/>
<circle cx="200.6" cy="270.2" r="0.93" fill="#ff4800"/>
<circle cx="200.1" cy="275.1" r="0.89" fill="#ff4800"/>
<circle cx="200.8" cy="279.4" r="0.86" fill="#ff4800"/>
<circle cx="200.6" cy="280.6" r="0.85" fill="#ff4800"/>
<circle cx="200.0" cy="281.0" r="0.84" fill="#ff4800"/>
<circle cx="206.9" cy="278.0" r="0.87" fill="#ff4800"/>
<circle cx="290.9" cy="273.0" r="0.91" fill="#000000"/>
<circle cx="289.9" cy="279.7" r="0.85" fill="#000000"/>
<circle cx="204.5" cy="279.3" r="0.86" fill="#ff4800"/>
<circle cx="204.2" cy="282.2" r="0.83" fill="#ff4800"/>
<circle cx="173.0" cy="277.0" r="0.87" fill="#1e6ef0"/>
<circle cx="172.8" cy="281.2" r="0.84" fill="#1e6ef0"/>
<circle cx="172.6" cy="281.2" r="0.84" fill="#1e6ef0"/>
<circle cx="250.9" cy="269.8" r="0.93" fill="#ff3ca2"/>
<circle cx="251.5" cy="272.4" r="0.91" fill="#ff3ca2"/>
<circle cx="251.6" cy="273.4" r="0.90" fill="#ff3ca2"/>
<circle cx="251.2" cy="279.8" r="0.85" fill="#ff3ca2"/>
<circle cx="271.4" cy="278.2" r="0.86" fill="#000000"/>
<circle cx="197.6" cy="270.1" r="0.93" fill="#ff4800"/>
<circle cx="197.1" cy="272.2" r="0.91" fill="#ff4800"/>
<circle cx="197.4" cy="275.8" r="0.88" fill="#ff4800"/>
<circle cx="197.7" cy="279.9" r="0.85" fill="#ff4800"/>
<circle cx="122.7" cy="278.6" r="0.86" fill="#ff3030"/>
<circle cx="316.7" cy="278.4" r="0.86" fill="#ff3030"/>
<circle cx="316.4" cy="282.6" r="0.83" fill="#ff3030"/>
<circle cx="320.3" cy="268.4" r="0.94" fill="#ff3030"/>
<circle cx="319.9" cy="275.0" r="0.89" fill="#ff3030"/>
<circle cx="69.3" cy="273.2" r="0.90" fill="#048c18"/>
<circle cx="69.8" cy="280.0" r="0.85" fill="#048c18"/>
<circle cx="68.8" cy="281.5" r="0.84" fill="#048c18"/>
<circle cx="68.4" cy="281.6" r="0.84" fill="#048c18"/>
<circle cx="80.1" cy="275.6" r="0.89" fill="#048c18"/>
<circle cx="140.3" cy="279.5" r="0.85" fill="#ff3030"/>
<circle cx="140.6" cy="282.8" r="0.83" fill="#ff3030"/>
<circle cx="320.4" cy="192.2" r="1.55" fill="#ff3030"/>
<circle cx="320.4" cy="209.6" r="1.41" fill="#ff3030"/>
<circle cx="320.4" cy="219.7" r="1.33" fill="#ff3030"/>
<circle cx="320.4" cy="222.0" r="1.31" fill="#ff3030"/>
<circle cx="320.0" cy="237.0" r="1.19" fill="#ff3030"/>
<circle cx="320.0" cy="240.9" r="1.16" fill="#ff3030"/>
<circle cx="320.8" cy="247.0" r="1.11" fill="#ff3030"/>
<circle cx="320.8" cy="251.0" r="1.08" fill="#ff3030"/>
<circle cx="320.2" cy="249.1" r="1.10" fill="#ff3030"/>
<circle cx="320.2" cy="254.0" r="1.06" fill="#ff3030"/>
<circle cx="320.2" cy="256.7" r="1.04" fill="#ff3030"/>
<circle cx="320.2" cy="259.2" r="1.02" fill="#ff3030"/>
<circle cx="320.4" cy="261.6" r="1.00" fill="#ff3030"/>
<circle cx="320.4" cy="264.1" r="0.98" fill="#ff3030"/>
<circle cx="320.3" cy="266.5" r="0.96" fill="#ff3030"/>
<circle cx="320.4" cy="268.1" r="0.95" fill="#ff3030"/>
<circle cx="320.1" cy="269.8" r="0.93" fill="#ff3030"/>
<circle cx="320.0" cy="271.4" r="0.92" fill="#ff3030"/>
<circle cx="320.1" cy="273.0" r="0.91" fill="#ff3030"/>
<circle cx="320.2" cy="274.7" r="0.89" fill="#ff3030"/>
<circle cx="319.4" cy="258.4" r="1.02" fill="#ff3030"/>
<circle cx="319.3" cy="262.4" r="0.99" fill="#ff3030"/>
<circle cx="319.3" cy="266.5" r="0.96" fill="#ff3030"/>
<circle cx="319.4" cy="270.6" r="0.93" fill="#ff3030"/>
<circle cx="321.4" cy="260.8" r="1.00" fill="#ff3030"/>
<circle cx="321.4" cy="264.9" r="0.97" fill="#ff3030"/>
<circle cx="321.7" cy="269.0" r="0.94" fill="#ff3030"/>
<circle cx="321.7" cy="272.2" r="0.91" fill="#ff3030"/>
<circle cx="338.6" cy="237.3" r="1.19" fill="#ff3030"/>
<circle cx="338.6" cy="258.0" r="1.03" fill="#ff3030"/>
<circle cx="338.6" cy="259.7" r="1.01" fill="#ff3030"/>
<circle cx="338.7" cy="261.0" r="1.00" fill="#ff3030"/>
<circle cx="338.5" cy="264.9" r="0.97" fill="#ff3030"/>
<circle cx="338.7" cy="268.1" r="0.95" fill="#ff3030"/>
<circle cx="338.8" cy="271.4" r="0.92" fill="#ff3030"/>
<circle cx="332.9" cy="265.1" r="0.97" fill="#ff3030"/>
<circle cx="332.9" cy="269.8" r="0.93" fill="#ff3030"/>
<circle cx="330.0" cy="269.0" r="0.94" fill="#ff3030"/>
<circle cx="332.2" cy="270.1" r="0.93" fill="#ff3030"/>
<circle cx="337.2" cy="269.8" r="0.93" fill="#ff3030"/>
<circle cx="337.2" cy="273.9" r="0.90" fill="#ff3030"/>
<circle cx="330.9" cy="276.3" r="0.88" fill="#ff3030"/>
<circle cx="73.7" cy="235.5" r="1.21" fill="#048c18"/>
<circle cx="69.5" cy="248.6" r="1.10" fill="#048c18"/>
<circle cx="69.5" cy="264.2" r="0.98" fill="#048c18"/>
<circle cx="69.4" cy="266.2" r="0.96" fill="#048c18"/>
<circle cx="81.6" cy="245.8" r="1.12" fill="#048c18"/>
<circle cx="82.9" cy="244.7" r="1.13" fill="#048c18"/>
<circle cx="82.7" cy="260.5" r="1.01" fill="#048c18"/>
<circle cx="83.0" cy="263.3" r="0.98" fill="#048c18"/>
<circle cx="83.0" cy="265.7" r="0.96" fill="#048c18"/>
<circle cx="83.0" cy="268.1" r="0.95" fill="#048c18"/>
<circle cx="82.7" cy="270.6" r="0.93" fill="#048c18"/>
<circle cx="82.8" cy="273.0" r="0.91" fill="#048c18"/>
<circle cx="83.1" cy="275.5" r="0.89" fill="#048c18"/>
<circle cx="82.9" cy="277.9" r="0.87" fill="#048c18"/>
<circle cx="91.1" cy="246.5" r="1.12" fill="#048c18"/>
<circle cx="91.1" cy="253.8" r="1.06" fill="#048c18"/>
<circle cx="91.3" cy="268.1" r="0.95" fill="#048c18"/>
<circle cx="81.0" cy="257.6" r="1.03" fill="#048c18"/>
<circle cx="85.4" cy="256.7" r="1.04" fill="#048c18"/>
<circle cx="85.4" cy="258.5" r="1.02" fill="#048c18"/>
<circle cx="108.3" cy="258.5" r="1.02" fill="#048c18"/>
<circle cx="98.9" cy="263.9" r="0.98" fill="#048c18"/>
<circle cx="99.2" cy="266.2" r="0.96" fill="#048c18"/>
<circle cx="99.3" cy="269.0" r="0.94" fill="#048c18"/>
<circle cx="98.9" cy="270.9" r="0.92" fill="#048c18"/>
<circle cx="72.6" cy="269.6" r="0.93" fill="#048c18"/>
<circle cx="74.3" cy="269.0" r="0.94" fill="#048c18"/>
<circle cx="106.6" cy="269.0" r="0.94" fill="#048c18"/>
<circle cx="109.2" cy="269.6" r="0.93" fill="#048c18"/>
<circle cx="101.2" cy="273.0" r="0.91" fill="#048c18"/>
<circle cx="103.3" cy="274.7" r="0.89" fill="#048c18"/>
<circle cx="105.0" cy="272.2" r="0.91" fill="#048c18"/>
<circle cx="98.1" cy="276.3" r="0.88" fill="#048c18"/>
<circle cx="116.7" cy="239.1" r="1.18" fill="#ff3030"/>
<circle cx="116.7" cy="241.7" r="1.16" fill="#ff3030"/>
<circle cx="137.3" cy="252.8" r="1.07" fill="#ff3030"/>
<circle cx="137.4" cy="268.1" r="0.95" fill="#ff3030"/>
<circle cx="142.1" cy="250.9" r="1.08" fill="#ff3030"/>
<circle cx="142.1" cy="266.5" r="0.96" fill="#ff3030"/>
<circle cx="112.0" cy="260.8" r="1.00" fill="#ff3030"/>
<circle cx="111.7" cy="264.2" r="0.98" fill="#ff3030"/>
<circle cx="117.2" cy="269.0" r="0.94" fill="#ff3030"/>
<circle cx="115.6" cy="272.9" r="0.91" fill="#ff3030"/>
<circle cx="140.0" cy="267.5" r="0.95" fill="#ff3030"/>
<circle cx="141.4" cy="270.9" r="0.92" fill="#ff3030"/>
<circle cx="141.7" cy="273.0" r="0.91" fill="#ff3030"/>
<circle cx="141.3" cy="275.5" r="0.89" fill="#ff3030"/>
<circle cx="141.5" cy="277.9" r="0.87" fill="#ff3030"/>
<circle cx="145.9" cy="262.8" r="0.99" fill="#1e6ef0"/>
<circle cx="164.7" cy="255.8" r="1.04" fill="#1e6ef0"/>
<circle cx="164.8" cy="263.3" r="0.98" fill="#1e6ef0"/>
<circle cx="171.8" cy="257.6" r="1.03" fill="#1e6ef0"/>
<circle cx="175.3" cy="257.2" r="1.03" fill="#1e6ef0"/>
<circle cx="168.5" cy="261.5" r="1.00" fill="#1e6ef0"/>
<circle cx="165.9" cy="263.9" r="0.98" fill="#1e6ef0"/>
<circle cx="166.9" cy="266.2" r="0.96" fill="#1e6ef0"/>
<circle cx="172.5" cy="269.0" r="0.94" fill="#1e6ef0"/>
<circle cx="176.4" cy="269.9" r="0.93" fill="#1e6ef0"/>
<circle cx="168.8" cy="271.4" r="0.92" fill="#1e6ef0"/>
<circle cx="173.9" cy="273.0" r="0.91" fill="#1e6ef0"/>
<circle cx="188.6" cy="245.2" r="1.13" fill="#ff4800"/>
<circle cx="188.6" cy="251.4" r="1.08" fill="#ff4800"/>
<circle cx="188.6" cy="256.3" r="1.04" fill="#ff4800"/>
<circle cx="188.6" cy="258.2" r="1.02" fill="#ff4800"/>
<circle cx="188.8" cy="268.6" r="0.94" fill="#ff4800"/>
<circle cx="188.7" cy="279.2" r="0.86" fill="#ff4800"/>
<circle cx="202.4" cy="251.4" r="1.08" fill="#ff4800"/>
<circle cx="202.3" cy="266.2" r="0.96" fill="#ff4800"/>
<circle cx="204.2" cy="268.1" r="0.95" fill="#ff4800"/>
<circle cx="177.9" cy="267.5" r="0.95" fill="#ff4800"/>
<circle cx="181.1" cy="269.9" r="0.93" fill="#ff4800"/>
<circle cx="195.2" cy="267.7" r="0.95" fill="#ff4800"/>
<circle cx="209.8" cy="274.8" r="0.89" fill="#ff4800"/>
<circle cx="205.9" cy="271.4" r="0.92" fill="#ff4800"/>
<circle cx="199.0" cy="273.0" r="0.91" fill="#ff4800"/>
<circle cx="212.5" cy="247.1" r="1.11" fill="#ffc60c"/>
<circle cx="212.5" cy="259.5" r="1.01" fill="#ffc60c"/>
<circle cx="219.2" cy="252.5" r="1.07" fill="#ffc60c"/>
<circle cx="224.5" cy="256.7" r="1.04" fill="#ffc60c"/>
<circle cx="222.0" cy="257.2" r="1.03" fill="#ffc60c"/>
<circle cx="213.5" cy="257.6" r="1.03" fill="#ffc60c"/>
<circle cx="215.6" cy="263.3" r="0.98" fill="#ffc60c"/>
<circle cx="213.8" cy="264.7" r="0.97" fill="#ffc60c"/>
<circle cx="241.1" cy="261.5" r="1.00" fill="#ffc60c"/>
<circle cx="242.4" cy="263.9" r="0.98" fill="#ffc60c"/>
<circle cx="232.3" cy="268.1" r="0.95" fill="#ffc60c"/>
<circle cx="235.4" cy="269.0" r="0.94" fill="#ffc60c"/>
<circle cx="216.4" cy="269.8" r="0.93" fill="#ffc60c"/>
<circle cx="217.8" cy="271.4" r="0.92" fill="#ffc60c"/>
<circle cx="239.2" cy="271.4" r="0.92" fill="#ffc60c"/>
<circle cx="237.1" cy="272.2" r="0.91" fill="#ffc60c"/>
<circle cx="262.1" cy="252.5" r="1.07" fill="#ff3ca2"/>
<circle cx="248.2" cy="267.2" r="0.95" fill="#ff3ca2"/>
<circle cx="250.6" cy="269.0" r="0.94" fill="#ff3ca2"/>
<circle cx="256.2" cy="270.9" r="0.92" fill="#ff3ca2"/>
<circle cx="264.6" cy="269.0" r="0.94" fill="#ff3ca2"/>
<circle cx="265.8" cy="264.1" r="0.98" fill="#ff3ca2"/>
<circle cx="265.8" cy="268.1" r="0.95" fill="#ff3ca2"/>
<circle cx="276.6" cy="255.6" r="1.05" fill="#000000"/>
<circle cx="289.6" cy="253.6" r="1.06" fill="#000000"/>
<circle cx="270.0" cy="258.0" r="1.03" fill="#000000"/>
<circle cx="270.2" cy="261.0" r="1.00" fill="#000000"/>
<circle cx="268.0" cy="260.0" r="1.01" fill="#000000"/>
<circle cx="268.0" cy="263.6" r="0.98" fill="#000000"/>
<circle cx="275.0" cy="266.0" r="0.96" fill="#000000"/>
<circle cx="275.0" cy="269.8" r="0.93" fill="#000000"/>
<circle cx="277.1" cy="268.1" r="0.95" fill="#000000"/>
<circle cx="290.1" cy="265.1" r="0.97" fill="#000000"/>
<circle cx="290.2" cy="269.9" r="0.93" fill="#000000"/>
<circle cx="288.8" cy="267.0" r="0.95" fill="#000000"/>
<circle cx="285.0" cy="269.0" r="0.94" fill="#000000"/>
<circle cx="288.2" cy="270.9" r="0.92" fill="#000000"/>
<circle cx="291.1" cy="273.0" r="0.91" fill="#000000"/>
<circle cx="271.8" cy="271.4" r="0.92" fill="#000000"/>
<circle cx="280.0" cy="273.0" r="0.91" fill="#000000"/>
<circle cx="283.1" cy="271.4" r="0.92" fill="#000000"/>
<circle cx="315.0" cy="255.1" r="1.05" fill="#048c18"/>
<circle cx="314.9" cy="264.1" r="0.98" fill="#048c18"/>
<circle cx="315.2" cy="266.5" r="0.96" fill="#048c18"/>
<circle cx="314.9" cy="269.0" r="0.94" fill="#048c18"/>
<circle cx="314.8" cy="271.4" r="0.92" fill="#048c18"/>
<circle cx="315.2" cy="273.9" r="0.90" fill="#048c18"/>
<circle cx="315.0" cy="276.3" r="0.88" fill="#048c18"/>
<circle cx="314.1" cy="264.1" r="0.98" fill="#048c18"/>
<circle cx="313.9" cy="268.1" r="0.95" fill="#048c18"/>
<circle cx="313.9" cy="273.0" r="0.91" fill="#048c18"/>
<circle cx="294.0" cy="265.5" r="0.97" fill="#048c18"/>
<circle cx="301.4" cy="268.1" r="0.95" fill="#048c18"/>
<circle cx="301.6" cy="270.9" r="0.92" fill="#048c18"/>
<circle cx="301.5" cy="274.0" r="0.90" fill="#048c18"/>
<circle cx="301.6" cy="277.0" r="0.87" fill="#048c18"/>
<circle cx="308.0" cy="274.7" r="0.89" fill="#048c18"/>
<circle cx="361.0" cy="261.6" r="1.00" fill="#1e6ef0"/>
<circle cx="355.4" cy="267.7" r="0.95" fill="#1e6ef0"/>
<circle cx="354.0" cy="273.0" r="0.91" fill="#1e6ef0"/>
<circle cx="355.8" cy="275.0" r="0.89" fill="#1e6ef0"/>
<circle cx="350.8" cy="272.2" r="0.91" fill="#1e6ef0"/>
<circle cx="360.0" cy="273.0" r="0.91" fill="#1e6ef0"/>
<circle cx="349.1" cy="274.7" r="0.89" fill="#1e6ef0"/>
<circle cx="359.2" cy="276.3" r="0.88" fill="#1e6ef0"/>
<circle cx="341.0" cy="270.9" r="0.92" fill="#1e6ef0"/>
<circle cx="342.1" cy="275.0" r="0.89" fill="#1e6ef0"/>
<rect x="56.4" y="173.6" width="316.6" height="140.4" fill="none" stroke="#000" stroke-width="1.3"/>
<path d="M52.6 292.6H56.4M52.6 276.3H56.4M52.6 260.0H56.4M52.6 243.7H56.4M52.6 227.4H56.4M52.6 211.1H56.4M52.6 194.8H56.4M52.6 178.5H56.4M89.6 314.0v3.4M127.4 314.0v3.4M163.4 314.0v3.4M197.4 314.0v3.4M227.5 314.0v3.4M258.6 314.0v3.4M282.8 314.0v3.4M307.4 314.0v3.4M330.5 314.0v3.4M352.7 314.0v3.4" stroke="#000" stroke-width="1" fill="none"/>
<text transform="translate(47.4 292.6) rotate(-90)" text-anchor="middle" style="font-family:'DejaVu Sans','Liberation Sans',sans-serif;font-size:8.8px;fill:#111;stroke:#111;stroke-width:.2px">1</text>
<text transform="translate(47.4 276.3) rotate(-90)" text-anchor="middle" style="font-family:'DejaVu Sans','Liberation Sans',sans-serif;font-size:8.8px;fill:#111;stroke:#111;stroke-width:.2px">2</text>
<text transform="translate(47.4 260.0) rotate(-90)" text-anchor="middle" style="font-family:'DejaVu Sans','Liberation Sans',sans-serif;font-size:8.8px;fill:#111;stroke:#111;stroke-width:.2px">3</text>
<text transform="translate(47.4 243.7) rotate(-90)" text-anchor="middle" style="font-family:'DejaVu Sans','Liberation Sans',sans-serif;font-size:8.8px;fill:#111;stroke:#111;stroke-width:.2px">4</text>
<text transform="translate(47.4 227.4) rotate(-90)" text-anchor="middle" style="font-family:'DejaVu Sans','Liberation Sans',sans-serif;font-size:8.8px;fill:#111;stroke:#111;stroke-width:.2px">5</text>
<text transform="translate(47.4 211.1) rotate(-90)" text-anchor="middle" style="font-family:'DejaVu Sans','Liberation Sans',sans-serif;font-size:8.8px;fill:#111;stroke:#111;stroke-width:.2px">6</text>
<text transform="translate(47.4 194.8) rotate(-90)" text-anchor="middle" style="font-family:'DejaVu Sans','Liberation Sans',sans-serif;font-size:8.8px;fill:#111;stroke:#111;stroke-width:.2px">7</text>
<text transform="translate(47.4 178.5) rotate(-90)" text-anchor="middle" style="font-family:'DejaVu Sans','Liberation Sans',sans-serif;font-size:8.8px;fill:#111;stroke:#111;stroke-width:.2px">8</text>
<text x="89.6" y="326.6" text-anchor="middle" style="font-family:'DejaVu Sans','Liberation Sans',sans-serif;font-size:8.8px;fill:#111;stroke:#111;stroke-width:.2px">1</text>
<text x="127.4" y="326.6" text-anchor="middle" style="font-family:'DejaVu Sans','Liberation Sans',sans-serif;font-size:8.8px;fill:#111;stroke:#111;stroke-width:.2px">2</text>
<text x="163.4" y="326.6" text-anchor="middle" style="font-family:'DejaVu Sans','Liberation Sans',sans-serif;font-size:8.8px;fill:#111;stroke:#111;stroke-width:.2px">3</text>
<text x="197.4" y="326.6" text-anchor="middle" style="font-family:'DejaVu Sans','Liberation Sans',sans-serif;font-size:8.8px;fill:#111;stroke:#111;stroke-width:.2px">4</text>
<text x="227.5" y="326.6" text-anchor="middle" style="font-family:'DejaVu Sans','Liberation Sans',sans-serif;font-size:8.8px;fill:#111;stroke:#111;stroke-width:.2px">5</text>
<text x="258.6" y="326.6" text-anchor="middle" style="font-family:'DejaVu Sans','Liberation Sans',sans-serif;font-size:8.8px;fill:#111;stroke:#111;stroke-width:.2px">6</text>
<text x="282.8" y="326.6" text-anchor="middle" style="font-family:'DejaVu Sans','Liberation Sans',sans-serif;font-size:8.8px;fill:#111;stroke:#111;stroke-width:.2px">7</text>
<text x="307.4" y="326.6" text-anchor="middle" style="font-family:'DejaVu Sans','Liberation Sans',sans-serif;font-size:8.8px;fill:#111;stroke:#111;stroke-width:.2px">8</text>
<text x="330.5" y="326.6" text-anchor="middle" style="font-family:'DejaVu Sans','Liberation Sans',sans-serif;font-size:8.8px;fill:#111;stroke:#111;stroke-width:.2px">9</text>
<text x="352.7" y="326.6" text-anchor="middle" style="font-family:'DejaVu Sans','Liberation Sans',sans-serif;font-size:8.8px;fill:#111;stroke:#111;stroke-width:.2px">10</text>
<text transform="translate(36.7 238.7) rotate(-90)" text-anchor="middle" style="font-family:'DejaVu Sans','Liberation Sans',sans-serif;font-size:9.6px;fill:#111;stroke:#111;stroke-width:.2px">FPC</text>
<polygon points="537.6,205.9 528.2,221.1 522.7,227.6 518.8,231.7 515.8,234.6 513.4,236.8 511.3,238.6 509.5,240.1 507.9,241.4 506.5,242.5 505.2,243.5 504.0,244.4 502.9,245.3 501.9,246.0 501.0,246.7 500.1,247.4 498.5,248.5 497.8,249.1 496.5,250.0 495.2,250.9 494.1,251.7 493.1,252.4 491.6,253.4 490.8,254.0 489.6,254.8 488.4,255.6 487.1,256.5 485.9,257.3 484.7,258.0 483.7,258.7 482.5,259.5 481.4,260.2 480.2,261.0 479.1,261.7 478.1,262.4 476.8,263.2 475.6,263.9 474.6,264.6 473.4,265.3 472.3,266.0 471.1,266.8 470.0,267.5 468.8,268.2 467.7,268.9 466.5,269.6 465.4,270.3 464.2,271.0 463.1,271.7 462.0,272.4 460.8,273.1 459.7,273.8 458.5,274.6 457.3,275.3 456.2,275.9 455.1,276.6 453.9,277.3 452.8,278.0 451.6,278.7 450.5,279.4 449.3,280.1 448.2,280.8 447.0,281.5 445.9,282.2 444.8,282.8 443.6,283.5 442.5,284.2 441.3,284.9 440.2,285.6 439.0,286.3 437.9,286.9 436.7,287.6 435.6,288.3 434.4,289.0 433.3,289.7 432.1,290.3 431.0,291.0 429.9,291.7 428.7,292.4 427.6,293.1 426.4,293.7 425.3,294.4 424.1,295.1 423.0,295.8 421.8,296.4 420.7,297.1 419.5,297.8 418.4,298.5 417.2,299.1 416.1,299.8 415.0,300.5 413.8,301.2 412.7,301.8 411.5,302.5 410.4,303.2 409.2,303.9 408.1,304.5 406.9,305.2 405.8,305.9 404.6,306.6 403.5,307.2 402.3,307.9 401.2,308.6 401.2,308.6 402.3,308.0 403.5,307.3 404.6,306.6 405.8,306.0 406.9,305.3 408.1,304.7 409.2,304.0 410.4,303.3 411.5,302.7 412.7,302.0 413.8,301.4 415.0,300.7 416.1,300.0 417.2,299.4 418.4,298.7 419.5,298.1 420.7,297.4 421.8,296.8 423.0,296.1 424.1,295.4 425.3,294.8 426.4,294.1 427.6,293.5 428.7,292.8 429.9,292.1 431.0,291.5 432.1,290.8 433.3,290.2 434.4,289.5 435.6,288.9 436.7,288.2 437.9,287.6 439.0,286.9 440.2,286.3 441.3,285.6 442.5,285.0 443.6,284.3 444.8,283.7 445.9,283.0 447.0,282.4 448.2,281.7 449.3,281.1 450.5,280.4 451.6,279.8 452.8,279.1 453.9,278.5 455.1,277.8 456.2,277.2 457.3,276.6 458.5,275.9 459.7,275.3 460.8,274.6 462.0,274.0 463.1,273.4 464.2,272.7 465.4,272.1 466.5,271.5 467.7,270.9 468.8,270.2 470.0,269.6 471.1,269.0 472.3,268.4 473.4,267.7 474.6,267.1 475.6,266.5 476.8,265.9 478.1,265.2 479.1,264.7 480.2,264.1 481.4,263.4 482.5,262.9 483.7,262.2 484.7,261.7 485.9,261.1 487.1,260.5 488.4,259.8 489.6,259.2 490.8,258.6 491.6,258.1 493.1,257.4 494.1,256.9 495.2,256.3 496.5,255.7 497.8,255.0 498.5,254.7 500.1,253.9 501.0,253.5 501.9,253.0 502.9,252.6 504.0,252.0 505.2,251.5 506.5,250.9 507.9,250.2 509.5,249.5 511.3,248.7 513.4,247.7 515.8,246.6 518.8,245.3 522.7,243.7 528.2,241.5 537.6,237.9" fill="#bebebe"/>
<line x1="396.0" y1="311.6" x2="543.2" y2="226.0" stroke="#333" stroke-width="0.9"/>
<polyline points="401.2,308.6 401.8,308.2 402.5,307.8 403.1,307.5 403.8,307.1 404.4,306.7 405.1,306.3 405.7,306.0 406.4,305.6 407.0,305.2 407.7,304.8 408.3,304.5 409.0,304.1 409.6,303.7 410.3,303.3 410.9,303.0 411.5,302.6 412.2,302.2 412.8,301.8 413.5,301.4 414.1,301.1 414.8,300.7 415.4,300.3 416.1,299.9 416.7,299.6 417.4,299.2 418.0,298.8 418.7,298.4 419.3,298.1 420.0,297.7 420.6,297.3 421.2,296.9 421.9,296.6 422.5,296.2 423.2,295.8 423.8,295.4 424.5,295.1 425.1,294.7 425.8,294.3 426.4,293.9 427.1,293.5 427.7,293.2 428.4,292.8 429.0,292.4 429.7,292.0 430.3,291.7 430.9,291.3 431.6,290.9 432.2,290.5 432.9,290.2 433.5,289.8 434.2,289.4 434.8,289.0 435.5,288.6 436.1,288.2 436.8,287.9 437.4,287.5 438.1,287.1 438.7,286.7 439.3,286.3 440.0,285.9 440.6,285.5 441.3,285.2 441.9,284.8 442.6,284.4 443.2,284.0 443.9,283.6 444.5,283.2 445.2,282.9 445.8,282.5 446.5,282.1 447.1,281.7 447.8,281.3 448.4,280.9 449.0,280.4 449.7,280.0 450.3,279.5 451.0,279.1 451.6,278.7 452.3,278.2 452.9,277.8 453.6,277.2 454.2,276.7 454.9,276.2 455.5,275.7 456.2,275.2 456.8,274.7 457.5,274.2 458.1,273.7 458.7,273.2 459.4,272.7 460.0,272.2 460.7,271.7 461.3,271.2 462.0,270.7 462.6,270.2 463.3,269.7 463.9,269.2 464.6,268.7 465.2,268.2 465.9,267.7 466.5,267.2 467.2,266.7 467.8,266.2 468.4,265.7 469.1,265.2 469.7,264.7 470.4,264.2 471.0,263.7 471.7,263.2 472.3,262.7 473.0,262.2 473.6,261.7 474.3,261.2 474.9,260.7 475.6,260.2 476.2,259.7 476.9,259.2 477.5,258.8 478.1,258.3 478.8,257.8 479.4,257.3 480.1,256.8 480.7,256.3 481.4,255.8 482.0,255.3 482.7,254.8 483.3,254.3 484.0,253.8 484.6,253.3 485.3,252.8 485.9,252.3 486.6,251.8 487.2,251.2 487.8,250.7 488.5,250.2 489.1,249.7 489.8,249.2 490.4,248.7 491.1,248.2 491.7,247.6 492.4,247.1 493.0,246.6 493.7,246.1 494.3,245.6 495.0,245.1 495.6,244.6 496.3,244.0 496.9,243.5 497.5,243.0 498.2,242.5 498.8,242.0 499.5,241.5 500.1,241.0 500.8,240.4 501.4,239.9 502.1,239.4 502.7,238.9 503.4,238.4 504.0,237.8" fill="none" stroke="#ee0000" stroke-width="2.1" stroke-linecap="round" stroke-linejoin="round"/>
<circle cx="537.6" cy="178.6" r="1.05" fill="#ee0000"/>
<circle cx="528.2" cy="197.8" r="1.05" fill="#ee0000"/>
<circle cx="522.7" cy="208.7" r="1.05" fill="#ee0000"/>
<circle cx="518.8" cy="211.8" r="1.05" fill="#ee0000"/>
<circle cx="515.8" cy="226.8" r="1.05" fill="#ee0000"/>
<circle cx="513.4" cy="228.4" r="1.05" fill="#ee0000"/>
<circle cx="511.3" cy="229.0" r="1.05" fill="#ee0000"/>
<circle cx="509.5" cy="230.8" r="1.05" fill="#ee0000"/>
<circle cx="507.9" cy="232.6" r="1.05" fill="#ee0000"/>
<circle cx="506.5" cy="234.4" r="1.05" fill="#ee0000"/>
<circle cx="505.2" cy="235.3" r="1.05" fill="#ee0000"/>
<rect x="396.0" y="173.6" width="147.2" height="140.4" fill="none" stroke="#222" stroke-width="1.2"/>
<path d="M392.4 308.6H396.0M392.4 290.5H396.0M392.4 272.4H396.0M392.4 254.3H396.0M392.4 236.2H396.0M392.4 218.1H396.0M392.4 200.0H396.0M392.4 181.9H396.0M401.2 314.0v3.2M432.3 314.0v3.2M463.4 314.0v3.2M494.5 314.0v3.2M525.6 314.0v3.2" stroke="#222" stroke-width="1" fill="none"/>
<text transform="translate(387 308.6) rotate(-90)" text-anchor="middle" style="font-family:'DejaVu Sans','Liberation Sans',sans-serif;font-size:8.8px;fill:#111;stroke:#111;stroke-width:.2px">0</text>
<text transform="translate(387 290.5) rotate(-90)" text-anchor="middle" style="font-family:'DejaVu Sans','Liberation Sans',sans-serif;font-size:8.8px;fill:#111;stroke:#111;stroke-width:.2px">1</text>
<text transform="translate(387 272.4) rotate(-90)" text-anchor="middle" style="font-family:'DejaVu Sans','Liberation Sans',sans-serif;font-size:8.8px;fill:#111;stroke:#111;stroke-width:.2px">2</text>
<text transform="translate(387 254.3) rotate(-90)" text-anchor="middle" style="font-family:'DejaVu Sans','Liberation Sans',sans-serif;font-size:8.8px;fill:#111;stroke:#111;stroke-width:.2px">3</text>
<text transform="translate(387 236.2) rotate(-90)" text-anchor="middle" style="font-family:'DejaVu Sans','Liberation Sans',sans-serif;font-size:8.8px;fill:#111;stroke:#111;stroke-width:.2px">4</text>
<text transform="translate(387 218.1) rotate(-90)" text-anchor="middle" style="font-family:'DejaVu Sans','Liberation Sans',sans-serif;font-size:8.8px;fill:#111;stroke:#111;stroke-width:.2px">5</text>
<text transform="translate(387 200.0) rotate(-90)" text-anchor="middle" style="font-family:'DejaVu Sans','Liberation Sans',sans-serif;font-size:8.8px;fill:#111;stroke:#111;stroke-width:.2px">6</text>
<text transform="translate(387 181.9) rotate(-90)" text-anchor="middle" style="font-family:'DejaVu Sans','Liberation Sans',sans-serif;font-size:8.8px;fill:#111;stroke:#111;stroke-width:.2px">7</text>
<text x="401.2" y="326.6" text-anchor="middle" style="font-family:'DejaVu Sans','Liberation Sans',sans-serif;font-size:8.8px;fill:#111;stroke:#111;stroke-width:.2px">0</text>
<text x="432.3" y="326.6" text-anchor="middle" style="font-family:'DejaVu Sans','Liberation Sans',sans-serif;font-size:8.8px;fill:#111;stroke:#111;stroke-width:.2px">1</text>
<text x="463.4" y="326.6" text-anchor="middle" style="font-family:'DejaVu Sans','Liberation Sans',sans-serif;font-size:8.8px;fill:#111;stroke:#111;stroke-width:.2px">2</text>
<text x="494.5" y="326.6" text-anchor="middle" style="font-family:'DejaVu Sans','Liberation Sans',sans-serif;font-size:8.8px;fill:#111;stroke:#111;stroke-width:.2px">3</text>
<text x="525.6" y="326.6" text-anchor="middle" style="font-family:'DejaVu Sans','Liberation Sans',sans-serif;font-size:8.8px;fill:#111;stroke:#111;stroke-width:.2px">4</text>
<g transform="scale(.5)" stroke-width="3.1" stroke-linecap="round" fill="none">
<path d="M136 942v-21M136 916h0M136 908h0M137 942v-15M137 924v-1M138 942v-18M139 942v-18M139 920v-2M139 912h0M140 942v-17M140 920h0M141 942v-19M142 942v-11M142 928v-5M143 942v-16M143 922h0M143 916h0M144 942v-18M145 942v-12M145 927v-4M145 920v-1M146 942v-25M147 942v-15M147 923v-4M148 942v-20M148 919h0M149 942v-23M149 916h0M150 942v-18M150 921v-2M151 942v-16M151 915h0M152 942v-25M152 913h0M153 942v-24M154 942v-15M154 915h0M154 911h0M155 942v-10M155 929v-2M155 922h0M155 918h0M156 942v-11M156 928v-4M156 921v-1M156 917h0M157 942v-15M157 924h0M157 919h0M157 912h0M157 907h0M158 942v-13M158 926h0M158 923h0M158 917h0M159 942v-18M159 909h0M160 942v-15M160 924h0M160 921h0M161 942v-21M161 915h0M161 912h0M162 942v-11M162 928v-3M162 919v-2M163 942v-21M163 918h0M164 942v-5M164 934v-5M164 926v-1M164 921v-1M164 900h0M165 942v-12M165 927v-4M166 942v-15M166 922h0M167 942v-10M167 928v-3M168 942v-15M168 921h0M168 910h0M169 942v-13M169 926h0M169 923v-1M169 918h0M170 942v-7M170 932v-2M170 927h0M170 919h0M171 942v-11M171 927v-1M172 942v-5M172 933v-3M172 920h0M174 942h0M174 939v-3M174 932h0M174 928v-1M175 942v-8M175 931h0M175 927h0M175 921v-1M175 916h0M175 910h0M176 942v-7M176 931v-9M177 942v-14M177 924v-2M177 918v-3M177 908h0M178 942v-23M178 907h0M179 942v-17M179 918h0M179 910h0M180 942v-17M180 922v-3M180 916h0M180 912v-2M180 904h0M181 942v-16M181 923v-4M181 916v-2M181 905h0M181 900h0M182 942v-16M182 921v-4M182 912v-4M182 905h0M183 942v-20M183 915v-2M183 908h0M183 899h0M184 942v-10M184 928v-15M184 907h0M185 942v-24M185 915v-7M186 942v-26M186 912h0M186 906h0M186 903h0M187 942v-24M187 915h0M187 911h0M188 942v-23M188 915v-1M188 907v-1M188 903h0M189 942v-14M189 925h0M189 922v-2M189 917v-7M189 899h0M190 942v-15M190 924v-2M190 917h0M190 914h0M191 942v-21M191 918v-2M191 910v-1M191 905h0M192 942v-20M192 915h0M193 942v-13M193 926v-3M193 919h0M193 914h0M194 942v-18M194 921v-2M194 910h0M195 942v-16M195 923v-2M196 942v-12M196 927v-7M196 917v-1M196 912v-1M197 942v-19M197 920v-2M198 942v-17M198 922v-6M198 912v-1M199 942v-24M200 942v-20M200 913v-1M201 942v-14M201 925v-1M201 921v-1M201 917h0M201 913h0M201 907h0M202 942v-17M202 922v-3M202 900h0M203 942v-23M204 942v-26M204 908h0M205 942v-19M205 920v-4M205 910h0M206 942v-18M206 920v-3M206 914v-4M207 942v-14M207 924v-6M207 914h0M207 910h0M208 942v-21M209 942v-12M209 927v-7M210 942v-16M210 923v-2M210 911h0M211 942v-16M211 923h0M211 918h0M211 912v-1M212 942v-20M212 916h0M212 911h0M212 907h0M213 942v-16M213 923v-1M213 919v-1M213 915h0M214 942v-13M214 926v-1M214 922v-1M214 918h0M214 915v-2M215 942v-11M215 927v-2M215 921h0M215 915v-1M215 901h0M216 942v-23M216 916h0M217 942v-16M217 921h0M218 942v-12M218 927v-1M218 918h0M218 909h0M219 942v-19M219 911h0M220 903h0" stroke="#048c18"/>
<path d="M221 941v-7M222 942v-17M222 922v-5M222 912h0M223 942v-11M223 928v-9M223 901h0M224 942v-24M224 914v-2M225 942v-12M225 926v-2M225 917v-3M225 909v-2M225 904h0M226 942v-14M226 925v-1M226 921v-2M226 916h0M226 901h0M227 942v-17M227 922h0M227 917v-7M227 905v-2M228 942v-13M228 926v-8M228 915v-2M229 942v-22M229 917v-2M230 942v-13M230 926v-6M231 942v-22M232 942v-17M233 942v-13M233 926v-7M234 942v-20M234 917v-1M234 911h0M235 942v-13M235 925h0M235 922v-6M235 911h0M236 942v-19M236 906h0M237 942v-15M237 924v-3M237 918h0M238 942v-15M238 924v-7M239 942v-16M239 923h0M239 919h0M239 915v-2M240 942v-11M240 927v-2M240 919h0M241 942v-11M241 926h0M241 921h0M242 942v-16M242 919h0M242 912h0M243 942v-14M243 923h0M243 919v-3M243 910v-2M244 942v-11M244 925h0M244 920h0M244 900h0M245 942v-14M246 942v-1M246 938v-4M246 931v-3M246 925h0M246 921v-1M246 914h0M247 942v-5M247 933v-2M247 922v-1M248 942v-5M248 934h0M249 940v-3M249 934v-2M249 927h0M250 941v-6M250 925h0M251 942v-6M251 932v-1M252 942h0M252 939v-5M252 931v-1M253 942v-1M253 937h0M253 934v-1M253 929h0M254 941v-6M254 929v-2M255 942v-8M255 931v-2M256 942v-10M256 929h0M256 926h0M256 923h0M256 920h0M257 942v-3M257 936v-4M257 929h0M258 942v-14M258 925h0M258 913h0M259 942v-17M259 917h0M260 942v-16M260 923h0M260 919h0M260 914h0M261 942v-20M261 916h0M261 913h0M262 942v-9M262 930h0M262 927v-2M262 917v-1M262 907h0M262 903h0M263 942v-10M263 929v-1M263 925v-2M263 915v-2M263 904h0M264 942v-17M264 913v-2M265 942v-19M265 920v-2M265 912h0M266 942v-23M266 915h0M266 909h0M267 942v-13M267 924h0M267 903h0M268 942v-14M268 924v-2M269 942v-18M269 921h0M269 914h0M269 910h0M270 942v-24M270 915v-2M271 942v-20M271 917h0M271 913v-3M272 942v-14M272 925v-3M273 942v-21M273 916h0M273 913h0M274 942v-25M275 942v-17M275 921v-5M275 913h0M276 942v-20M276 917v-2M276 908h0M277 942v-21M277 913h0M277 903h0M278 942v-18M278 916h0M278 913h0M278 909h0M279 942v-19M279 918v-3M280 942v-29M280 909h0M280 904h0M281 942v-21M281 918v-2M281 911h0M281 907v-1M282 942v-19M282 920v-3M283 942v-25M283 910v-3M283 900h0M284 942v-18M284 921v-6M284 908h0M284 904h0M285 942v-27M286 942v-22M286 917h0M286 910v-2M287 942v-18M287 921h0M287 918h0M287 910h0M288 939v-3M288 933v-2M288 928v-1M288 921v-3M288 914v-1M288 907v-1M289 921h0" stroke="#ff3030"/>
<path d="M290 942v-8M290 931v-8M290 920v-2M290 914h0M291 942v-16M291 923h0M291 920v-3M291 914h0M291 908h0M292 942v-21M292 918v-3M292 912v-2M292 903v-1M293 942v-17M293 922v-1M293 914h0M293 905h0M293 901h0M294 942v-19M294 920v-2M294 912h0M294 909h0M295 942v-20M295 919h0M295 914h0M295 910h0M295 902h0M296 942v-16M296 923v-5M296 915v-3M297 942v-20M297 915v-1M297 911h0M298 942v-15M298 923h0M298 920h0M298 917h0M298 911h0M299 942v-24M299 912v-1M300 942v-25M300 913h0M301 942v-7M301 932v-7M301 909h0M302 942v-13M302 925v-1M302 912h0M303 942v-9M303 930v-4M303 923h0M303 917v-1M303 911h0M303 908h0M304 942v-15M304 923v-2M304 918h0M304 914h0M305 942v-18M305 919h0M306 942v-15M306 914h0M307 942v-15M307 922v-1M308 942v-1M308 936v-5M308 922h0M309 941v-1M309 926h0M309 915h0M310 942v-2M310 936h0M310 931v-2M311 940h0M311 936h0M311 932v-1M311 926h0M311 923h0M312 940v-1M312 933h0M312 929h0M313 939h0M313 928h0M314 942h0M314 939h0M314 934h0M315 942v-3M315 926h0M316 942h0M316 938v-2M316 930h0M316 920h0M317 941v-7M317 922h0M318 942v-4M318 931v-1M319 941v-2M319 936h0M319 933h0M319 927v-1M319 920h0M320 942h0M320 936v-2M320 931v-1M320 927h0M320 924v-3M320 914v-1M321 942v-9M321 929h0M321 914h0M322 942v-10M322 929v-5M322 910h0M322 907h0M323 942v-17M324 942v-10M324 928v-4M324 916v-1M324 912h0M325 942v-13M325 926v-3M325 917h0M325 914h0M326 942v-10M326 929v-3M326 923h0M326 919v-3M326 906h0M327 942v-14M327 925v-6M327 916h0M327 913h0M328 942v-25M328 913h0M329 942v-20M329 917h0M329 906h0M330 942v-23M330 914h0M330 911h0M331 942v-22M331 915v-1M331 911h0M332 942v-17M332 922h0M332 919v-2M332 911h0M333 942v-21M333 918h0M333 915v-1M333 911h0M333 908h0M334 942v-23M334 915h0M335 942v-15M335 922v-2M336 942v-13M336 926v-5M336 915v-2M337 942v-15M337 924v-2M338 942v-14M338 925v-2M339 942v-19M340 942v-21M341 942v-13M341 925v-3M341 918v-2M341 911h0M342 942v-18M342 921v-4M342 914h0M343 942v-28M343 909h0M344 942v-15M344 924v-6M344 914h0M345 942v-12M345 927h0M345 924v-4M345 910v-2M346 942v-19M346 915h0M347 942v-20M347 913h0M347 902h0M348 942v-17M348 918h0M349 942v-15M349 922v-5M349 911h0M349 907h0M350 942v-19M350 919v-1M351 942v-9M351 930v-3M351 924h0M351 916h0M352 942v-19M352 918h0M352 911h0" stroke="#1e6ef0"/>
<path d="M354 942h0M354 937h0M354 934v-1M354 928h0M354 924h0M355 942v-10M355 929h0M355 920v-2M356 942v-17M357 942v-15M357 924v-1M358 942v-13M358 922h0M358 917h0M359 942v-11M359 928v-1M359 920h0M360 942v-16M360 922h0M361 942v-14M361 925v-6M361 913h0M362 942v-17M362 922v-2M362 917v-4M362 906h0M363 942v-19M363 920h0M363 917h0M363 914v-4M364 942v-14M364 925v-2M364 912v-2M364 907h0M365 942v-15M365 924v-4M365 917v-4M365 906h0M366 942v-25M367 942v-18M367 919h0M367 915h0M367 912v-1M368 942v-18M368 919v-1M368 910v-1M368 906v-2M369 942v-17M369 922v-7M369 912h0M369 906h0M370 942v-17M370 921v-5M370 913v-1M371 942v-11M371 927v-2M371 922h0M371 918v-4M372 942v-18M372 920h0M372 913v-2M373 942v-14M373 924v-3M373 917h0M374 942v-22M374 916h0M375 942v-17M375 922v-3M375 908h0M376 942v-13M376 923v-5M376 915h0M376 910h0M377 942v-12M377 927v-1M377 922v-5M377 914h0M378 942v-12M378 927v-3M378 920v-2M378 915h0M378 911h0M379 942v-17M379 921h0M380 942v-18M380 918h0M381 942v-16M381 922h0M381 914h0M382 942v-15M382 923h0M382 920h0M382 908h0M383 942v-7M383 932v-2M383 927v-2M384 942v-6M384 933v-2M384 927h0M384 923h0M384 920h0M384 912h0M385 942v-5M385 930v-1M385 925h0M385 907h0M386 942v-3M386 934v-2M386 923h0M387 940v-1M387 933h0M388 931h0M389 942h0M389 938h0M390 942v-5M390 932h0M390 925v-1M390 919h0M391 942v-3M391 936v-2M391 931v-6M391 921h0M392 942v-6M392 933h0M392 929v-3M392 922h0M392 917v-1M393 942v-16M393 923v-3M393 911h0M394 942v-11M394 927v-2M394 917h0M395 942v-17M395 921v-1M395 917h0M395 899h0M396 942v-18M396 920h0M396 916h0M396 911h0M397 942v-12M397 926v-2M397 921v-1M397 913v-2M398 942v-20M398 919h0M398 913h0M398 904h0M399 942v-14M399 925h0M399 922v-4M399 915h0M399 909h0M400 942v-15M400 922v-4M400 915h0M400 900h0M401 942v-26M401 913v-2M401 906h0M402 942v-14M402 925h0M402 922h0M402 919h0M402 916h0M402 913h0M403 942v-17M403 921v-4M404 942v-15M404 924v-6M404 910h0M404 904h0M405 942v-15M405 921v-1M405 914h0M406 942v-14M406 924h0M406 921h0M406 918h0M407 942v-17M407 922h0M407 919v-2M407 912h0M408 942v-12M408 926v-2M408 919h0M409 942v-19M409 919v-2M410 942v-16M410 923h0M410 920h0M411 942v-17M411 919v-2M411 914h0M412 942v-18M412 920v-3M413 942v-15M413 924h0M413 921h0M413 918v-1M414 942v-17M414 922h0M414 915v-1M414 902h0M415 942v-23M415 913v-2M415 907h0M415 900h0M416 942v-17M416 922h0M416 918v-1M416 914v-3M416 908h0M416 904h0M417 942v-20M417 919v-9M417 906v-1M418 942v-15M418 924v-1M418 920h0M418 916v-2M418 910h0M418 907v-1M419 942v-20M419 918v-1M419 913v-2M419 906h0M420 942v-11M420 928v-4M420 921h0M420 917v-1M420 913h0M420 910h0M420 905h0M420 902h0M421 942v-14M421 925v-2M421 914v-2M422 942v-12M422 926v-1M422 922v-1M422 914h0M422 911v-2" stroke="#ff4800"/>
<path d="M424 941v-11M424 915h0M425 942v-23M425 914h0M425 911h0M425 908h0M425 900h0M426 942v-21M426 917v-6M426 906h0M427 942v-26M427 908h0M428 942v-24M428 914v-5M429 942v-23M429 916v-2M429 905h0M430 942v-20M430 919v-5M430 910h0M430 902h0M431 942v-24M431 907v-6M432 942v-21M432 917v-3M432 911v-7M433 942v-15M433 924v-11M433 909v-2M433 902h0M434 942v-22M434 917v-2M434 911h0M434 908v-2M434 903v-1M435 942v-19M435 910h0M436 942v-17M436 922v-7M436 909h0M436 904h0M437 942v-20M437 919v-4M437 911h0M437 908v-4M437 901h0M438 942v-15M438 924v-2M438 918h0M438 915v-1M438 906v-3M438 900h0M439 942v-27M439 912v-2M439 903h0M440 942v-14M440 924v-9M440 911h0M440 905v-2M441 942v-20M441 911v-1M441 907h0M442 942v-2M442 937h0M442 932v-2M442 926h0M442 923h0M442 920h0M442 908h0M443 942h0M443 938v-6M444 942v-21M445 942v-13M445 925h0M445 917h0M445 914h0M445 904h0M446 942v-17M446 922v-2M446 915h0M446 909v-1M447 942v-11M447 925h0M447 915h0M447 907h0M448 942v-17M448 920v-1M448 912h0M449 942v-17M449 922v-2M450 942v-11M450 928h0M450 925v-1M450 921v-1M450 914h0M451 942v-3M451 936v-6M451 927v-2M451 921h0M452 942v-13M453 942v-11M453 927v-1M453 919h0M454 942v-5M454 933v-3M455 942v-9M455 929v-1M455 913h0M456 936h0M457 938v-3M457 930v-1M457 923h0M457 920h0M458 942v-8M458 931v-5M458 922v-1M458 918h0M458 911v-2M459 942v-4M459 935v-3M459 928v-2M459 919h0M459 916v-2M459 911h0M459 905h0M460 942v-19M460 916h0M460 909v-2M461 942v-18M461 919v-1M461 914h0M461 907h0M462 942v-15M462 924h0M462 921v-3M462 914v-1M463 942v-18M464 942v-15M464 924v-2M464 917v-1M465 942v-15M465 924v-3M466 942v-15M466 924v-2M466 919v-3M466 911h0M467 942v-12M467 927v-4M467 920v-2M467 915h0M468 942v-17M468 922h0M468 919v-1M468 914h0M468 910v-2M468 901h0M469 942v-26M470 942v-17M470 922v-6M470 911v-3M471 942v-12M471 927v-6M471 918v-3M472 942v-22M472 915v-8M473 942v-20M473 918v-1M473 908v-1M473 901h0M474 942v-13M474 926v-4M474 919h0M474 916v-3M474 908h0M475 942v-15M475 924h0M475 921v-1M475 914h0M476 942v-18M476 921v-2M477 942v-16M477 922v-1M477 918h0M477 913h0M477 910h0M477 907h0M478 942v-22M478 917v-1M478 912h0M478 909h0M478 902h0M479 942v-19M479 912h0M479 908v-2M479 902h0M480 942v-16M480 918h0M480 914v-2M480 909h0M480 901h0M481 942v-13M481 926v-3M481 920h0M482 942v-15M482 924v-2M482 919v-2M483 942v-15M483 923v-1M483 914h0M483 909h0M484 942v-19M484 920h0M484 912h0M485 942v-6M485 933v-4M485 925h0M485 921h0M485 918h0M485 910v-1M486 919h0M486 914v-1M487 920h0" stroke="#ffc60c"/>
<path d="M487 941v-3M487 935h0M487 930v-2M487 924h0M487 920v-1M488 942h0M488 939v-1M488 934h0M488 931h0M488 928h0M489 941h0M489 919h0M489 916h0M489 906v-2M490 942v-3M490 936h0M490 933h0M490 922h0M491 942v-3M492 938v-5M492 928h0M492 923h0M492 919h0M493 942v-1M493 937h0M493 934h0M493 927h0M494 942v-8M494 927h0M495 942v-9M495 926h0M496 942v-18M497 942v-13M497 925h0M497 922h0M498 942v-13M498 924h0M498 921v-2M498 913v-1M499 942v-15M499 923h0M499 918v-2M499 913h0M499 910v-3M500 942v-23M500 904h0M501 942v-19M501 920h0M501 915h0M501 902h0M502 942v-13M502 926v-4M502 917h0M503 942v-17M503 918v-2M503 900h0M504 942v-16M504 923h0M505 942v-12M505 927v-2M505 914h0M506 942v-17M506 922v-1M506 916h0M506 899h0M507 942v-24M507 915h0M508 942v-15M508 920h0M509 942v-17M509 916h0M510 942v-16M510 922v-2M511 942v-11M511 928v-4M511 920v-2M512 942v-19M513 942v-24M514 942v-17M514 921v-1M514 915v-1M515 942v-16M515 923v-8M515 905h0M516 942v-16M516 922h0M516 918h0M517 942v-18M517 912h0M518 942v-21M518 916h0M518 904h0M519 942v-15M519 924v-7M519 914v-2M520 942v-18M520 919h0M520 916v-5M520 904h0M521 942v-25M521 908v-2M522 942v-20M522 919v-1M522 912h0M522 907h0M522 904h0M523 942v-18M523 921v-9M524 942v-12M524 927v-13M524 902h0M525 942v-26M526 942v-27M526 912h0M527 942v-19M527 917v-1M527 906h0M528 942v-17M528 920h0M528 917h0M528 913v-1M528 908v-1M528 903h0M529 942v-34M529 902h0M530 942v-22M530 917v-5M530 907h0M531 942v-21M531 918v-1M531 912h0M531 909v-1M532 942v-25M532 913v-4M532 906v-1M533 942v-27M533 909v-2M533 904h0" stroke="#ff3ca2"/>
<path d="M535 942v-17M535 921v-4M536 942v-26M536 913h0M536 909v-3M537 942v-35M537 904h0M538 942v-19M538 920v-2M538 915v-9M539 942v-31M539 906h0M540 942v-13M540 926h0M540 923v-8M540 912v-1M540 906v-2M541 942v-19M541 920v-1M541 916v-1M541 911v-2M541 905h0M542 942v-20M542 917v-3M542 910h0M542 907h0M543 942v-27M543 909h0M544 942v-16M544 923v-4M544 916v-2M544 908h0M545 942v-23M545 916v-3M545 910h0M546 942v-15M546 924v-7M546 911v-1M547 942v-16M547 923h0M547 920v-6M547 903h0M548 941v-9M548 928h0M548 925h0M548 915h0M549 942v-9M549 915h0M550 942h0M550 939h0M550 935v-2M550 915h0M551 940h0M551 917h0M552 938v-4M553 938v-2M553 927v-2M553 921h0M554 942h0M554 939h0M555 941v-6M555 931h0M555 921h0M556 942v-2M556 930v-3M557 942v-1M557 938v-1M557 922h0M557 912h0M558 942v-2M558 937v-1M558 925v-1M559 942v-1M559 937v-1M559 933h0M559 930h0M559 925v-2M560 942v-7M560 932h0M560 928h0M560 923h0M560 920h0M560 915h0M560 909h0M561 942v-12M561 927h0M561 924h0M561 920h0M561 917h0M561 913v-1M561 902h0M562 942v-6M562 933v-8M562 922v-4M562 914h0M562 909v-2M563 942v-17M563 922v-5M564 942v-17M564 921v-10M564 903h0M565 942v-25M565 912h0M565 909h0M565 903v-1M566 942v-17M566 920h0M566 917v-3M567 942v-20M567 911v-5M568 942v-25M568 914v-2M568 909h0M569 942v-26M569 906h0M570 942v-17M570 922h0M570 919h0M570 915v-2M570 906v-2M571 942v-16M571 922h0M571 918h0M571 914v-3M571 904h0M572 942v-18M572 920v-1M572 916v-4M572 905h0M573 942v-20M573 919h0M573 915v-6M574 942v-26M575 942v-16M575 923v-1M575 917v-1M575 913v-1M576 942v-17M576 922v-3M576 914h0M576 904h0M577 942v-22M577 917h0M578 942v-21M578 917h0M578 912h0M579 942v-25M579 911v-1M579 907h0M579 904h0M580 942v-20M580 915v-1M581 942v-24M581 915h0M581 911h0M582 942v-15M582 923v-2M582 918h0M582 914v-2M582 902h0M583 942v-18M583 918v-2M583 913h0M583 907h0" stroke="#000000"/>
<path d="M585 942v-17M585 918h0M585 908h0M586 942v-21M586 917v-3M587 942v-16M587 922v-3M587 916h0M587 909h0M588 942v-17M588 922v-2M589 942v-23M589 902h0M590 942v-16M590 923v-4M591 942v-20M592 942v-14M592 923v-1M592 918h0M592 914h0M593 942v-16M593 921h0M593 916h0M594 942v-18M595 942v-13M595 917h0M596 942v-16M596 921h0M596 918h0M597 942v-6M597 933h0M597 926v-2M598 942v-2M598 935h0M598 932v-4M598 923h0M599 942v-2M599 937v-3M599 931h0M600 941v-4M600 934v-2M601 942v-13M601 923h0M601 912h0M602 942v-11M602 928h0M602 924v-3M602 917h0M602 912h0M602 909h0M602 904v-2M603 942v-9M603 930h0M603 927v-2M603 916h0M603 912h0M604 942v-13M604 926v-4M604 917v-3M604 905h0M604 901h0M605 942v-18M605 912v-1M606 942v-13M606 926v-3M606 919v-1M606 913v-1M606 907h0M607 942v-14M607 925v-4M607 915v-2M607 904h0M608 942v-15M608 924h0M608 921v-5M608 909h0M608 906h0M609 942v-19M609 914h0M610 942v-22M610 917h0M610 912h0M610 909h0M611 942v-15M611 920v-4M611 912h0M612 942v-21M612 916v-1M612 912h0M613 942v-20M613 919v-1M613 912h0M614 942v-19M614 919v-1M614 913v-3M614 906h0M615 942v-10M615 929v-5M615 917h0M616 942v-22M617 942v-16M617 921h0M617 916h0M618 942v-15M618 923v-1M619 942v-18M619 921h0M620 942v-14M620 925v-3M621 942v-21M621 915h0M621 910h0M622 942v-16M622 923v-2M623 942v-15M623 923v-2M623 910h0M624 942v-14M624 925v-3M624 918h0M625 942v-22M625 905h0M626 942v-19M626 919v-2M627 942v-19M627 919v-2M627 914v-2M628 942v-20M628 916h0M628 912v-1M629 942v-21M629 917v-1M629 913h0M629 900h0M630 942v-27M630 902h0M631 942v-19M631 919h0M631 911h0M632 942v-17M632 922v-2M633 942h0M633 939h0M633 933v-1M633 929v-6" stroke="#048c18"/>
<path d="M635 942v-18M635 921v-1M635 916v-2M636 942v-20M636 918v-2M636 913h0M637 942v-17M637 921v-1M637 914h0M637 910h0M637 904h0M638 942v-20M638 918v-3M639 942v-23M639 916h0M639 911v-1M640 942v-21M640 918v-4M640 911h0M641 942v-16M641 923h0M641 919v-2M641 914h0M641 911h0M642 942v-23M642 916v-1M642 908h0M643 942v-14M643 925v-5M643 915v-4M644 942v-22M644 916v-4M644 908v-2M645 942v-15M645 924v-4M645 915h0M646 942v-30M647 942v-18M647 919h0M647 902h0M648 942v-14M648 925v-1M648 920h0M648 912v-1M648 908h0M648 905h0M649 942v-9M649 930v-1M649 925v-1M650 942v-9M650 921h0M650 918v-1M651 941v-13M651 923h0M652 942v-1M652 938h0M652 932h0M652 928h0M653 942v-6M653 932h0M653 927h0M654 942v-7M654 932h0M654 927h0M654 922h0M655 942v-14M655 924v-1M655 920v-2M655 912h0M656 942v-8M656 931v-3M656 925h0M656 922h0M657 942v-10M657 929v-3M657 923v-2M658 942v-16M658 923v-7M658 909h0M659 942v-14M659 924v-2M659 919h0M659 916h0M659 913h0M659 905h0M660 942v-28M660 907h0M660 904h0M661 942v-15M661 924h0M661 920v-6M662 942v-22M662 916v-2M662 908h0M663 942v-25M663 914h0M663 903h0M664 942v-26M664 913v-2M664 904h0M664 900h0M665 942v-13M665 925h0M665 920v-1M665 915h0M665 911h0M665 903h0M666 942v-25M667 942v-19M668 942v-11M668 928v-5M668 918h0M669 942v-28M669 906h0M670 942v-19M670 919v-6M671 942v-16M671 923h0M671 920h0M671 916v-1M671 908h0M672 942v-17M672 922v-3M673 942v-14M673 925v-7M673 915h0M674 942v-24M675 942v-17M675 922h0M675 919v-8M676 942v-25M676 913h0M676 910h0M677 942v-14M677 925h0M677 921h0M677 918h0M677 915h0M677 909h0M678 942v-17M678 922v-4M678 915v-1" stroke="#ff3030"/>
<path d="M680 940h0M680 933h0M681 942v-19M681 916h0M681 906h0M682 942v-28M682 911h0M682 904h0M683 942v-16M683 923h0M683 920v-4M683 911h0M684 942v-19M684 919v-5M684 910v-1M684 906h0M685 942v-23M685 909v-1M685 904h0M686 942v-16M686 921h0M686 918h0M686 901h0M687 942v-18M687 921v-4M687 914h0M687 911h0M688 942v-18M689 942v-15M689 918h0M690 942v-13M690 926v-4M690 914h0M691 942v-14M692 940v-2M692 932h0M692 929h0M692 920h0M693 942v-6M693 923h0M694 942v-7M694 929h0M694 926h0M695 942v-11M695 916h0M696 942v-5M696 934h0M696 931h0M696 928h0M697 942v-6M697 933v-10M697 920h0M697 910h0M698 942v-16M698 923h0M698 919h0M698 914h0M698 905h0M699 942v-23M699 916h0M700 942v-15M700 922v-1M701 942v-16M701 922h0M701 919v-1M702 942v-18M702 921v-2M702 912h0M703 942v-29M704 942v-24M704 914h0M704 911h0M704 902h0M705 942v-16M705 922v-4M705 911h0M705 901h0M706 942v-13M706 922v-1M706 918h0M706 913h0M706 906v-2M707 942v-15M707 923v-3M707 916v-4M707 906h0M707 899h0M708 942v-18M708 921v-4M708 912v-1M709 942v-20M709 919h0M709 916h0M709 909h0M710 942v-14M710 925v-1M710 919v-9M710 906h0M710 899h0M711 942v-18M711 921v-4M711 910v-3M711 904h0M712 942v-18M712 921h0M712 915v-1M713 942v-22M713 914h0M713 901h0M714 942v-20M714 919v-10M715 942v-18M715 919v-6M715 906h0M715 900h0M716 942v-15M716 923v-5M716 915h0M716 910h0M717 942v-20M717 919h0M717 916h0M718 942v-14M718 925v-5M718 917h0M719 942v-21M719 916h0M719 909h0M720 942v-30M721 942v-14M721 924h0M721 921v-2M721 913v-2M722 942v-20M722 917h0" stroke="#1e6ef0"/>
</g>
<line x1="56.4" x2="373.0" y1="421.8" y2="421.8" stroke="#55aa7c" stroke-width="1.75"/>
<circle cx="100.4" cy="456.6" r="0.84" fill="#048c18"/>
<circle cx="97.8" cy="456.1" r="0.85" fill="#048c18"/>
<circle cx="92.4" cy="457.0" r="0.83" fill="#048c18"/>
<circle cx="91.7" cy="449.7" r="0.94" fill="#048c18"/>
<circle cx="79.3" cy="454.7" r="0.87" fill="#048c18"/>
<circle cx="93.9" cy="457.2" r="0.83" fill="#048c18"/>
<circle cx="100.0" cy="455.8" r="0.85" fill="#048c18"/>
<circle cx="89.9" cy="456.2" r="0.84" fill="#048c18"/>
<circle cx="95.5" cy="452.7" r="0.90" fill="#048c18"/>
<circle cx="96.5" cy="456.8" r="0.84" fill="#048c18"/>
<circle cx="93.8" cy="452.8" r="0.89" fill="#048c18"/>
<circle cx="99.8" cy="456.4" r="0.84" fill="#048c18"/>
<circle cx="92.3" cy="454.9" r="0.86" fill="#048c18"/>
<circle cx="91.2" cy="456.0" r="0.85" fill="#048c18"/>
<circle cx="94.5" cy="455.2" r="0.86" fill="#048c18"/>
<circle cx="90.2" cy="452.0" r="0.91" fill="#048c18"/>
<circle cx="94.3" cy="457.2" r="0.83" fill="#048c18"/>
<circle cx="89.9" cy="455.0" r="0.86" fill="#048c18"/>
<circle cx="89.5" cy="455.1" r="0.86" fill="#048c18"/>
<circle cx="91.6" cy="454.1" r="0.88" fill="#048c18"/>
<circle cx="92.6" cy="456.8" r="0.84" fill="#048c18"/>
<circle cx="90.9" cy="453.9" r="0.88" fill="#048c18"/>
<circle cx="80.6" cy="456.2" r="0.84" fill="#048c18"/>
<circle cx="90.8" cy="452.5" r="0.90" fill="#048c18"/>
<circle cx="94.3" cy="449.7" r="0.94" fill="#048c18"/>
<circle cx="106.8" cy="456.7" r="0.84" fill="#048c18"/>
<circle cx="94.2" cy="457.1" r="0.83" fill="#048c18"/>
<circle cx="105.1" cy="455.6" r="0.85" fill="#048c18"/>
<circle cx="91.0" cy="455.4" r="0.86" fill="#048c18"/>
<circle cx="84.0" cy="455.2" r="0.86" fill="#048c18"/>
<circle cx="91.0" cy="456.0" r="0.85" fill="#048c18"/>
<circle cx="67.8" cy="453.8" r="0.88" fill="#048c18"/>
<circle cx="102.8" cy="456.6" r="0.84" fill="#048c18"/>
<circle cx="82.2" cy="450.2" r="0.93" fill="#048c18"/>
<circle cx="107.4" cy="457.3" r="0.83" fill="#048c18"/>
<circle cx="90.6" cy="457.1" r="0.83" fill="#048c18"/>
<circle cx="93.8" cy="451.6" r="0.91" fill="#048c18"/>
<circle cx="95.2" cy="457.1" r="0.83" fill="#048c18"/>
<circle cx="107.6" cy="457.2" r="0.83" fill="#048c18"/>
<circle cx="91.2" cy="454.6" r="0.87" fill="#048c18"/>
<circle cx="95.4" cy="454.3" r="0.87" fill="#048c18"/>
<circle cx="92.2" cy="453.5" r="0.89" fill="#048c18"/>
<circle cx="94.5" cy="456.1" r="0.85" fill="#048c18"/>
<circle cx="92.5" cy="455.6" r="0.85" fill="#048c18"/>
<circle cx="92.7" cy="456.2" r="0.84" fill="#048c18"/>
<circle cx="90.4" cy="450.2" r="0.93" fill="#048c18"/>
<circle cx="76.2" cy="456.5" r="0.84" fill="#048c18"/>
<circle cx="90.3" cy="452.6" r="0.90" fill="#048c18"/>
<circle cx="93.2" cy="456.0" r="0.85" fill="#048c18"/>
<circle cx="75.8" cy="456.4" r="0.84" fill="#048c18"/>
<circle cx="107.7" cy="450.6" r="0.93" fill="#048c18"/>
<circle cx="92.8" cy="453.0" r="0.89" fill="#048c18"/>
<circle cx="87.6" cy="454.9" r="0.86" fill="#048c18"/>
<circle cx="88.7" cy="454.1" r="0.88" fill="#048c18"/>
<circle cx="78.6" cy="456.1" r="0.85" fill="#048c18"/>
<circle cx="106.0" cy="455.5" r="0.85" fill="#048c18"/>
<circle cx="76.9" cy="455.6" r="0.85" fill="#048c18"/>
<circle cx="95.6" cy="455.2" r="0.86" fill="#048c18"/>
<circle cx="91.4" cy="456.3" r="0.84" fill="#048c18"/>
<circle cx="98.8" cy="455.9" r="0.85" fill="#048c18"/>
<circle cx="100.4" cy="453.5" r="0.88" fill="#048c18"/>
<circle cx="93.7" cy="455.5" r="0.86" fill="#048c18"/>
<circle cx="103.4" cy="454.9" r="0.86" fill="#048c18"/>
<circle cx="105.7" cy="455.3" r="0.86" fill="#048c18"/>
<circle cx="92.0" cy="456.7" r="0.84" fill="#048c18"/>
<circle cx="94.1" cy="453.6" r="0.88" fill="#048c18"/>
<circle cx="92.3" cy="454.2" r="0.87" fill="#048c18"/>
<circle cx="101.9" cy="453.9" r="0.88" fill="#048c18"/>
<circle cx="96.8" cy="454.8" r="0.86" fill="#048c18"/>
<circle cx="92.4" cy="456.9" r="0.83" fill="#048c18"/>
<circle cx="69.7" cy="455.8" r="0.85" fill="#048c18"/>
<circle cx="78.3" cy="453.5" r="0.88" fill="#048c18"/>
<circle cx="101.1" cy="450.2" r="0.93" fill="#048c18"/>
<circle cx="105.7" cy="456.1" r="0.85" fill="#048c18"/>
<circle cx="89.1" cy="453.3" r="0.89" fill="#048c18"/>
<circle cx="105.8" cy="453.6" r="0.88" fill="#048c18"/>
<circle cx="131.3" cy="452.1" r="0.91" fill="#ff3030"/>
<circle cx="131.0" cy="451.7" r="0.91" fill="#ff3030"/>
<circle cx="113.5" cy="456.5" r="0.84" fill="#ff3030"/>
<circle cx="130.0" cy="457.1" r="0.83" fill="#ff3030"/>
<circle cx="131.0" cy="453.4" r="0.89" fill="#ff3030"/>
<circle cx="132.6" cy="455.8" r="0.85" fill="#ff3030"/>
<circle cx="141.4" cy="449.9" r="0.94" fill="#ff3030"/>
<circle cx="136.3" cy="456.7" r="0.84" fill="#ff3030"/>
<circle cx="135.6" cy="455.1" r="0.86" fill="#ff3030"/>
<circle cx="113.6" cy="456.0" r="0.85" fill="#ff3030"/>
<circle cx="135.6" cy="455.9" r="0.85" fill="#ff3030"/>
<circle cx="139.8" cy="454.4" r="0.87" fill="#ff3030"/>
<circle cx="134.8" cy="456.6" r="0.84" fill="#ff3030"/>
<circle cx="117.3" cy="455.6" r="0.85" fill="#ff3030"/>
<circle cx="141.4" cy="453.3" r="0.89" fill="#ff3030"/>
<circle cx="111.9" cy="455.8" r="0.85" fill="#ff3030"/>
<circle cx="138.9" cy="454.7" r="0.87" fill="#ff3030"/>
<circle cx="112.3" cy="453.3" r="0.89" fill="#ff3030"/>
<circle cx="139.8" cy="451.9" r="0.91" fill="#ff3030"/>
<circle cx="128.8" cy="456.4" r="0.84" fill="#ff3030"/>
<circle cx="112.6" cy="457.1" r="0.83" fill="#ff3030"/>
<circle cx="143.0" cy="454.9" r="0.86" fill="#ff3030"/>
<circle cx="130.4" cy="456.5" r="0.84" fill="#ff3030"/>
<circle cx="131.9" cy="456.3" r="0.84" fill="#ff3030"/>
<circle cx="138.7" cy="451.4" r="0.92" fill="#ff3030"/>
<circle cx="135.2" cy="456.7" r="0.84" fill="#ff3030"/>
<circle cx="131.4" cy="456.7" r="0.84" fill="#ff3030"/>
<circle cx="140.4" cy="452.9" r="0.89" fill="#ff3030"/>
<circle cx="113.4" cy="456.4" r="0.84" fill="#ff3030"/>
<circle cx="135.1" cy="456.9" r="0.83" fill="#ff3030"/>
<circle cx="132.9" cy="454.3" r="0.87" fill="#ff3030"/>
<circle cx="139.1" cy="456.4" r="0.84" fill="#ff3030"/>
<circle cx="134.7" cy="454.8" r="0.87" fill="#ff3030"/>
<circle cx="134.5" cy="457.2" r="0.83" fill="#ff3030"/>
<circle cx="119.5" cy="456.7" r="0.84" fill="#ff3030"/>
<circle cx="118.1" cy="453.1" r="0.89" fill="#ff3030"/>
<circle cx="131.9" cy="455.7" r="0.85" fill="#ff3030"/>
<circle cx="122.0" cy="450.1" r="0.94" fill="#ff3030"/>
<circle cx="133.5" cy="451.6" r="0.91" fill="#ff3030"/>
<circle cx="137.7" cy="456.5" r="0.84" fill="#ff3030"/>
<circle cx="111.5" cy="450.6" r="0.93" fill="#ff3030"/>
<circle cx="141.3" cy="454.8" r="0.86" fill="#ff3030"/>
<circle cx="140.0" cy="456.4" r="0.84" fill="#ff3030"/>
<circle cx="123.2" cy="457.2" r="0.83" fill="#ff3030"/>
<circle cx="138.2" cy="454.2" r="0.87" fill="#ff3030"/>
<circle cx="138.5" cy="456.7" r="0.84" fill="#ff3030"/>
<circle cx="113.3" cy="456.9" r="0.83" fill="#ff3030"/>
<circle cx="117.1" cy="455.7" r="0.85" fill="#ff3030"/>
<circle cx="140.6" cy="455.4" r="0.86" fill="#ff3030"/>
<circle cx="141.6" cy="454.7" r="0.87" fill="#ff3030"/>
<circle cx="143.1" cy="454.0" r="0.88" fill="#ff3030"/>
<circle cx="114.2" cy="456.3" r="0.84" fill="#ff3030"/>
<circle cx="135.3" cy="456.7" r="0.84" fill="#ff3030"/>
<circle cx="140.5" cy="453.5" r="0.88" fill="#ff3030"/>
<circle cx="111.8" cy="457.0" r="0.83" fill="#ff3030"/>
<circle cx="140.0" cy="456.8" r="0.83" fill="#ff3030"/>
<circle cx="111.0" cy="455.8" r="0.85" fill="#ff3030"/>
<circle cx="128.9" cy="456.7" r="0.84" fill="#ff3030"/>
<circle cx="113.2" cy="450.4" r="0.93" fill="#ff3030"/>
<circle cx="137.3" cy="456.4" r="0.84" fill="#ff3030"/>
<circle cx="112.3" cy="451.9" r="0.91" fill="#ff3030"/>
<circle cx="173.7" cy="451.0" r="0.92" fill="#1e6ef0"/>
<circle cx="147.4" cy="451.2" r="0.92" fill="#1e6ef0"/>
<circle cx="145.3" cy="456.9" r="0.83" fill="#1e6ef0"/>
<circle cx="146.1" cy="451.0" r="0.92" fill="#1e6ef0"/>
<circle cx="153.0" cy="457.2" r="0.83" fill="#1e6ef0"/>
<circle cx="146.0" cy="456.1" r="0.85" fill="#1e6ef0"/>
<circle cx="146.3" cy="452.5" r="0.90" fill="#1e6ef0"/>
<circle cx="151.4" cy="455.4" r="0.86" fill="#1e6ef0"/>
<circle cx="166.7" cy="454.0" r="0.88" fill="#1e6ef0"/>
<circle cx="146.6" cy="457.2" r="0.83" fill="#1e6ef0"/>
<circle cx="145.6" cy="454.1" r="0.88" fill="#1e6ef0"/>
<circle cx="147.6" cy="454.9" r="0.86" fill="#1e6ef0"/>
<circle cx="145.8" cy="454.8" r="0.86" fill="#1e6ef0"/>
<circle cx="150.5" cy="454.4" r="0.87" fill="#1e6ef0"/>
<circle cx="163.8" cy="456.3" r="0.84" fill="#1e6ef0"/>
<circle cx="160.7" cy="457.2" r="0.83" fill="#1e6ef0"/>
<circle cx="162.5" cy="457.2" r="0.83" fill="#1e6ef0"/>
<circle cx="146.6" cy="457.2" r="0.83" fill="#1e6ef0"/>
<circle cx="162.8" cy="453.1" r="0.89" fill="#1e6ef0"/>
<circle cx="149.3" cy="455.6" r="0.85" fill="#1e6ef0"/>
<circle cx="172.4" cy="454.2" r="0.87" fill="#1e6ef0"/>
<circle cx="162.2" cy="455.8" r="0.85" fill="#1e6ef0"/>
<circle cx="171.0" cy="457.1" r="0.83" fill="#1e6ef0"/>
<circle cx="148.8" cy="455.5" r="0.85" fill="#1e6ef0"/>
<circle cx="171.5" cy="457.1" r="0.83" fill="#1e6ef0"/>
<circle cx="145.9" cy="455.9" r="0.85" fill="#1e6ef0"/>
<circle cx="146.1" cy="456.2" r="0.84" fill="#1e6ef0"/>
<circle cx="145.0" cy="456.9" r="0.83" fill="#1e6ef0"/>
<circle cx="164.4" cy="452.9" r="0.89" fill="#1e6ef0"/>
<circle cx="149.9" cy="456.7" r="0.84" fill="#1e6ef0"/>
<circle cx="149.4" cy="455.4" r="0.86" fill="#1e6ef0"/>
<circle cx="147.0" cy="454.5" r="0.87" fill="#1e6ef0"/>
<circle cx="150.9" cy="456.0" r="0.85" fill="#1e6ef0"/>
<circle cx="147.7" cy="457.0" r="0.83" fill="#1e6ef0"/>
<circle cx="147.8" cy="456.6" r="0.84" fill="#1e6ef0"/>
<circle cx="163.5" cy="456.3" r="0.84" fill="#1e6ef0"/>
<circle cx="146.3" cy="450.6" r="0.93" fill="#1e6ef0"/>
<circle cx="165.7" cy="456.9" r="0.83" fill="#1e6ef0"/>
<circle cx="165.2" cy="455.6" r="0.85" fill="#1e6ef0"/>
<circle cx="173.3" cy="456.6" r="0.84" fill="#1e6ef0"/>
<circle cx="148.5" cy="455.5" r="0.85" fill="#1e6ef0"/>
<circle cx="146.3" cy="457.1" r="0.83" fill="#1e6ef0"/>
<circle cx="148.2" cy="457.0" r="0.83" fill="#1e6ef0"/>
<circle cx="165.7" cy="455.5" r="0.85" fill="#1e6ef0"/>
<circle cx="148.6" cy="457.1" r="0.83" fill="#1e6ef0"/>
<circle cx="146.9" cy="455.9" r="0.85" fill="#1e6ef0"/>
<circle cx="167.8" cy="456.3" r="0.84" fill="#1e6ef0"/>
<circle cx="164.8" cy="457.1" r="0.83" fill="#1e6ef0"/>
<circle cx="147.8" cy="456.1" r="0.85" fill="#1e6ef0"/>
<circle cx="147.6" cy="456.8" r="0.84" fill="#1e6ef0"/>
<circle cx="149.6" cy="456.1" r="0.85" fill="#1e6ef0"/>
<circle cx="146.1" cy="451.4" r="0.92" fill="#1e6ef0"/>
<circle cx="159.8" cy="457.1" r="0.83" fill="#1e6ef0"/>
<circle cx="148.7" cy="456.8" r="0.83" fill="#1e6ef0"/>
<circle cx="208.6" cy="455.0" r="0.86" fill="#ff4800"/>
<circle cx="181.5" cy="456.3" r="0.84" fill="#ff4800"/>
<circle cx="209.9" cy="450.8" r="0.93" fill="#ff4800"/>
<circle cx="207.5" cy="450.0" r="0.94" fill="#ff4800"/>
<circle cx="210.6" cy="457.1" r="0.83" fill="#ff4800"/>
<circle cx="187.9" cy="454.9" r="0.86" fill="#ff4800"/>
<circle cx="181.2" cy="456.6" r="0.84" fill="#ff4800"/>
<circle cx="196.5" cy="455.5" r="0.85" fill="#ff4800"/>
<circle cx="192.3" cy="453.5" r="0.88" fill="#ff4800"/>
<circle cx="190.9" cy="453.9" r="0.88" fill="#ff4800"/>
<circle cx="202.2" cy="455.0" r="0.86" fill="#ff4800"/>
<circle cx="207.9" cy="451.8" r="0.91" fill="#ff4800"/>
<circle cx="184.3" cy="456.0" r="0.85" fill="#ff4800"/>
<circle cx="208.6" cy="454.9" r="0.86" fill="#ff4800"/>
<circle cx="208.6" cy="456.2" r="0.84" fill="#ff4800"/>
<circle cx="182.0" cy="453.4" r="0.89" fill="#ff4800"/>
<circle cx="198.7" cy="456.5" r="0.84" fill="#ff4800"/>
<circle cx="182.4" cy="456.7" r="0.84" fill="#ff4800"/>
<circle cx="209.8" cy="452.5" r="0.90" fill="#ff4800"/>
<circle cx="209.2" cy="457.3" r="0.83" fill="#ff4800"/>
<circle cx="197.7" cy="449.5" r="0.94" fill="#ff4800"/>
<circle cx="209.2" cy="456.8" r="0.83" fill="#ff4800"/>
<circle cx="208.0" cy="455.6" r="0.85" fill="#ff4800"/>
<circle cx="187.3" cy="453.8" r="0.88" fill="#ff4800"/>
<circle cx="185.9" cy="456.6" r="0.84" fill="#ff4800"/>
<circle cx="210.6" cy="456.4" r="0.84" fill="#ff4800"/>
<circle cx="207.8" cy="454.0" r="0.88" fill="#ff4800"/>
<circle cx="190.7" cy="456.9" r="0.83" fill="#ff4800"/>
<circle cx="185.8" cy="455.6" r="0.85" fill="#ff4800"/>
<circle cx="207.9" cy="455.6" r="0.85" fill="#ff4800"/>
<circle cx="209.1" cy="453.0" r="0.89" fill="#ff4800"/>
<circle cx="210.3" cy="456.3" r="0.84" fill="#ff4800"/>
<circle cx="182.4" cy="452.8" r="0.89" fill="#ff4800"/>
<circle cx="208.5" cy="452.7" r="0.90" fill="#ff4800"/>
<circle cx="211.0" cy="454.3" r="0.87" fill="#ff4800"/>
<circle cx="201.0" cy="456.7" r="0.84" fill="#ff4800"/>
<circle cx="182.0" cy="455.0" r="0.86" fill="#ff4800"/>
<circle cx="210.2" cy="456.7" r="0.84" fill="#ff4800"/>
<circle cx="211.0" cy="455.3" r="0.86" fill="#ff4800"/>
<circle cx="202.0" cy="452.2" r="0.90" fill="#ff4800"/>
<circle cx="208.5" cy="452.8" r="0.90" fill="#ff4800"/>
<circle cx="208.1" cy="457.0" r="0.83" fill="#ff4800"/>
<circle cx="180.5" cy="456.4" r="0.84" fill="#ff4800"/>
<circle cx="181.7" cy="455.8" r="0.85" fill="#ff4800"/>
<circle cx="206.9" cy="456.9" r="0.83" fill="#ff4800"/>
<circle cx="183.5" cy="455.8" r="0.85" fill="#ff4800"/>
<circle cx="208.5" cy="457.1" r="0.83" fill="#ff4800"/>
<circle cx="205.6" cy="456.8" r="0.84" fill="#ff4800"/>
<circle cx="185.5" cy="457.0" r="0.83" fill="#ff4800"/>
<circle cx="181.6" cy="455.2" r="0.86" fill="#ff4800"/>
<circle cx="183.4" cy="456.2" r="0.84" fill="#ff4800"/>
<circle cx="198.7" cy="456.1" r="0.85" fill="#ff4800"/>
<circle cx="209.9" cy="454.8" r="0.86" fill="#ff4800"/>
<circle cx="208.9" cy="454.9" r="0.86" fill="#ff4800"/>
<circle cx="208.5" cy="456.9" r="0.83" fill="#ff4800"/>
<circle cx="209.6" cy="456.6" r="0.84" fill="#ff4800"/>
<circle cx="182.1" cy="456.2" r="0.84" fill="#ff4800"/>
<circle cx="203.7" cy="456.1" r="0.85" fill="#ff4800"/>
<circle cx="210.9" cy="457.1" r="0.83" fill="#ff4800"/>
<circle cx="181.4" cy="456.3" r="0.84" fill="#ff4800"/>
<circle cx="207.3" cy="453.5" r="0.88" fill="#ff4800"/>
<circle cx="210.3" cy="455.8" r="0.85" fill="#ff4800"/>
<circle cx="209.4" cy="455.4" r="0.86" fill="#ff4800"/>
<circle cx="210.2" cy="456.3" r="0.84" fill="#ff4800"/>
<circle cx="208.0" cy="455.5" r="0.85" fill="#ff4800"/>
<circle cx="202.7" cy="457.0" r="0.83" fill="#ff4800"/>
<circle cx="198.3" cy="455.7" r="0.85" fill="#ff4800"/>
<circle cx="181.3" cy="457.1" r="0.83" fill="#ff4800"/>
<circle cx="200.5" cy="452.9" r="0.89" fill="#ff4800"/>
<circle cx="199.8" cy="450.0" r="0.94" fill="#ff4800"/>
<circle cx="207.0" cy="450.8" r="0.93" fill="#ff4800"/>
<circle cx="183.9" cy="455.0" r="0.86" fill="#ff4800"/>
<circle cx="208.6" cy="452.9" r="0.89" fill="#ff4800"/>
<circle cx="210.7" cy="457.1" r="0.83" fill="#ff4800"/>
<circle cx="207.4" cy="456.3" r="0.84" fill="#ff4800"/>
<circle cx="181.2" cy="452.8" r="0.89" fill="#ff4800"/>
<circle cx="199.2" cy="452.0" r="0.91" fill="#ff4800"/>
<circle cx="192.0" cy="456.1" r="0.85" fill="#ff4800"/>
<circle cx="207.4" cy="455.6" r="0.85" fill="#ff4800"/>
<circle cx="207.8" cy="455.8" r="0.85" fill="#ff4800"/>
<circle cx="198.2" cy="455.6" r="0.85" fill="#ff4800"/>
<circle cx="181.9" cy="455.7" r="0.85" fill="#ff4800"/>
<circle cx="222.4" cy="452.2" r="0.90" fill="#ffc60c"/>
<circle cx="229.9" cy="454.5" r="0.87" fill="#ffc60c"/>
<circle cx="217.6" cy="455.1" r="0.86" fill="#ffc60c"/>
<circle cx="230.1" cy="453.7" r="0.88" fill="#ffc60c"/>
<circle cx="217.0" cy="453.8" r="0.88" fill="#ffc60c"/>
<circle cx="217.9" cy="451.8" r="0.91" fill="#ffc60c"/>
<circle cx="224.8" cy="457.1" r="0.83" fill="#ffc60c"/>
<circle cx="218.8" cy="452.6" r="0.90" fill="#ffc60c"/>
<circle cx="219.2" cy="451.5" r="0.91" fill="#ffc60c"/>
<circle cx="220.4" cy="453.6" r="0.88" fill="#ffc60c"/>
<circle cx="218.9" cy="452.9" r="0.89" fill="#ffc60c"/>
<circle cx="215.8" cy="456.8" r="0.84" fill="#ffc60c"/>
<circle cx="215.1" cy="450.9" r="0.92" fill="#ffc60c"/>
<circle cx="220.8" cy="454.1" r="0.88" fill="#ffc60c"/>
<circle cx="212.4" cy="456.9" r="0.83" fill="#ffc60c"/>
<circle cx="216.1" cy="454.6" r="0.87" fill="#ffc60c"/>
<circle cx="237.6" cy="457.2" r="0.83" fill="#ffc60c"/>
<circle cx="215.5" cy="453.6" r="0.88" fill="#ffc60c"/>
<circle cx="216.3" cy="453.3" r="0.89" fill="#ffc60c"/>
<circle cx="236.1" cy="454.5" r="0.87" fill="#ffc60c"/>
<circle cx="229.2" cy="454.6" r="0.87" fill="#ffc60c"/>
<circle cx="219.9" cy="452.6" r="0.90" fill="#ffc60c"/>
<circle cx="215.4" cy="451.2" r="0.92" fill="#ffc60c"/>
<circle cx="218.3" cy="452.9" r="0.89" fill="#ffc60c"/>
<circle cx="218.9" cy="457.0" r="0.83" fill="#ffc60c"/>
<circle cx="231.1" cy="456.7" r="0.84" fill="#ffc60c"/>
<circle cx="235.1" cy="455.3" r="0.86" fill="#ffc60c"/>
<circle cx="214.9" cy="457.3" r="0.83" fill="#ffc60c"/>
<circle cx="238.6" cy="453.7" r="0.88" fill="#ffc60c"/>
<circle cx="217.2" cy="451.2" r="0.92" fill="#ffc60c"/>
<circle cx="236.6" cy="450.6" r="0.93" fill="#ffc60c"/>
<circle cx="230.4" cy="457.0" r="0.83" fill="#ffc60c"/>
<circle cx="214.4" cy="452.5" r="0.90" fill="#ffc60c"/>
<circle cx="214.4" cy="457.0" r="0.83" fill="#ffc60c"/>
<circle cx="237.2" cy="454.0" r="0.88" fill="#ffc60c"/>
<circle cx="224.0" cy="456.2" r="0.84" fill="#ffc60c"/>
<circle cx="216.0" cy="455.7" r="0.85" fill="#ffc60c"/>
<circle cx="220.1" cy="455.4" r="0.86" fill="#ffc60c"/>
<circle cx="212.7" cy="450.1" r="0.94" fill="#ffc60c"/>
<circle cx="215.7" cy="452.3" r="0.90" fill="#ffc60c"/>
<circle cx="213.9" cy="455.5" r="0.85" fill="#ffc60c"/>
<circle cx="216.7" cy="454.7" r="0.87" fill="#ffc60c"/>
<circle cx="212.9" cy="457.2" r="0.83" fill="#ffc60c"/>
<circle cx="227.5" cy="456.4" r="0.84" fill="#ffc60c"/>
<circle cx="213.9" cy="454.7" r="0.87" fill="#ffc60c"/>
<circle cx="241.6" cy="457.1" r="0.83" fill="#ffc60c"/>
<circle cx="218.9" cy="457.0" r="0.83" fill="#ffc60c"/>
<circle cx="236.0" cy="456.2" r="0.84" fill="#ffc60c"/>
<circle cx="218.3" cy="452.9" r="0.89" fill="#ffc60c"/>
<circle cx="214.2" cy="457.0" r="0.83" fill="#ffc60c"/>
<circle cx="213.0" cy="455.3" r="0.86" fill="#ffc60c"/>
<circle cx="231.0" cy="456.8" r="0.84" fill="#ffc60c"/>
<circle cx="220.4" cy="455.6" r="0.85" fill="#ffc60c"/>
<circle cx="220.4" cy="455.2" r="0.86" fill="#ffc60c"/>
<circle cx="214.9" cy="455.2" r="0.86" fill="#ffc60c"/>
<circle cx="214.7" cy="452.3" r="0.90" fill="#ffc60c"/>
<circle cx="214.1" cy="455.0" r="0.86" fill="#ffc60c"/>
<circle cx="235.8" cy="456.5" r="0.84" fill="#ffc60c"/>
<circle cx="229.7" cy="456.9" r="0.83" fill="#ffc60c"/>
<circle cx="215.4" cy="450.6" r="0.93" fill="#ffc60c"/>
<circle cx="217.0" cy="451.4" r="0.92" fill="#ffc60c"/>
<circle cx="242.3" cy="455.1" r="0.86" fill="#ffc60c"/>
<circle cx="217.0" cy="454.1" r="0.88" fill="#ffc60c"/>
<circle cx="229.5" cy="455.6" r="0.85" fill="#ffc60c"/>
<circle cx="235.2" cy="455.4" r="0.86" fill="#ffc60c"/>
<circle cx="235.1" cy="454.1" r="0.88" fill="#ffc60c"/>
<circle cx="236.0" cy="456.1" r="0.85" fill="#ffc60c"/>
<circle cx="236.2" cy="453.5" r="0.88" fill="#ffc60c"/>
<circle cx="218.3" cy="454.0" r="0.88" fill="#ffc60c"/>
<circle cx="213.0" cy="456.2" r="0.84" fill="#ffc60c"/>
<circle cx="233.9" cy="454.8" r="0.87" fill="#ffc60c"/>
<circle cx="214.1" cy="456.0" r="0.85" fill="#ffc60c"/>
<circle cx="215.3" cy="451.9" r="0.91" fill="#ffc60c"/>
<circle cx="212.6" cy="453.8" r="0.88" fill="#ffc60c"/>
<circle cx="220.1" cy="451.7" r="0.91" fill="#ffc60c"/>
<circle cx="239.3" cy="451.1" r="0.92" fill="#ffc60c"/>
<circle cx="216.0" cy="453.2" r="0.89" fill="#ffc60c"/>
<circle cx="235.2" cy="454.4" r="0.87" fill="#ffc60c"/>
<circle cx="233.9" cy="456.8" r="0.83" fill="#ffc60c"/>
<circle cx="237.2" cy="456.9" r="0.83" fill="#ffc60c"/>
<circle cx="238.5" cy="456.5" r="0.84" fill="#ffc60c"/>
<circle cx="223.1" cy="453.9" r="0.88" fill="#ffc60c"/>
<circle cx="233.9" cy="450.3" r="0.93" fill="#ffc60c"/>
<circle cx="218.5" cy="455.4" r="0.86" fill="#ffc60c"/>
<circle cx="219.3" cy="451.6" r="0.91" fill="#ffc60c"/>
<circle cx="219.1" cy="449.9" r="0.94" fill="#ffc60c"/>
<circle cx="218.4" cy="454.0" r="0.88" fill="#ffc60c"/>
<circle cx="217.1" cy="455.4" r="0.86" fill="#ffc60c"/>
<circle cx="237.2" cy="456.7" r="0.84" fill="#ffc60c"/>
<circle cx="216.1" cy="455.2" r="0.86" fill="#ffc60c"/>
<circle cx="223.2" cy="454.5" r="0.87" fill="#ffc60c"/>
<circle cx="216.6" cy="456.6" r="0.84" fill="#ffc60c"/>
<circle cx="236.6" cy="453.6" r="0.88" fill="#ffc60c"/>
<circle cx="216.5" cy="454.0" r="0.88" fill="#ffc60c"/>
<circle cx="235.2" cy="455.6" r="0.85" fill="#ffc60c"/>
<circle cx="218.7" cy="451.8" r="0.91" fill="#ffc60c"/>
<circle cx="217.0" cy="453.3" r="0.89" fill="#ffc60c"/>
<circle cx="218.4" cy="450.6" r="0.93" fill="#ffc60c"/>
<circle cx="212.4" cy="455.6" r="0.85" fill="#ffc60c"/>
<circle cx="214.9" cy="457.1" r="0.83" fill="#ffc60c"/>
<circle cx="216.1" cy="452.2" r="0.90" fill="#ffc60c"/>
<circle cx="236.2" cy="455.5" r="0.85" fill="#ffc60c"/>
<circle cx="241.5" cy="454.5" r="0.87" fill="#ffc60c"/>
<circle cx="222.6" cy="457.1" r="0.83" fill="#ffc60c"/>
<circle cx="219.7" cy="456.2" r="0.84" fill="#ffc60c"/>
<circle cx="213.6" cy="454.2" r="0.87" fill="#ffc60c"/>
<circle cx="219.3" cy="454.8" r="0.86" fill="#ffc60c"/>
<circle cx="217.2" cy="453.2" r="0.89" fill="#ffc60c"/>
<circle cx="230.3" cy="453.3" r="0.89" fill="#ffc60c"/>
<circle cx="216.4" cy="450.8" r="0.93" fill="#ffc60c"/>
<circle cx="218.1" cy="454.6" r="0.87" fill="#ffc60c"/>
<circle cx="212.7" cy="450.0" r="0.94" fill="#ffc60c"/>
<circle cx="236.3" cy="453.9" r="0.88" fill="#ffc60c"/>
<circle cx="213.1" cy="453.1" r="0.89" fill="#ffc60c"/>
<circle cx="223.3" cy="453.4" r="0.89" fill="#ffc60c"/>
<circle cx="216.2" cy="453.9" r="0.88" fill="#ffc60c"/>
<circle cx="212.4" cy="456.9" r="0.83" fill="#ffc60c"/>
<circle cx="234.1" cy="454.2" r="0.87" fill="#ffc60c"/>
<circle cx="264.5" cy="455.7" r="0.85" fill="#ff3ca2"/>
<circle cx="265.9" cy="454.5" r="0.87" fill="#ff3ca2"/>
<circle cx="261.3" cy="456.2" r="0.84" fill="#ff3ca2"/>
<circle cx="264.0" cy="456.5" r="0.84" fill="#ff3ca2"/>
<circle cx="262.2" cy="457.1" r="0.83" fill="#ff3ca2"/>
<circle cx="265.5" cy="456.1" r="0.85" fill="#ff3ca2"/>
<circle cx="249.0" cy="456.2" r="0.84" fill="#ff3ca2"/>
<circle cx="259.4" cy="457.1" r="0.83" fill="#ff3ca2"/>
<circle cx="261.9" cy="451.2" r="0.92" fill="#ff3ca2"/>
<circle cx="250.4" cy="451.1" r="0.92" fill="#ff3ca2"/>
<circle cx="266.3" cy="454.7" r="0.87" fill="#ff3ca2"/>
<circle cx="264.4" cy="456.6" r="0.84" fill="#ff3ca2"/>
<circle cx="252.4" cy="457.0" r="0.83" fill="#ff3ca2"/>
<circle cx="257.3" cy="452.7" r="0.90" fill="#ff3ca2"/>
<circle cx="260.6" cy="454.2" r="0.87" fill="#ff3ca2"/>
<circle cx="265.4" cy="454.1" r="0.88" fill="#ff3ca2"/>
<circle cx="249.7" cy="456.7" r="0.84" fill="#ff3ca2"/>
<circle cx="265.9" cy="452.5" r="0.90" fill="#ff3ca2"/>
<circle cx="260.9" cy="453.3" r="0.89" fill="#ff3ca2"/>
<circle cx="266.3" cy="452.2" r="0.90" fill="#ff3ca2"/>
<circle cx="259.7" cy="456.0" r="0.85" fill="#ff3ca2"/>
<circle cx="259.9" cy="451.8" r="0.91" fill="#ff3ca2"/>
<circle cx="265.5" cy="454.0" r="0.88" fill="#ff3ca2"/>
<circle cx="266.0" cy="455.6" r="0.85" fill="#ff3ca2"/>
<circle cx="266.6" cy="453.5" r="0.88" fill="#ff3ca2"/>
<circle cx="264.2" cy="456.2" r="0.84" fill="#ff3ca2"/>
<circle cx="260.2" cy="455.7" r="0.85" fill="#ff3ca2"/>
<circle cx="251.3" cy="449.9" r="0.94" fill="#ff3ca2"/>
<circle cx="265.1" cy="453.4" r="0.89" fill="#ff3ca2"/>
<circle cx="258.7" cy="455.9" r="0.85" fill="#ff3ca2"/>
<circle cx="261.9" cy="456.9" r="0.83" fill="#ff3ca2"/>
<circle cx="263.9" cy="453.4" r="0.89" fill="#ff3ca2"/>
<circle cx="259.3" cy="456.9" r="0.83" fill="#ff3ca2"/>
<circle cx="260.2" cy="457.0" r="0.83" fill="#ff3ca2"/>
<circle cx="264.6" cy="456.6" r="0.84" fill="#ff3ca2"/>
<circle cx="261.6" cy="457.2" r="0.83" fill="#ff3ca2"/>
<circle cx="263.2" cy="455.8" r="0.85" fill="#ff3ca2"/>
<circle cx="265.8" cy="456.7" r="0.84" fill="#ff3ca2"/>
<circle cx="261.6" cy="456.7" r="0.84" fill="#ff3ca2"/>
<circle cx="261.2" cy="456.1" r="0.85" fill="#ff3ca2"/>
<circle cx="266.1" cy="452.8" r="0.89" fill="#ff3ca2"/>
<circle cx="261.2" cy="451.8" r="0.91" fill="#ff3ca2"/>
<circle cx="259.2" cy="452.0" r="0.91" fill="#ff3ca2"/>
<circle cx="253.2" cy="449.6" r="0.94" fill="#ff3ca2"/>
<circle cx="263.8" cy="454.2" r="0.87" fill="#ff3ca2"/>
<circle cx="264.2" cy="451.4" r="0.92" fill="#ff3ca2"/>
<circle cx="256.8" cy="457.1" r="0.83" fill="#ff3ca2"/>
<circle cx="260.3" cy="452.8" r="0.90" fill="#ff3ca2"/>
<circle cx="265.3" cy="454.7" r="0.87" fill="#ff3ca2"/>
<circle cx="261.6" cy="456.7" r="0.84" fill="#ff3ca2"/>
<circle cx="260.0" cy="456.4" r="0.84" fill="#ff3ca2"/>
<circle cx="249.8" cy="452.1" r="0.90" fill="#ff3ca2"/>
<circle cx="268.4" cy="452.2" r="0.90" fill="#000000"/>
<circle cx="268.5" cy="456.9" r="0.83" fill="#000000"/>
<circle cx="271.8" cy="453.8" r="0.88" fill="#000000"/>
<circle cx="270.1" cy="456.2" r="0.84" fill="#000000"/>
<circle cx="286.5" cy="454.3" r="0.87" fill="#000000"/>
<circle cx="282.9" cy="457.0" r="0.83" fill="#000000"/>
<circle cx="284.1" cy="457.1" r="0.83" fill="#000000"/>
<circle cx="278.3" cy="455.8" r="0.85" fill="#000000"/>
<circle cx="270.4" cy="455.3" r="0.86" fill="#000000"/>
<circle cx="269.1" cy="456.3" r="0.84" fill="#000000"/>
<circle cx="280.3" cy="451.0" r="0.92" fill="#000000"/>
<circle cx="282.1" cy="456.5" r="0.84" fill="#000000"/>
<circle cx="273.5" cy="457.2" r="0.83" fill="#000000"/>
<circle cx="268.1" cy="453.9" r="0.88" fill="#000000"/>
<circle cx="285.4" cy="457.2" r="0.83" fill="#000000"/>
<circle cx="269.9" cy="451.8" r="0.91" fill="#000000"/>
<circle cx="289.3" cy="455.2" r="0.86" fill="#000000"/>
<circle cx="272.3" cy="456.4" r="0.84" fill="#000000"/>
<circle cx="291.0" cy="455.8" r="0.85" fill="#000000"/>
<circle cx="283.7" cy="455.5" r="0.85" fill="#000000"/>
<circle cx="283.3" cy="454.2" r="0.87" fill="#000000"/>
<circle cx="285.7" cy="455.5" r="0.86" fill="#000000"/>
<circle cx="287.3" cy="456.1" r="0.85" fill="#000000"/>
<circle cx="285.8" cy="456.0" r="0.85" fill="#000000"/>
<circle cx="283.6" cy="454.8" r="0.87" fill="#000000"/>
<circle cx="283.5" cy="453.1" r="0.89" fill="#000000"/>
<circle cx="286.3" cy="455.9" r="0.85" fill="#000000"/>
<circle cx="271.8" cy="457.0" r="0.83" fill="#000000"/>
<circle cx="287.8" cy="457.0" r="0.83" fill="#000000"/>
<circle cx="285.4" cy="451.9" r="0.91" fill="#000000"/>
<circle cx="285.2" cy="457.1" r="0.83" fill="#000000"/>
<circle cx="285.1" cy="456.4" r="0.84" fill="#000000"/>
<circle cx="285.9" cy="456.9" r="0.83" fill="#000000"/>
<circle cx="270.2" cy="455.6" r="0.85" fill="#000000"/>
<circle cx="279.8" cy="454.4" r="0.87" fill="#000000"/>
<circle cx="285.7" cy="456.7" r="0.84" fill="#000000"/>
<circle cx="280.3" cy="456.1" r="0.85" fill="#000000"/>
<circle cx="269.5" cy="453.1" r="0.89" fill="#000000"/>
<circle cx="286.7" cy="457.2" r="0.83" fill="#000000"/>
<circle cx="273.5" cy="451.4" r="0.92" fill="#000000"/>
<circle cx="271.2" cy="457.0" r="0.83" fill="#000000"/>
<circle cx="282.2" cy="455.4" r="0.86" fill="#000000"/>
<circle cx="272.2" cy="457.2" r="0.83" fill="#000000"/>
<circle cx="269.3" cy="456.1" r="0.85" fill="#000000"/>
<circle cx="273.0" cy="455.3" r="0.86" fill="#000000"/>
<circle cx="282.7" cy="451.3" r="0.92" fill="#000000"/>
<circle cx="272.4" cy="456.9" r="0.83" fill="#000000"/>
<circle cx="268.0" cy="454.1" r="0.88" fill="#000000"/>
<circle cx="271.5" cy="454.5" r="0.87" fill="#000000"/>
<circle cx="282.0" cy="451.6" r="0.91" fill="#000000"/>
<circle cx="291.2" cy="450.9" r="0.92" fill="#000000"/>
<circle cx="286.2" cy="457.0" r="0.83" fill="#000000"/>
<circle cx="270.4" cy="455.6" r="0.85" fill="#000000"/>
<circle cx="291.3" cy="453.7" r="0.88" fill="#000000"/>
<circle cx="287.6" cy="456.5" r="0.84" fill="#000000"/>
<circle cx="282.5" cy="451.1" r="0.92" fill="#000000"/>
<circle cx="284.2" cy="454.6" r="0.87" fill="#000000"/>
<circle cx="291.0" cy="456.9" r="0.83" fill="#000000"/>
<circle cx="286.7" cy="456.8" r="0.83" fill="#000000"/>
<circle cx="289.5" cy="453.6" r="0.88" fill="#000000"/>
<circle cx="287.3" cy="456.6" r="0.84" fill="#000000"/>
<circle cx="290.1" cy="457.1" r="0.83" fill="#000000"/>
<circle cx="267.9" cy="454.7" r="0.87" fill="#000000"/>
<circle cx="290.9" cy="455.8" r="0.85" fill="#000000"/>
<circle cx="280.8" cy="453.3" r="0.89" fill="#000000"/>
<circle cx="286.1" cy="452.5" r="0.90" fill="#000000"/>
<circle cx="286.5" cy="455.5" r="0.85" fill="#000000"/>
<circle cx="269.0" cy="454.5" r="0.87" fill="#000000"/>
<circle cx="269.0" cy="453.5" r="0.89" fill="#000000"/>
<circle cx="269.0" cy="455.4" r="0.86" fill="#000000"/>
<circle cx="268.4" cy="454.5" r="0.87" fill="#000000"/>
<circle cx="280.9" cy="454.4" r="0.87" fill="#000000"/>
<circle cx="280.4" cy="456.5" r="0.84" fill="#000000"/>
<circle cx="289.5" cy="455.3" r="0.86" fill="#000000"/>
<circle cx="267.9" cy="454.7" r="0.87" fill="#000000"/>
<circle cx="285.1" cy="452.8" r="0.90" fill="#000000"/>
<circle cx="288.0" cy="451.9" r="0.91" fill="#000000"/>
<circle cx="268.3" cy="456.6" r="0.84" fill="#000000"/>
<circle cx="268.6" cy="457.1" r="0.83" fill="#000000"/>
<circle cx="268.4" cy="453.5" r="0.88" fill="#000000"/>
<circle cx="284.0" cy="455.8" r="0.85" fill="#000000"/>
<circle cx="285.6" cy="455.9" r="0.85" fill="#000000"/>
<circle cx="270.6" cy="455.5" r="0.85" fill="#000000"/>
<circle cx="291.4" cy="456.7" r="0.84" fill="#000000"/>
<circle cx="268.7" cy="455.9" r="0.85" fill="#000000"/>
<circle cx="268.4" cy="456.9" r="0.83" fill="#000000"/>
<circle cx="270.8" cy="453.5" r="0.88" fill="#000000"/>
<circle cx="268.4" cy="456.5" r="0.84" fill="#000000"/>
<circle cx="268.4" cy="453.8" r="0.88" fill="#000000"/>
<circle cx="290.4" cy="455.5" r="0.86" fill="#000000"/>
<circle cx="268.4" cy="455.9" r="0.85" fill="#000000"/>
<circle cx="270.7" cy="454.4" r="0.87" fill="#000000"/>
<circle cx="268.2" cy="453.0" r="0.89" fill="#000000"/>
<circle cx="284.9" cy="452.2" r="0.90" fill="#000000"/>
<circle cx="273.1" cy="454.8" r="0.87" fill="#000000"/>
<circle cx="268.0" cy="456.4" r="0.84" fill="#000000"/>
<circle cx="285.5" cy="452.1" r="0.91" fill="#000000"/>
<circle cx="284.4" cy="452.8" r="0.90" fill="#000000"/>
<circle cx="313.5" cy="456.0" r="0.85" fill="#048c18"/>
<circle cx="314.5" cy="456.3" r="0.84" fill="#048c18"/>
<circle cx="300.5" cy="456.1" r="0.85" fill="#048c18"/>
<circle cx="302.3" cy="456.1" r="0.85" fill="#048c18"/>
<circle cx="293.0" cy="457.1" r="0.83" fill="#048c18"/>
<circle cx="313.7" cy="457.1" r="0.83" fill="#048c18"/>
<circle cx="303.9" cy="454.6" r="0.87" fill="#048c18"/>
<circle cx="296.1" cy="457.0" r="0.83" fill="#048c18"/>
<circle cx="310.3" cy="454.9" r="0.86" fill="#048c18"/>
<circle cx="306.8" cy="452.9" r="0.89" fill="#048c18"/>
<circle cx="301.1" cy="455.9" r="0.85" fill="#048c18"/>
<circle cx="301.2" cy="452.1" r="0.91" fill="#048c18"/>
<circle cx="314.0" cy="455.9" r="0.85" fill="#048c18"/>
<circle cx="302.8" cy="453.3" r="0.89" fill="#048c18"/>
<circle cx="303.3" cy="456.9" r="0.83" fill="#048c18"/>
<circle cx="312.5" cy="452.5" r="0.90" fill="#048c18"/>
<circle cx="302.2" cy="450.5" r="0.93" fill="#048c18"/>
<circle cx="315.2" cy="450.9" r="0.92" fill="#048c18"/>
<circle cx="314.6" cy="456.4" r="0.84" fill="#048c18"/>
<circle cx="302.2" cy="457.0" r="0.83" fill="#048c18"/>
<circle cx="306.0" cy="456.1" r="0.85" fill="#048c18"/>
<circle cx="300.6" cy="456.1" r="0.85" fill="#048c18"/>
<circle cx="302.2" cy="452.7" r="0.90" fill="#048c18"/>
<circle cx="304.7" cy="457.1" r="0.83" fill="#048c18"/>
<circle cx="307.0" cy="455.1" r="0.86" fill="#048c18"/>
<circle cx="304.9" cy="454.3" r="0.87" fill="#048c18"/>
<circle cx="293.3" cy="454.3" r="0.87" fill="#048c18"/>
<circle cx="303.7" cy="452.2" r="0.90" fill="#048c18"/>
<circle cx="315.4" cy="455.6" r="0.85" fill="#048c18"/>
<circle cx="301.6" cy="455.9" r="0.85" fill="#048c18"/>
<circle cx="294.4" cy="450.9" r="0.92" fill="#048c18"/>
<circle cx="306.8" cy="455.9" r="0.85" fill="#048c18"/>
<circle cx="303.8" cy="453.1" r="0.89" fill="#048c18"/>
<circle cx="306.3" cy="456.2" r="0.84" fill="#048c18"/>
<circle cx="305.0" cy="456.1" r="0.85" fill="#048c18"/>
<circle cx="313.8" cy="455.5" r="0.86" fill="#048c18"/>
<circle cx="292.7" cy="453.9" r="0.88" fill="#048c18"/>
<circle cx="301.0" cy="451.1" r="0.92" fill="#048c18"/>
<circle cx="314.3" cy="450.0" r="0.94" fill="#048c18"/>
<circle cx="303.2" cy="455.9" r="0.85" fill="#048c18"/>
<circle cx="302.9" cy="456.5" r="0.84" fill="#048c18"/>
<circle cx="303.5" cy="456.4" r="0.84" fill="#048c18"/>
<circle cx="307.1" cy="456.7" r="0.84" fill="#048c18"/>
<circle cx="302.6" cy="455.3" r="0.86" fill="#048c18"/>
<circle cx="301.2" cy="454.4" r="0.87" fill="#048c18"/>
<circle cx="304.3" cy="457.2" r="0.83" fill="#048c18"/>
<circle cx="311.5" cy="455.1" r="0.86" fill="#048c18"/>
<circle cx="305.5" cy="456.1" r="0.84" fill="#048c18"/>
<circle cx="303.7" cy="457.1" r="0.83" fill="#048c18"/>
<circle cx="301.6" cy="455.9" r="0.85" fill="#048c18"/>
<circle cx="318.4" cy="457.1" r="0.83" fill="#ff3030"/>
<circle cx="320.3" cy="455.4" r="0.86" fill="#ff3030"/>
<circle cx="331.6" cy="451.6" r="0.91" fill="#ff3030"/>
<circle cx="332.4" cy="455.7" r="0.85" fill="#ff3030"/>
<circle cx="319.8" cy="456.8" r="0.84" fill="#ff3030"/>
<circle cx="321.9" cy="452.9" r="0.89" fill="#ff3030"/>
<circle cx="321.4" cy="455.7" r="0.85" fill="#ff3030"/>
<circle cx="330.3" cy="456.9" r="0.83" fill="#ff3030"/>
<circle cx="317.4" cy="457.0" r="0.83" fill="#ff3030"/>
<circle cx="324.2" cy="452.4" r="0.90" fill="#ff3030"/>
<circle cx="319.3" cy="454.9" r="0.86" fill="#ff3030"/>
<circle cx="327.7" cy="456.2" r="0.84" fill="#ff3030"/>
<circle cx="320.6" cy="456.9" r="0.83" fill="#ff3030"/>
<circle cx="332.0" cy="455.3" r="0.86" fill="#ff3030"/>
<circle cx="319.9" cy="455.4" r="0.86" fill="#ff3030"/>
<circle cx="318.5" cy="451.8" r="0.91" fill="#ff3030"/>
<circle cx="323.0" cy="456.0" r="0.85" fill="#ff3030"/>
<circle cx="329.3" cy="452.4" r="0.90" fill="#ff3030"/>
<circle cx="332.5" cy="451.5" r="0.91" fill="#ff3030"/>
<circle cx="318.1" cy="456.4" r="0.84" fill="#ff3030"/>
<circle cx="331.9" cy="456.5" r="0.84" fill="#ff3030"/>
<circle cx="323.8" cy="456.2" r="0.84" fill="#ff3030"/>
<circle cx="338.1" cy="456.3" r="0.84" fill="#ff3030"/>
<circle cx="330.0" cy="453.7" r="0.88" fill="#ff3030"/>
<circle cx="334.9" cy="456.4" r="0.84" fill="#ff3030"/>
<circle cx="324.2" cy="455.7" r="0.85" fill="#ff3030"/>
<circle cx="335.3" cy="454.2" r="0.87" fill="#ff3030"/>
<circle cx="321.9" cy="454.2" r="0.87" fill="#ff3030"/>
<circle cx="321.4" cy="456.6" r="0.84" fill="#ff3030"/>
<circle cx="329.3" cy="456.3" r="0.84" fill="#ff3030"/>
<circle cx="321.2" cy="454.2" r="0.87" fill="#ff3030"/>
<circle cx="330.1" cy="451.8" r="0.91" fill="#ff3030"/>
<circle cx="321.7" cy="455.7" r="0.85" fill="#ff3030"/>
<circle cx="323.9" cy="454.1" r="0.88" fill="#ff3030"/>
<circle cx="321.8" cy="457.0" r="0.83" fill="#ff3030"/>
<circle cx="331.0" cy="457.1" r="0.83" fill="#ff3030"/>
<circle cx="331.8" cy="456.0" r="0.85" fill="#ff3030"/>
<circle cx="321.9" cy="456.2" r="0.84" fill="#ff3030"/>
<circle cx="337.4" cy="457.2" r="0.83" fill="#ff3030"/>
<circle cx="337.3" cy="455.5" r="0.85" fill="#ff3030"/>
<circle cx="331.7" cy="456.9" r="0.83" fill="#ff3030"/>
<circle cx="334.5" cy="453.2" r="0.89" fill="#ff3030"/>
<circle cx="322.9" cy="456.9" r="0.83" fill="#ff3030"/>
<circle cx="338.5" cy="454.6" r="0.87" fill="#ff3030"/>
<circle cx="329.0" cy="454.3" r="0.87" fill="#ff3030"/>
<circle cx="334.6" cy="457.2" r="0.83" fill="#ff3030"/>
<circle cx="332.2" cy="455.8" r="0.85" fill="#ff3030"/>
<circle cx="339.1" cy="457.0" r="0.83" fill="#ff3030"/>
<circle cx="323.4" cy="450.9" r="0.92" fill="#ff3030"/>
<circle cx="334.5" cy="457.3" r="0.83" fill="#ff3030"/>
<circle cx="331.2" cy="454.2" r="0.87" fill="#ff3030"/>
<circle cx="318.4" cy="454.8" r="0.86" fill="#ff3030"/>
<circle cx="329.9" cy="456.9" r="0.83" fill="#ff3030"/>
<circle cx="321.6" cy="455.5" r="0.85" fill="#ff3030"/>
<circle cx="337.7" cy="456.4" r="0.84" fill="#ff3030"/>
<circle cx="319.7" cy="455.7" r="0.85" fill="#ff3030"/>
<circle cx="321.9" cy="456.5" r="0.84" fill="#ff3030"/>
<circle cx="332.1" cy="450.2" r="0.93" fill="#ff3030"/>
<circle cx="349.0" cy="452.7" r="0.90" fill="#1e6ef0"/>
<circle cx="340.7" cy="453.1" r="0.89" fill="#1e6ef0"/>
<circle cx="356.5" cy="457.0" r="0.83" fill="#1e6ef0"/>
<circle cx="351.9" cy="457.1" r="0.83" fill="#1e6ef0"/>
<circle cx="343.3" cy="455.4" r="0.86" fill="#1e6ef0"/>
<circle cx="356.2" cy="457.0" r="0.83" fill="#1e6ef0"/>
<circle cx="357.0" cy="454.7" r="0.87" fill="#1e6ef0"/>
<circle cx="356.9" cy="456.4" r="0.84" fill="#1e6ef0"/>
<circle cx="343.3" cy="456.8" r="0.84" fill="#1e6ef0"/>
<circle cx="348.9" cy="457.0" r="0.83" fill="#1e6ef0"/>
<circle cx="358.1" cy="455.2" r="0.86" fill="#1e6ef0"/>
<circle cx="355.3" cy="455.2" r="0.86" fill="#1e6ef0"/>
<circle cx="341.2" cy="457.1" r="0.83" fill="#1e6ef0"/>
<circle cx="341.2" cy="455.6" r="0.85" fill="#1e6ef0"/>
<circle cx="357.4" cy="449.8" r="0.94" fill="#1e6ef0"/>
<circle cx="353.4" cy="456.0" r="0.85" fill="#1e6ef0"/>
<circle cx="353.7" cy="452.8" r="0.89" fill="#1e6ef0"/>
<circle cx="354.8" cy="455.7" r="0.85" fill="#1e6ef0"/>
<circle cx="342.7" cy="453.8" r="0.88" fill="#1e6ef0"/>
<circle cx="352.8" cy="452.0" r="0.91" fill="#1e6ef0"/>
<circle cx="348.3" cy="455.0" r="0.86" fill="#1e6ef0"/>
<circle cx="342.0" cy="454.8" r="0.87" fill="#1e6ef0"/>
<circle cx="351.4" cy="456.3" r="0.84" fill="#1e6ef0"/>
<circle cx="353.5" cy="457.1" r="0.83" fill="#1e6ef0"/>
<circle cx="353.6" cy="449.7" r="0.94" fill="#1e6ef0"/>
<circle cx="341.8" cy="456.9" r="0.83" fill="#1e6ef0"/>
<circle cx="357.5" cy="452.9" r="0.89" fill="#1e6ef0"/>
<circle cx="359.4" cy="454.5" r="0.87" fill="#1e6ef0"/>
<circle cx="354.8" cy="449.5" r="0.94" fill="#1e6ef0"/>
<circle cx="341.8" cy="454.3" r="0.87" fill="#1e6ef0"/>
<circle cx="360.2" cy="457.0" r="0.83" fill="#1e6ef0"/>
<circle cx="354.5" cy="454.5" r="0.87" fill="#1e6ef0"/>
<circle cx="356.8" cy="455.1" r="0.86" fill="#1e6ef0"/>
<circle cx="352.1" cy="450.8" r="0.92" fill="#1e6ef0"/>
<circle cx="355.4" cy="452.2" r="0.90" fill="#1e6ef0"/>
<circle cx="354.9" cy="454.8" r="0.86" fill="#1e6ef0"/>
<circle cx="355.8" cy="457.0" r="0.83" fill="#1e6ef0"/>
<circle cx="357.7" cy="456.4" r="0.84" fill="#1e6ef0"/>
<circle cx="356.7" cy="450.5" r="0.93" fill="#1e6ef0"/>
<circle cx="354.6" cy="454.7" r="0.87" fill="#1e6ef0"/>
<circle cx="355.0" cy="457.2" r="0.83" fill="#1e6ef0"/>
<circle cx="342.9" cy="450.3" r="0.93" fill="#1e6ef0"/>
<circle cx="357.1" cy="455.8" r="0.85" fill="#1e6ef0"/>
<circle cx="341.9" cy="453.2" r="0.89" fill="#1e6ef0"/>
<circle cx="341.3" cy="455.7" r="0.85" fill="#1e6ef0"/>
<circle cx="341.9" cy="455.2" r="0.86" fill="#1e6ef0"/>
<circle cx="344.9" cy="456.8" r="0.83" fill="#1e6ef0"/>
<circle cx="351.1" cy="456.0" r="0.85" fill="#1e6ef0"/>
<circle cx="354.9" cy="456.2" r="0.84" fill="#1e6ef0"/>
<circle cx="352.7" cy="450.3" r="0.93" fill="#1e6ef0"/>
<circle cx="341.0" cy="452.2" r="0.90" fill="#1e6ef0"/>
<circle cx="353.8" cy="456.2" r="0.84" fill="#1e6ef0"/>
<circle cx="352.0" cy="455.4" r="0.86" fill="#1e6ef0"/>
<circle cx="355.0" cy="452.9" r="0.89" fill="#1e6ef0"/>
<circle cx="244.4" cy="451.9" r="0.91" fill="#ff3ca2"/>
<circle cx="244.3" cy="453.2" r="0.89" fill="#ff3ca2"/>
<circle cx="92.8" cy="451.5" r="0.91" fill="#048c18"/>
<circle cx="92.6" cy="454.2" r="0.87" fill="#048c18"/>
<circle cx="92.7" cy="454.9" r="0.86" fill="#048c18"/>
<circle cx="92.8" cy="456.2" r="0.84" fill="#048c18"/>
<circle cx="92.1" cy="457.2" r="0.83" fill="#048c18"/>
<circle cx="102.6" cy="455.1" r="0.86" fill="#048c18"/>
<circle cx="103.1" cy="455.8" r="0.85" fill="#048c18"/>
<circle cx="103.2" cy="456.8" r="0.84" fill="#048c18"/>
<circle cx="103.3" cy="456.9" r="0.83" fill="#048c18"/>
<circle cx="160.9" cy="453.6" r="0.88" fill="#1e6ef0"/>
<circle cx="161.0" cy="455.1" r="0.86" fill="#1e6ef0"/>
<circle cx="160.0" cy="456.7" r="0.84" fill="#1e6ef0"/>
<circle cx="272.7" cy="455.1" r="0.86" fill="#000000"/>
<circle cx="272.2" cy="456.9" r="0.83" fill="#000000"/>
<circle cx="272.1" cy="457.3" r="0.83" fill="#000000"/>
<circle cx="172.5" cy="455.2" r="0.86" fill="#1e6ef0"/>
<circle cx="172.1" cy="457.0" r="0.83" fill="#1e6ef0"/>
<circle cx="200.4" cy="455.5" r="0.85" fill="#ff4800"/>
<circle cx="143.4" cy="454.9" r="0.86" fill="#ff3030"/>
<circle cx="143.9" cy="456.4" r="0.84" fill="#ff3030"/>
<circle cx="232.8" cy="455.5" r="0.85" fill="#ffc60c"/>
<circle cx="269.7" cy="453.0" r="0.89" fill="#000000"/>
<circle cx="269.9" cy="453.2" r="0.89" fill="#000000"/>
<circle cx="268.5" cy="455.0" r="0.86" fill="#000000"/>
<circle cx="269.4" cy="455.6" r="0.85" fill="#000000"/>
<circle cx="269.4" cy="456.0" r="0.85" fill="#000000"/>
<circle cx="269.2" cy="457.0" r="0.83" fill="#000000"/>
<circle cx="269.7" cy="457.1" r="0.83" fill="#000000"/>
<circle cx="184.5" cy="452.9" r="0.89" fill="#ff4800"/>
<circle cx="185.1" cy="455.8" r="0.85" fill="#ff4800"/>
<circle cx="184.9" cy="456.4" r="0.84" fill="#ff4800"/>
<circle cx="185.2" cy="456.5" r="0.84" fill="#ff4800"/>
<circle cx="109.8" cy="451.4" r="0.92" fill="#048c18"/>
<circle cx="109.1" cy="454.7" r="0.87" fill="#048c18"/>
<circle cx="109.7" cy="455.5" r="0.85" fill="#048c18"/>
<circle cx="354.0" cy="455.4" r="0.86" fill="#1e6ef0"/>
<circle cx="353.5" cy="456.5" r="0.84" fill="#1e6ef0"/>
<circle cx="353.0" cy="456.7" r="0.84" fill="#1e6ef0"/>
<circle cx="353.7" cy="457.2" r="0.83" fill="#1e6ef0"/>
<circle cx="171.6" cy="454.7" r="0.87" fill="#1e6ef0"/>
<circle cx="170.7" cy="455.7" r="0.85" fill="#1e6ef0"/>
<circle cx="360.5" cy="455.5" r="0.85" fill="#1e6ef0"/>
<circle cx="359.8" cy="456.1" r="0.84" fill="#1e6ef0"/>
<circle cx="360.4" cy="456.3" r="0.84" fill="#1e6ef0"/>
<circle cx="282.4" cy="454.5" r="0.87" fill="#000000"/>
<circle cx="281.9" cy="455.7" r="0.85" fill="#000000"/>
<circle cx="282.3" cy="455.9" r="0.85" fill="#000000"/>
<circle cx="282.0" cy="456.8" r="0.84" fill="#000000"/>
<circle cx="281.0" cy="457.1" r="0.83" fill="#000000"/>
<circle cx="355.4" cy="453.6" r="0.88" fill="#1e6ef0"/>
<circle cx="355.5" cy="454.5" r="0.87" fill="#1e6ef0"/>
<circle cx="144.2" cy="452.9" r="0.89" fill="#ff3030"/>
<circle cx="143.8" cy="453.6" r="0.88" fill="#ff3030"/>
<circle cx="144.1" cy="457.2" r="0.83" fill="#ff3030"/>
<circle cx="209.3" cy="452.8" r="0.89" fill="#ff4800"/>
<circle cx="209.2" cy="453.3" r="0.89" fill="#ff4800"/>
<circle cx="174.3" cy="453.4" r="0.89" fill="#1e6ef0"/>
<circle cx="176.1" cy="455.4" r="0.86" fill="#1e6ef0"/>
<circle cx="174.6" cy="455.7" r="0.85" fill="#1e6ef0"/>
<circle cx="338.2" cy="454.9" r="0.86" fill="#ff3030"/>
<circle cx="113.7" cy="451.6" r="0.91" fill="#ff3030"/>
<circle cx="113.5" cy="455.1" r="0.86" fill="#ff3030"/>
<circle cx="114.1" cy="457.0" r="0.83" fill="#ff3030"/>
<circle cx="270.4" cy="452.5" r="0.90" fill="#000000"/>
<circle cx="271.1" cy="454.8" r="0.87" fill="#000000"/>
<circle cx="270.6" cy="455.7" r="0.85" fill="#000000"/>
<circle cx="166.7" cy="455.4" r="0.86" fill="#1e6ef0"/>
<circle cx="239.0" cy="451.1" r="0.92" fill="#ffc60c"/>
<circle cx="239.3" cy="454.2" r="0.87" fill="#ffc60c"/>
<circle cx="239.0" cy="454.4" r="0.87" fill="#ffc60c"/>
<circle cx="238.5" cy="455.2" r="0.86" fill="#ffc60c"/>
<circle cx="239.0" cy="455.8" r="0.85" fill="#ffc60c"/>
<circle cx="239.6" cy="455.8" r="0.85" fill="#ffc60c"/>
<circle cx="264.6" cy="450.8" r="0.93" fill="#ff3ca2"/>
<circle cx="263.5" cy="453.1" r="0.89" fill="#ff3ca2"/>
<circle cx="264.4" cy="454.0" r="0.88" fill="#ff3ca2"/>
<circle cx="264.3" cy="455.4" r="0.86" fill="#ff3ca2"/>
<circle cx="264.9" cy="456.0" r="0.85" fill="#ff3ca2"/>
<circle cx="249.8" cy="452.2" r="0.90" fill="#ff3ca2"/>
<circle cx="249.3" cy="453.5" r="0.88" fill="#ff3ca2"/>
<circle cx="249.7" cy="454.6" r="0.87" fill="#ff3ca2"/>
<circle cx="249.3" cy="455.0" r="0.86" fill="#ff3ca2"/>
<circle cx="248.9" cy="456.3" r="0.84" fill="#ff3ca2"/>
<circle cx="199.4" cy="454.6" r="0.87" fill="#ff4800"/>
<circle cx="200.6" cy="455.4" r="0.86" fill="#ff4800"/>
<circle cx="200.4" cy="455.6" r="0.85" fill="#ff4800"/>
<circle cx="199.2" cy="456.4" r="0.84" fill="#ff4800"/>
<circle cx="200.6" cy="456.6" r="0.84" fill="#ff4800"/>
<circle cx="352.9" cy="452.8" r="0.89" fill="#1e6ef0"/>
<circle cx="352.4" cy="455.7" r="0.85" fill="#1e6ef0"/>
<circle cx="332.1" cy="452.0" r="0.91" fill="#ff3030"/>
<circle cx="183.8" cy="452.2" r="0.90" fill="#ff4800"/>
<circle cx="184.1" cy="453.0" r="0.89" fill="#ff4800"/>
<circle cx="183.9" cy="454.5" r="0.87" fill="#ff4800"/>
<circle cx="183.5" cy="455.4" r="0.86" fill="#ff4800"/>
<circle cx="183.3" cy="455.5" r="0.85" fill="#ff4800"/>
<circle cx="342.5" cy="452.0" r="0.91" fill="#1e6ef0"/>
<circle cx="342.4" cy="454.3" r="0.87" fill="#1e6ef0"/>
<circle cx="117.6" cy="455.5" r="0.85" fill="#ff3030"/>
<circle cx="121.7" cy="453.9" r="0.88" fill="#ff3030"/>
<circle cx="121.6" cy="455.2" r="0.86" fill="#ff3030"/>
<circle cx="121.0" cy="456.2" r="0.84" fill="#ff3030"/>
<circle cx="166.0" cy="455.3" r="0.86" fill="#1e6ef0"/>
<circle cx="166.5" cy="456.9" r="0.83" fill="#1e6ef0"/>
<circle cx="242.5" cy="454.6" r="0.87" fill="#ffc60c"/>
<circle cx="242.0" cy="456.2" r="0.84" fill="#ffc60c"/>
<circle cx="242.8" cy="456.6" r="0.84" fill="#ffc60c"/>
<circle cx="243.0" cy="457.2" r="0.83" fill="#ffc60c"/>
<circle cx="151.7" cy="454.2" r="0.87" fill="#1e6ef0"/>
<circle cx="151.8" cy="457.2" r="0.83" fill="#1e6ef0"/>
<circle cx="264.5" cy="454.8" r="0.86" fill="#ff3ca2"/>
<circle cx="265.5" cy="455.9" r="0.85" fill="#ff3ca2"/>
<circle cx="265.0" cy="456.6" r="0.84" fill="#ff3ca2"/>
<circle cx="264.4" cy="456.7" r="0.84" fill="#ff3ca2"/>
<circle cx="189.1" cy="455.5" r="0.85" fill="#ff4800"/>
<circle cx="188.5" cy="457.2" r="0.83" fill="#ff4800"/>
<circle cx="240.0" cy="450.4" r="0.93" fill="#ffc60c"/>
<circle cx="239.7" cy="453.2" r="0.89" fill="#ffc60c"/>
<circle cx="239.4" cy="454.1" r="0.87" fill="#ffc60c"/>
<circle cx="240.0" cy="454.3" r="0.87" fill="#ffc60c"/>
<circle cx="239.8" cy="456.1" r="0.85" fill="#ffc60c"/>
<circle cx="240.0" cy="457.0" r="0.83" fill="#ffc60c"/>
<circle cx="97.9" cy="455.3" r="0.86" fill="#048c18"/>
<circle cx="98.9" cy="455.7" r="0.85" fill="#048c18"/>
<circle cx="289.3" cy="452.2" r="0.90" fill="#000000"/>
<circle cx="288.9" cy="456.0" r="0.85" fill="#000000"/>
<circle cx="142.0" cy="451.8" r="0.91" fill="#ff3030"/>
<circle cx="141.8" cy="453.8" r="0.88" fill="#ff3030"/>
<circle cx="102.8" cy="455.1" r="0.86" fill="#048c18"/>
<circle cx="202.0" cy="455.1" r="0.86" fill="#ff4800"/>
<circle cx="229.6" cy="452.7" r="0.90" fill="#ffc60c"/>
<circle cx="229.1" cy="455.7" r="0.85" fill="#ffc60c"/>
<circle cx="229.6" cy="456.9" r="0.83" fill="#ffc60c"/>
<circle cx="220.1" cy="452.3" r="0.90" fill="#ffc60c"/>
<circle cx="219.8" cy="455.3" r="0.86" fill="#ffc60c"/>
<circle cx="113.6" cy="452.6" r="0.90" fill="#ff3030"/>
<circle cx="112.7" cy="454.5" r="0.87" fill="#ff3030"/>
<circle cx="113.3" cy="455.7" r="0.85" fill="#ff3030"/>
<circle cx="113.5" cy="456.3" r="0.84" fill="#ff3030"/>
<circle cx="268.7" cy="455.3" r="0.86" fill="#000000"/>
<circle cx="269.1" cy="452.9" r="0.89" fill="#000000"/>
<circle cx="268.4" cy="454.1" r="0.88" fill="#000000"/>
<circle cx="320.3" cy="344.2" r="1.75" fill="#ff3030"/>
<circle cx="320.3" cy="361.0" r="1.75" fill="#ff3030"/>
<circle cx="320.3" cy="375.5" r="1.75" fill="#ff3030"/>
<circle cx="320.3" cy="380.7" r="1.75" fill="#ff3030"/>
<circle cx="320.3" cy="383.3" r="1.75" fill="#ff3030"/>
<circle cx="320.3" cy="402.5" r="1.65" fill="#ff3030"/>
<circle cx="320.3" cy="407.0" r="1.58" fill="#ff3030"/>
<circle cx="320.3" cy="422.0" r="1.36" fill="#ff3030"/>
<circle cx="320.3" cy="424.0" r="1.33" fill="#ff3030"/>
<circle cx="320.3" cy="426.0" r="1.30" fill="#ff3030"/>
<circle cx="320.3" cy="428.1" r="1.26" fill="#ff3030"/>
<circle cx="320.3" cy="430.3" r="1.23" fill="#ff3030"/>
<circle cx="320.3" cy="432.5" r="1.20" fill="#ff3030"/>
<circle cx="320.3" cy="434.7" r="1.17" fill="#ff3030"/>
<circle cx="320.3" cy="436.8" r="1.13" fill="#ff3030"/>
<circle cx="320.3" cy="439.0" r="1.10" fill="#ff3030"/>
<circle cx="320.3" cy="441.2" r="1.07" fill="#ff3030"/>
<circle cx="320.3" cy="443.4" r="1.04" fill="#ff3030"/>
<circle cx="320.3" cy="445.1" r="1.01" fill="#ff3030"/>
<circle cx="320.1" cy="446.8" r="0.98" fill="#ff3030"/>
<circle cx="320.4" cy="448.6" r="0.96" fill="#ff3030"/>
<circle cx="319.6" cy="440.8" r="1.07" fill="#ff3030"/>
<circle cx="319.6" cy="443.4" r="1.04" fill="#ff3030"/>
<circle cx="319.5" cy="446.0" r="1.00" fill="#ff3030"/>
<circle cx="319.5" cy="448.6" r="0.96" fill="#ff3030"/>
<circle cx="321.2" cy="441.6" r="1.06" fill="#ff3030"/>
<circle cx="321.2" cy="444.2" r="1.02" fill="#ff3030"/>
<circle cx="321.0" cy="446.8" r="0.98" fill="#ff3030"/>
<circle cx="318.6" cy="442.5" r="1.05" fill="#ff3030"/>
<circle cx="318.5" cy="446.0" r="1.00" fill="#ff3030"/>
<circle cx="322.0" cy="443.4" r="1.04" fill="#ff3030"/>
<circle cx="321.8" cy="447.7" r="0.97" fill="#ff3030"/>
<circle cx="333.0" cy="436.6" r="1.14" fill="#ff3030"/>
<circle cx="332.9" cy="446.0" r="1.00" fill="#ff3030"/>
<circle cx="338.6" cy="435.0" r="1.16" fill="#ff3030"/>
<circle cx="338.0" cy="441.0" r="1.07" fill="#ff3030"/>
<circle cx="338.0" cy="443.0" r="1.04" fill="#ff3030"/>
<circle cx="338.2" cy="446.0" r="1.00" fill="#ff3030"/>
<circle cx="337.8" cy="449.0" r="0.95" fill="#ff3030"/>
<circle cx="338.0" cy="452.1" r="0.91" fill="#ff3030"/>
<circle cx="330.0" cy="448.0" r="0.97" fill="#ff3030"/>
<circle cx="328.9" cy="450.6" r="0.93" fill="#ff3030"/>
<circle cx="331.8" cy="452.1" r="0.91" fill="#ff3030"/>
<circle cx="83.9" cy="413.0" r="1.49" fill="#048c18"/>
<circle cx="83.9" cy="439.7" r="1.09" fill="#048c18"/>
<circle cx="92.5" cy="431.4" r="1.22" fill="#048c18"/>
<circle cx="69.5" cy="435.5" r="1.15" fill="#048c18"/>
<circle cx="69.5" cy="445.1" r="1.01" fill="#048c18"/>
<circle cx="69.3" cy="442.2" r="1.05" fill="#048c18"/>
<circle cx="85.8" cy="442.2" r="1.05" fill="#048c18"/>
<circle cx="89.6" cy="442.2" r="1.05" fill="#048c18"/>
<circle cx="90.5" cy="444.1" r="1.02" fill="#048c18"/>
<circle cx="82.9" cy="445.1" r="1.01" fill="#048c18"/>
<circle cx="82.8" cy="448.0" r="0.97" fill="#048c18"/>
<circle cx="82.9" cy="450.8" r="0.92" fill="#048c18"/>
<circle cx="89.8" cy="446.0" r="1.00" fill="#048c18"/>
<circle cx="89.8" cy="449.9" r="0.94" fill="#048c18"/>
<circle cx="73.6" cy="446.0" r="1.00" fill="#048c18"/>
<circle cx="73.5" cy="449.0" r="0.95" fill="#048c18"/>
<circle cx="76.4" cy="450.0" r="0.94" fill="#048c18"/>
<circle cx="98.5" cy="446.0" r="1.00" fill="#048c18"/>
<circle cx="99.3" cy="449.0" r="0.95" fill="#048c18"/>
<circle cx="108.7" cy="445.1" r="1.01" fill="#048c18"/>
<circle cx="109.3" cy="448.0" r="0.97" fill="#048c18"/>
<circle cx="109.6" cy="450.8" r="0.92" fill="#048c18"/>
<circle cx="103.9" cy="450.3" r="0.93" fill="#048c18"/>
<circle cx="95.0" cy="450.3" r="0.93" fill="#048c18"/>
<circle cx="116.7" cy="441.3" r="1.07" fill="#ff3030"/>
<circle cx="113.7" cy="446.6" r="0.99" fill="#ff3030"/>
<circle cx="117.4" cy="449.9" r="0.94" fill="#ff3030"/>
<circle cx="137.5" cy="446.0" r="1.00" fill="#ff3030"/>
<circle cx="139.6" cy="446.6" r="0.99" fill="#ff3030"/>
<circle cx="142.1" cy="444.1" r="1.02" fill="#ff3030"/>
<circle cx="144.1" cy="448.0" r="0.97" fill="#ff3030"/>
<circle cx="144.2" cy="449.9" r="0.94" fill="#ff3030"/>
<circle cx="144.0" cy="451.8" r="0.91" fill="#ff3030"/>
<circle cx="138.7" cy="450.3" r="0.93" fill="#ff3030"/>
<circle cx="141.1" cy="451.2" r="0.92" fill="#ff3030"/>
<circle cx="145.9" cy="444.7" r="1.02" fill="#1e6ef0"/>
<circle cx="164.0" cy="449.9" r="0.94" fill="#1e6ef0"/>
<circle cx="157.3" cy="452.7" r="0.90" fill="#1e6ef0"/>
<circle cx="171.8" cy="443.2" r="1.04" fill="#1e6ef0"/>
<circle cx="173.6" cy="445.4" r="1.00" fill="#1e6ef0"/>
<circle cx="174.4" cy="448.0" r="0.97" fill="#1e6ef0"/>
<circle cx="163.6" cy="449.9" r="0.94" fill="#1e6ef0"/>
<circle cx="165.7" cy="450.3" r="0.93" fill="#1e6ef0"/>
<circle cx="169.6" cy="450.8" r="0.93" fill="#1e6ef0"/>
<circle cx="171.4" cy="449.4" r="0.95" fill="#1e6ef0"/>
<circle cx="175.1" cy="450.3" r="0.93" fill="#1e6ef0"/>
<circle cx="188.6" cy="440.3" r="1.08" fill="#ff4800"/>
<circle cx="188.6" cy="442.5" r="1.05" fill="#ff4800"/>
<circle cx="188.6" cy="444.2" r="1.02" fill="#ff4800"/>
<circle cx="188.4" cy="446.0" r="1.00" fill="#ff4800"/>
<circle cx="188.6" cy="447.7" r="0.97" fill="#ff4800"/>
<circle cx="188.4" cy="449.4" r="0.95" fill="#ff4800"/>
<circle cx="188.7" cy="451.2" r="0.92" fill="#ff4800"/>
<circle cx="188.6" cy="452.9" r="0.89" fill="#ff4800"/>
<circle cx="178.1" cy="447.4" r="0.98" fill="#ff4800"/>
<circle cx="181.1" cy="449.3" r="0.95" fill="#ff4800"/>
<circle cx="184.1" cy="450.8" r="0.92" fill="#ff4800"/>
<circle cx="195.3" cy="449.3" r="0.95" fill="#ff4800"/>
<circle cx="202.4" cy="448.6" r="0.96" fill="#ff4800"/>
<circle cx="200.8" cy="450.8" r="0.92" fill="#ff4800"/>
<circle cx="205.1" cy="449.9" r="0.94" fill="#ff4800"/>
<circle cx="205.8" cy="452.3" r="0.90" fill="#ff4800"/>
<circle cx="219.2" cy="440.9" r="1.07" fill="#ffc60c"/>
<circle cx="224.0" cy="444.1" r="1.02" fill="#ffc60c"/>
<circle cx="222.0" cy="445.1" r="1.01" fill="#ffc60c"/>
<circle cx="215.0" cy="445.1" r="1.01" fill="#ffc60c"/>
<circle cx="213.6" cy="446.6" r="0.99" fill="#ffc60c"/>
<circle cx="215.7" cy="448.0" r="0.97" fill="#ffc60c"/>
<circle cx="237.4" cy="445.7" r="1.00" fill="#ffc60c"/>
<circle cx="232.1" cy="448.6" r="0.96" fill="#ffc60c"/>
<circle cx="235.6" cy="450.8" r="0.92" fill="#ffc60c"/>
<circle cx="240.3" cy="449.9" r="0.94" fill="#ffc60c"/>
<circle cx="213.0" cy="448.6" r="0.96" fill="#ffc60c"/>
<circle cx="212.8" cy="450.3" r="0.93" fill="#ffc60c"/>
<circle cx="214.4" cy="449.4" r="0.95" fill="#ffc60c"/>
<circle cx="214.4" cy="451.2" r="0.92" fill="#ffc60c"/>
<circle cx="216.3" cy="449.4" r="0.95" fill="#ffc60c"/>
<circle cx="216.7" cy="451.2" r="0.92" fill="#ffc60c"/>
<circle cx="248.2" cy="446.0" r="1.00" fill="#ff3ca2"/>
<circle cx="250.8" cy="448.6" r="0.96" fill="#ff3ca2"/>
<circle cx="252.6" cy="449.9" r="0.94" fill="#ff3ca2"/>
<circle cx="248.0" cy="450.3" r="0.93" fill="#ff3ca2"/>
<circle cx="255.7" cy="450.3" r="0.93" fill="#ff3ca2"/>
<circle cx="258.5" cy="449.4" r="0.95" fill="#ff3ca2"/>
<circle cx="263.8" cy="451.8" r="0.91" fill="#ff3ca2"/>
<circle cx="268.0" cy="443.0" r="1.04" fill="#000000"/>
<circle cx="289.6" cy="444.0" r="1.03" fill="#000000"/>
<circle cx="290.9" cy="446.0" r="1.00" fill="#000000"/>
<circle cx="290.1" cy="448.0" r="0.97" fill="#000000"/>
<circle cx="289.9" cy="450.3" r="0.93" fill="#000000"/>
<circle cx="287.9" cy="450.3" r="0.93" fill="#000000"/>
<circle cx="286.7" cy="451.2" r="0.92" fill="#000000"/>
<circle cx="285.0" cy="448.6" r="0.96" fill="#000000"/>
<circle cx="275.0" cy="449.4" r="0.95" fill="#000000"/>
<circle cx="269.9" cy="450.3" r="0.93" fill="#000000"/>
<circle cx="277.8" cy="451.2" r="0.92" fill="#000000"/>
<circle cx="280.9" cy="451.2" r="0.92" fill="#000000"/>
<circle cx="294.0" cy="441.6" r="1.06" fill="#048c18"/>
<circle cx="311.0" cy="442.0" r="1.06" fill="#048c18"/>
<circle cx="315.0" cy="444.0" r="1.03" fill="#048c18"/>
<circle cx="314.8" cy="450.3" r="0.93" fill="#048c18"/>
<circle cx="313.9" cy="447.0" r="0.98" fill="#048c18"/>
<circle cx="312.8" cy="449.0" r="0.95" fill="#048c18"/>
<circle cx="316.2" cy="448.0" r="0.97" fill="#048c18"/>
<circle cx="301.6" cy="449.4" r="0.95" fill="#048c18"/>
<circle cx="299.9" cy="451.4" r="0.92" fill="#048c18"/>
<circle cx="305.9" cy="451.2" r="0.92" fill="#048c18"/>
<circle cx="309.0" cy="452.1" r="0.91" fill="#048c18"/>
<circle cx="351.0" cy="450.3" r="0.93" fill="#1e6ef0"/>
<circle cx="352.0" cy="451.2" r="0.92" fill="#1e6ef0"/>
<circle cx="355.5" cy="450.3" r="0.93" fill="#1e6ef0"/>
<circle cx="359.0" cy="450.3" r="0.93" fill="#1e6ef0"/>
<circle cx="358.1" cy="452.1" r="0.91" fill="#1e6ef0"/>
<circle cx="340.8" cy="451.2" r="0.92" fill="#1e6ef0"/>
<circle cx="341.9" cy="452.1" r="0.91" fill="#1e6ef0"/>
<rect x="56.4" y="336.2" width="316.6" height="140.0" fill="none" stroke="#000" stroke-width="1.3"/>
<path d="M52.6 462.5H56.4M52.6 445.1H56.4M52.6 427.7H56.4M52.6 410.3H56.4M52.6 392.9H56.4M52.6 375.5H56.4M52.6 358.1H56.4M52.6 340.7H56.4M89.6 476.2v3.4M127.4 476.2v3.4M163.4 476.2v3.4M197.4 476.2v3.4M227.5 476.2v3.4M258.6 476.2v3.4M282.8 476.2v3.4M307.4 476.2v3.4M330.5 476.2v3.4M352.7 476.2v3.4" stroke="#000" stroke-width="1" fill="none"/>
<text transform="translate(47.4 462.5) rotate(-90)" text-anchor="middle" style="font-family:'DejaVu Sans','Liberation Sans',sans-serif;font-size:8.8px;fill:#111;stroke:#111;stroke-width:.2px">1</text>
<text transform="translate(47.4 445.1) rotate(-90)" text-anchor="middle" style="font-family:'DejaVu Sans','Liberation Sans',sans-serif;font-size:8.8px;fill:#111;stroke:#111;stroke-width:.2px">3</text>
<text transform="translate(47.4 427.7) rotate(-90)" text-anchor="middle" style="font-family:'DejaVu Sans','Liberation Sans',sans-serif;font-size:8.8px;fill:#111;stroke:#111;stroke-width:.2px">5</text>
<text transform="translate(47.4 410.3) rotate(-90)" text-anchor="middle" style="font-family:'DejaVu Sans','Liberation Sans',sans-serif;font-size:8.8px;fill:#111;stroke:#111;stroke-width:.2px">7</text>
<text transform="translate(47.4 392.9) rotate(-90)" text-anchor="middle" style="font-family:'DejaVu Sans','Liberation Sans',sans-serif;font-size:8.8px;fill:#111;stroke:#111;stroke-width:.2px">9</text>
<text transform="translate(47.4 375.5) rotate(-90)" text-anchor="middle" style="font-family:'DejaVu Sans','Liberation Sans',sans-serif;font-size:8.8px;fill:#111;stroke:#111;stroke-width:.2px">11</text>
<text transform="translate(47.4 340.7) rotate(-90)" text-anchor="middle" style="font-family:'DejaVu Sans','Liberation Sans',sans-serif;font-size:8.8px;fill:#111;stroke:#111;stroke-width:.2px">15</text>
<text x="89.6" y="488.8" text-anchor="middle" style="font-family:'DejaVu Sans','Liberation Sans',sans-serif;font-size:8.8px;fill:#111;stroke:#111;stroke-width:.2px">1</text>
<text x="127.4" y="488.8" text-anchor="middle" style="font-family:'DejaVu Sans','Liberation Sans',sans-serif;font-size:8.8px;fill:#111;stroke:#111;stroke-width:.2px">2</text>
<text x="163.4" y="488.8" text-anchor="middle" style="font-family:'DejaVu Sans','Liberation Sans',sans-serif;font-size:8.8px;fill:#111;stroke:#111;stroke-width:.2px">3</text>
<text x="197.4" y="488.8" text-anchor="middle" style="font-family:'DejaVu Sans','Liberation Sans',sans-serif;font-size:8.8px;fill:#111;stroke:#111;stroke-width:.2px">4</text>
<text x="227.5" y="488.8" text-anchor="middle" style="font-family:'DejaVu Sans','Liberation Sans',sans-serif;font-size:8.8px;fill:#111;stroke:#111;stroke-width:.2px">5</text>
<text x="258.6" y="488.8" text-anchor="middle" style="font-family:'DejaVu Sans','Liberation Sans',sans-serif;font-size:8.8px;fill:#111;stroke:#111;stroke-width:.2px">6</text>
<text x="282.8" y="488.8" text-anchor="middle" style="font-family:'DejaVu Sans','Liberation Sans',sans-serif;font-size:8.8px;fill:#111;stroke:#111;stroke-width:.2px">7</text>
<text x="307.4" y="488.8" text-anchor="middle" style="font-family:'DejaVu Sans','Liberation Sans',sans-serif;font-size:8.8px;fill:#111;stroke:#111;stroke-width:.2px">8</text>
<text x="330.5" y="488.8" text-anchor="middle" style="font-family:'DejaVu Sans','Liberation Sans',sans-serif;font-size:8.8px;fill:#111;stroke:#111;stroke-width:.2px">9</text>
<text x="352.7" y="488.8" text-anchor="middle" style="font-family:'DejaVu Sans','Liberation Sans',sans-serif;font-size:8.8px;fill:#111;stroke:#111;stroke-width:.2px">10</text>
<text transform="translate(36.7 407.3) rotate(-90)" text-anchor="middle" style="font-family:'DejaVu Sans','Liberation Sans',sans-serif;font-size:9.6px;fill:#111;stroke:#111;stroke-width:.2px">EPC</text>
<polygon points="537.6,420.8 528.2,428.3 522.7,431.6 518.8,433.6 515.8,435.0 513.4,436.1 511.3,437.0 509.5,437.7 507.9,438.4 506.5,438.9 505.2,439.4 504.0,439.9 502.9,440.3 501.9,440.7 501.0,441.0 500.1,441.3 498.5,441.9 497.8,442.2 496.5,442.6 495.2,443.1 494.1,443.5 493.1,443.8 491.6,444.3 490.8,444.6 489.6,445.0 488.4,445.4 487.1,445.8 485.9,446.2 484.7,446.6 483.7,446.9 482.5,447.3 481.4,447.7 480.2,448.1 479.1,448.4 478.1,448.7 476.8,449.1 475.6,449.5 474.6,449.8 473.4,450.2 472.3,450.6 471.1,450.9 470.0,451.3 468.8,451.6 467.7,452.0 466.5,452.3 465.4,452.7 464.2,453.0 463.1,453.4 462.0,453.7 460.8,454.1 459.7,454.4 458.5,454.8 457.3,455.1 456.2,455.4 455.1,455.8 453.9,456.1 452.8,456.5 451.6,456.8 450.5,457.2 449.3,457.5 448.2,457.8 447.0,458.2 445.9,458.5 444.8,458.9 443.6,459.2 442.5,459.5 441.3,459.9 440.2,460.2 439.0,460.6 437.9,460.9 436.7,461.2 435.6,461.6 434.4,461.9 433.3,462.2 432.1,462.6 431.0,462.9 429.9,463.2 428.7,463.6 427.6,463.9 426.4,464.2 425.3,464.6 424.1,464.9 423.0,465.3 421.8,465.6 420.7,465.9 419.5,466.3 418.4,466.6 417.2,466.9 416.1,467.3 415.0,467.6 413.8,467.9 412.7,468.3 411.5,468.6 410.4,468.9 409.2,469.3 408.1,469.6 406.9,469.9 405.8,470.3 404.6,470.6 403.5,470.9 402.3,471.3 401.2,471.6 401.2,471.6 402.3,471.3 403.5,471.0 404.6,470.6 405.8,470.3 406.9,470.0 408.1,469.7 409.2,469.3 410.4,469.0 411.5,468.7 412.7,468.3 413.8,468.0 415.0,467.7 416.1,467.4 417.2,467.0 418.4,466.7 419.5,466.4 420.7,466.1 421.8,465.7 423.0,465.4 424.1,465.1 425.3,464.8 426.4,464.4 427.6,464.1 428.7,463.8 429.9,463.5 431.0,463.1 432.1,462.8 433.3,462.5 434.4,462.2 435.6,461.8 436.7,461.5 437.9,461.2 439.0,460.9 440.2,460.6 441.3,460.2 442.5,459.9 443.6,459.6 444.8,459.3 445.9,458.9 447.0,458.6 448.2,458.3 449.3,458.0 450.5,457.7 451.6,457.3 452.8,457.0 453.9,456.7 455.1,456.4 456.2,456.1 457.3,455.8 458.5,455.4 459.7,455.1 460.8,454.8 462.0,454.5 463.1,454.2 464.2,453.9 465.4,453.6 466.5,453.3 467.7,452.9 468.8,452.6 470.0,452.3 471.1,452.0 472.3,451.7 473.4,451.4 474.6,451.1 475.6,450.8 476.8,450.5 478.1,450.2 479.1,449.9 480.2,449.6 481.4,449.3 482.5,449.0 483.7,448.7 484.7,448.4 485.9,448.1 487.1,447.8 488.4,447.5 489.6,447.2 490.8,446.9 491.6,446.6 493.1,446.3 494.1,446.0 495.2,445.8 496.5,445.5 497.8,445.1 498.5,444.9 500.1,444.6 501.0,444.3 501.9,444.1 502.9,443.9 504.0,443.6 505.2,443.4 506.5,443.1 507.9,442.7 509.5,442.4 511.3,442.0 513.4,441.5 515.8,441.0 518.8,440.3 522.7,439.5 528.2,438.4 537.6,436.6" fill="#bebebe"/>
<line x1="396.0" y1="473.1" x2="543.2" y2="430.7" stroke="#333" stroke-width="0.9"/>
<polyline points="401.2,471.6 401.8,471.4 402.4,471.2 403.1,471.1 403.7,470.9 404.3,470.7 404.9,470.5 405.6,470.3 406.2,470.2 406.8,470.0 407.4,469.8 408.0,469.6 408.7,469.5 409.3,469.3 409.9,469.1 410.5,468.9 411.2,468.7 411.8,468.6 412.4,468.4 413.0,468.2 413.6,468.0 414.3,467.8 414.9,467.7 415.5,467.5 416.1,467.3 416.8,467.1 417.4,466.9 418.0,466.8 418.6,466.6 419.2,466.4 419.9,466.2 420.5,466.0 421.1,465.9 421.7,465.7 422.4,465.5 423.0,465.3 423.6,465.2 424.2,465.0 424.8,464.8 425.5,464.6 426.1,464.4 426.7,464.3 427.3,464.1 428.0,463.9 428.6,463.7 429.2,463.5 429.8,463.3 430.4,463.1 431.1,462.9 431.7,462.7 432.3,462.5 432.9,462.3 433.6,462.1 434.2,461.9 434.8,461.7 435.4,461.5 436.0,461.3 436.7,461.1 437.3,460.9 437.9,460.7 438.5,460.5 439.2,460.3 439.8,460.1 440.4,459.9 441.0,459.6 441.6,459.4 442.3,459.2 442.9,459.0 443.5,458.8 444.1,458.6 444.8,458.4 445.4,458.2 446.0,458.0 446.6,457.8 447.2,457.6 447.9,457.4 448.5,457.2 449.1,457.0 449.7,456.8 450.4,456.5 451.0,456.3 451.6,456.1 452.2,455.9 452.8,455.7 453.5,455.5 454.1,455.3 454.7,455.1 455.3,454.9 456.0,454.7 456.6,454.4 457.2,454.2 457.8,454.0 458.4,453.8 459.1,453.6 459.7,453.4 460.3,453.2 460.9,453.0 461.6,452.8 462.2,452.6 462.8,452.4 463.4,452.1 464.0,451.9 464.7,451.7 465.3,451.5 465.9,451.2 466.5,451.0 467.2,450.8 467.8,450.6 468.4,450.3 469.0,450.1 469.6,449.9 470.3,449.7 470.9,449.4 471.5,449.2 472.1,449.0 472.7,448.8 473.4,448.5 474.0,448.3 474.6,448.1 475.2,447.9 475.9,447.7 476.5,447.4 477.1,447.2 477.7,447.0 478.3,446.8 479.0,446.5 479.6,446.3 480.2,446.0 480.8,445.8 481.5,445.5 482.1,445.3 482.7,445.0 483.3,444.8 483.9,444.5 484.6,444.3 485.2,444.0 485.8,443.8 486.4,443.5 487.1,443.3 487.7,443.0 488.3,442.7 488.9,442.4 489.5,442.1 490.2,441.8 490.8,441.5 491.4,441.2 492.0,441.0 492.7,440.7 493.3,440.4 493.9,440.1 494.5,439.8 495.1,439.5 495.8,439.1 496.4,438.6 497.0,438.1 497.6,437.6 498.3,437.1 498.9,436.6 499.5,436.1 500.1,435.6" fill="none" stroke="#0000cd" stroke-width="2.1" stroke-linecap="round" stroke-linejoin="round"/>
<circle cx="537.6" cy="340.7" r="1.05" fill="#0000cd"/>
<circle cx="528.2" cy="357.6" r="1.05" fill="#0000cd"/>
<circle cx="522.7" cy="372.6" r="1.05" fill="#0000cd"/>
<circle cx="518.8" cy="378.0" r="1.05" fill="#0000cd"/>
<circle cx="515.8" cy="381.4" r="1.05" fill="#0000cd"/>
<circle cx="513.4" cy="400.9" r="1.05" fill="#0000cd"/>
<circle cx="511.3" cy="404.8" r="1.05" fill="#0000cd"/>
<circle cx="509.5" cy="411.3" r="1.05" fill="#0000cd"/>
<circle cx="507.9" cy="421.2" r="1.05" fill="#0000cd"/>
<circle cx="506.5" cy="425.7" r="1.05" fill="#0000cd"/>
<circle cx="505.2" cy="428.2" r="1.05" fill="#0000cd"/>
<circle cx="504.0" cy="430.3" r="1.05" fill="#0000cd"/>
<circle cx="502.9" cy="432.0" r="1.05" fill="#0000cd"/>
<circle cx="501.9" cy="433.6" r="1.05" fill="#0000cd"/>
<circle cx="501.0" cy="434.9" r="1.05" fill="#0000cd"/>
<rect x="396.0" y="336.2" width="147.2" height="140.0" fill="none" stroke="#222" stroke-width="1.2"/>
<path d="M392.4 471.6H396.0M392.4 426.9H396.0M392.4 382.1H396.0M392.4 337.4H396.0M401.2 476.2v3.2M432.3 476.2v3.2M463.4 476.2v3.2M494.5 476.2v3.2M525.6 476.2v3.2" stroke="#222" stroke-width="1" fill="none"/>
<text transform="translate(387 471.6) rotate(-90)" text-anchor="middle" style="font-family:'DejaVu Sans','Liberation Sans',sans-serif;font-size:8.8px;fill:#111;stroke:#111;stroke-width:.2px">0</text>
<text transform="translate(387 426.9) rotate(-90)" text-anchor="middle" style="font-family:'DejaVu Sans','Liberation Sans',sans-serif;font-size:8.8px;fill:#111;stroke:#111;stroke-width:.2px">5</text>
<text transform="translate(387 382.1) rotate(-90)" text-anchor="middle" style="font-family:'DejaVu Sans','Liberation Sans',sans-serif;font-size:8.8px;fill:#111;stroke:#111;stroke-width:.2px">10</text>
<text transform="translate(387 337.4) rotate(-90)" text-anchor="middle" style="font-family:'DejaVu Sans','Liberation Sans',sans-serif;font-size:8.8px;fill:#111;stroke:#111;stroke-width:.2px">15</text>
<text x="401.2" y="488.8" text-anchor="middle" style="font-family:'DejaVu Sans','Liberation Sans',sans-serif;font-size:8.8px;fill:#111;stroke:#111;stroke-width:.2px">0</text>
<text x="432.3" y="488.8" text-anchor="middle" style="font-family:'DejaVu Sans','Liberation Sans',sans-serif;font-size:8.8px;fill:#111;stroke:#111;stroke-width:.2px">1</text>
<text x="463.4" y="488.8" text-anchor="middle" style="font-family:'DejaVu Sans','Liberation Sans',sans-serif;font-size:8.8px;fill:#111;stroke:#111;stroke-width:.2px">2</text>
<text x="494.5" y="488.8" text-anchor="middle" style="font-family:'DejaVu Sans','Liberation Sans',sans-serif;font-size:8.8px;fill:#111;stroke:#111;stroke-width:.2px">3</text>
<text x="525.6" y="488.8" text-anchor="middle" style="font-family:'DejaVu Sans','Liberation Sans',sans-serif;font-size:8.8px;fill:#111;stroke:#111;stroke-width:.2px">4</text>
<text x="219.4" y="504.1" text-anchor="middle" style="font-family:'DejaVu Sans','Liberation Sans',sans-serif;font-size:10px;fill:#111;stroke:#111;stroke-width:.15px">Chromosome</text>
<text x="417.2" y="502.1" style="font-family:'DejaVu Sans','Liberation Sans',sans-serif;font-size:10px;fill:#111;stroke:#111;stroke-width:.15px">Expected<tspan dx="6.9">−</tspan>log<tspan dy="2.2" dx="0.2" style="font-size:7.4px">10</tspan><tspan dy="-2.2" dx="0.9">(</tspan><tspan dx="0.9" style="font-style:italic">p</tspan><tspan dx="1">)</tspan></text>
<text transform="translate(22 295.9) rotate(-90)" style="font-family:'DejaVu Sans','Liberation Sans',sans-serif;font-size:10px;fill:#111;stroke:#111;stroke-width:.15px">Observed<tspan dx="6.9">−</tspan>log<tspan dy="2.2" dx="0.2" style="font-size:7.4px">10</tspan><tspan dy="-2.2" dx="0.9">(</tspan><tspan dx="0.9" style="font-style:italic">p</tspan><tspan dx="1">)</tspan></text>
</svg>
</body></html>
